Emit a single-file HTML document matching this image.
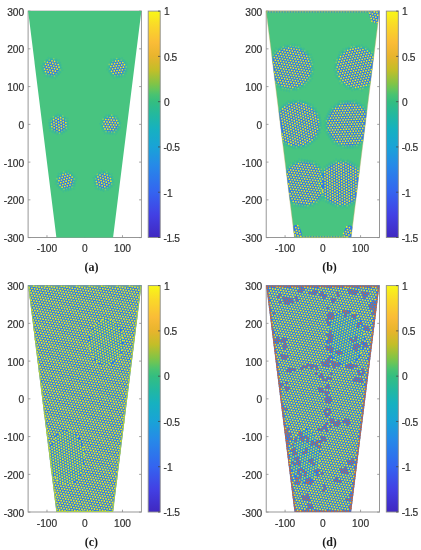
<!DOCTYPE html>
<html><head><meta charset="utf-8"><style>
html,body{margin:0;padding:0;background:#fff;width:421px;height:550px;overflow:hidden}
svg{display:block}
.t{font-family:"Liberation Sans",Arial,sans-serif;font-size:10.2px;fill:#303030;stroke:#303030;stroke-width:0.2px}
.d{letter-spacing:-0.4px}
.cap{font-family:"Liberation Serif","Times New Roman",serif;font-size:12px;font-weight:bold;fill:#1a1a1a}
</style></head><body>
<svg width="421" height="550" viewBox="0 0 421 550"><defs><linearGradient id="cbg" x1="0" y1="0" x2="0" y2="1"><stop offset="0" stop-color="#f8f816"/><stop offset="0.06" stop-color="#fada28"/><stop offset="0.14" stop-color="#fabc37"/><stop offset="0.2" stop-color="#e8b42d"/><stop offset="0.26" stop-color="#c3be28"/><stop offset="0.32" stop-color="#82c446"/><stop offset="0.344" stop-color="#66c55a"/><stop offset="0.368" stop-color="#4ac370"/><stop offset="0.4" stop-color="#34be80"/><stop offset="0.46" stop-color="#22b8a0"/><stop offset="0.52" stop-color="#16b1c0"/><stop offset="0.6" stop-color="#19a3d7"/><stop offset="0.68" stop-color="#268ae8"/><stop offset="0.8" stop-color="#3464f0"/><stop offset="0.9" stop-color="#4240e4"/><stop offset="1" stop-color="#4028c0"/></linearGradient><radialGradient id="sg"><stop offset="0.85" stop-color="#2f78e6"/><stop offset="1" stop-color="#2f78e6" stop-opacity="0"/></radialGradient><clipPath id="trap"><polygon points="28.1,11.1 141.35,11.1 113.04,237.6 56.41,237.6"/></clipPath><radialGradient id="fa"><stop offset="0.569" stop-color="#2f78e6"/><stop offset="0.734" stop-color="#22a2c4" stop-opacity="0.75"/><stop offset="0.862" stop-color="#34b4a4" stop-opacity="0.35"/><stop offset="1" stop-color="#3cb89a" stop-opacity="0"/></radialGradient><radialGradient id="fb0"><stop offset="0.803" stop-color="#2f78e6"/><stop offset="0.879" stop-color="#22a2c4" stop-opacity="0.75"/><stop offset="0.937" stop-color="#34b4a4" stop-opacity="0.35"/><stop offset="1" stop-color="#3cb89a" stop-opacity="0"/></radialGradient><radialGradient id="fb1"><stop offset="0.798" stop-color="#2f78e6"/><stop offset="0.876" stop-color="#22a2c4" stop-opacity="0.75"/><stop offset="0.936" stop-color="#34b4a4" stop-opacity="0.35"/><stop offset="1" stop-color="#3cb89a" stop-opacity="0"/></radialGradient><radialGradient id="fb2"><stop offset="0.813" stop-color="#2f78e6"/><stop offset="0.884" stop-color="#22a2c4" stop-opacity="0.75"/><stop offset="0.94" stop-color="#34b4a4" stop-opacity="0.35"/><stop offset="1" stop-color="#3cb89a" stop-opacity="0"/></radialGradient><radialGradient id="fb3"><stop offset="0.811" stop-color="#2f78e6"/><stop offset="0.884" stop-color="#22a2c4" stop-opacity="0.75"/><stop offset="0.94" stop-color="#34b4a4" stop-opacity="0.35"/><stop offset="1" stop-color="#3cb89a" stop-opacity="0"/></radialGradient><radialGradient id="fb4"><stop offset="0.81" stop-color="#2f78e6"/><stop offset="0.883" stop-color="#22a2c4" stop-opacity="0.75"/><stop offset="0.939" stop-color="#34b4a4" stop-opacity="0.35"/><stop offset="1" stop-color="#3cb89a" stop-opacity="0"/></radialGradient><radialGradient id="fb5"><stop offset="0.81" stop-color="#2f78e6"/><stop offset="0.883" stop-color="#22a2c4" stop-opacity="0.75"/><stop offset="0.939" stop-color="#34b4a4" stop-opacity="0.35"/><stop offset="1" stop-color="#3cb89a" stop-opacity="0"/></radialGradient></defs>
<g transform="translate(0,0)">
<path d="M28.1 237.6h2.3M141.4 237.6h-2.3M28.1 199.85h2.3M141.4 199.85h-2.3M28.1 162.1h2.3M141.4 162.1h-2.3M28.1 124.35h2.3M141.4 124.35h-2.3M28.1 86.6h2.3M141.4 86.6h-2.3M28.1 48.85h2.3M141.4 48.85h-2.3M28.1 11.1h2.3M141.4 11.1h-2.3M46.98 237.5v-2.3M46.98 11.1v2.3M84.72 237.5v-2.3M84.72 11.1v2.3M122.47 237.5v-2.3M122.47 11.1v2.3" stroke="#8c8c8c" stroke-width="0.8" fill="none"/>
<rect x="28.1" y="11.1" width="113.3" height="226.4" fill="none" stroke="#8c8c8c" stroke-width="0.9"/>
</g>
<g transform="translate(0,0)"><polygon points="28.1,11.1 141.35,11.1 113.04,237.6 56.41,237.6" fill="#48c480"/>
<circle cx="51.69" cy="67.72" r="10.9" fill="url(#fa)"/>
<circle cx="117.76" cy="67.72" r="10.9" fill="url(#fa)"/>
<circle cx="58.77" cy="124.35" r="10.9" fill="url(#fa)"/>
<circle cx="110.68" cy="124.35" r="10.9" fill="url(#fa)"/>
<circle cx="65.85" cy="180.97" r="10.9" fill="url(#fa)"/>
<circle cx="103.6" cy="180.97" r="10.9" fill="url(#fa)"/>
<path d="M53.8 58.8h0M49.3 60.2h0M57.3 62h0M44.8 61.7h0M43.8 66.4h0M59.9 69.8h0M58 71.8h0M56.2 73.8h0M46.3 74.2h0M49 74.7h0M51.7 75.3h0M54.4 75.9h0M116.7 58.6h0M112.9 61.5h0M121.1 60.4h0M109.2 64.4h0M109.9 69.1h0M126.1 66.9h0M125.1 69.4h0M124.1 71.9h0M114.9 75.6h0M117.6 75.2h0M120.3 74.9h0M123.1 74.5h0M62.8 116.1h0M58.1 116.5h0M65.6 120h0M53.4 116.9h0M51.4 121.2h0M66.3 128.2h0M64 129.8h0M61.8 131.3h0M52.1 129.4h0M54.6 130.6h0M57.1 131.7h0M59.5 132.9h0M111.7 115.2h0M107.4 117.2h0M115.6 117.9h0M103.1 119.2h0M102.7 123.9h0M119 125.4h0M117.5 127.6h0M115.9 129.9h0M106.1 131.4h0M108.9 131.6h0M111.6 131.9h0M114.3 132.1h0M63.7 172h0M60.3 175.4h0M68.2 173.3h0M57 178.8h0M58.2 183.3h0M74.1 179.1h0M73.4 181.7h0M72.6 184.4h0M64 189.2h0M66.6 188.4h0M69.3 187.7h0M71.9 187h0M106.6 172.3h0M102 173.3h0M109.8 175.8h0M97.3 174.3h0M95.9 178.8h0M111.5 183.9h0M109.5 185.7h0M107.4 187.5h0M97.6 186.8h0M100.2 187.7h0M102.8 188.5h0M105.4 189.4h0" stroke="#c8dc38" stroke-opacity="0.55" stroke-width="1.7" stroke-linecap="round" fill="none"/>
<path d="M48.4 57.6h0M51.1 58.2h0M56.5 59.3h0M59.2 59.9h0M46.6 59.7h0M60 62.5h0M60.9 65.1h0M42.9 63.7h0M61.7 67.7h0M41.1 65.8h0M62.5 70.3h0M42 68.4h0M60.7 72.4h0M42.8 71h0M58.9 74.4h0M43.6 73.6h0M57 76.4h0M44.5 76.2h0M47.2 76.8h0M49.9 77.3h0M52.5 77.9h0M55.2 78.5h0M111.2 59.4h0M114 59h0M119.4 58.2h0M122.1 57.8h0M110.2 61.9h0M123.8 60h0M125.5 62.2h0M108.2 67h0M127.2 64.3h0M107.1 69.5h0M108.8 71.7h0M127.8 69h0M110.5 73.8h0M126.8 71.5h0M112.2 76h0M125.8 74.1h0M113.9 78.2h0M116.6 77.8h0M119.3 77.4h0M122 77h0M124.7 76.6h0M57.9 113.8h0M60.4 114.9h0M65.3 117.3h0M67.8 118.4h0M55.6 115.4h0M68 121.1h0M68.3 123.9h0M51.1 118.5h0M68.5 126.6h0M48.9 120.1h0M68.8 129.3h0M49.1 122.8h0M66.5 130.9h0M49.4 125.5h0M64.3 132.5h0M49.6 128.3h0M62 134.1h0M49.8 131h0M52.3 132.2h0M54.8 133.3h0M57.3 134.5h0M106.2 114.7h0M108.9 115h0M114.4 115.4h0M117.1 115.7h0M104.6 117h0M118.3 118.2h0M119.5 120.7h0M101.5 121.5h0M120.6 123.1h0M99.9 123.7h0M101.1 126.2h0M120.2 127.9h0M102.2 128.7h0M118.6 130.1h0M103.4 131.2h0M117.1 132.4h0M104.6 133.6h0M107.3 133.9h0M110 134.1h0M112.8 134.4h0M115.5 134.6h0M58.4 173.5h0M61 172.8h0M66.3 171.3h0M69 170.6h0M57.7 176.1h0M70.9 172.6h0M72.8 174.5h0M56.2 181.4h0M74.8 176.4h0M55.5 184h0M76.7 178.4h0M57.5 186h0M76 181h0M59.4 187.9h0M75.3 183.7h0M61.3 189.9h0M74.6 186.3h0M63.3 191.8h0M65.9 191.1h0M68.6 190.4h0M71.2 189.7h0M73.9 189h0M101.4 170.6h0M104 171.4h0M109.2 173.1h0M111.8 174h0M99.4 172.4h0M112.4 176.7h0M113 179.3h0M95.3 176.1h0M113.6 182h0M93.3 177.9h0M114.1 184.7h0M93.8 180.6h0M112.1 186.5h0M94.4 183.3h0M110 188.4h0M95 186h0M108 190.2h0M95.6 188.7h0M98.2 189.5h0M100.8 190.3h0M103.4 191.2h0" stroke="#2cb0b4" stroke-opacity="0.3" stroke-width="1.6" stroke-linecap="round" fill="none"/>
<path d="M52 60.8h0M54.6 61.4h0M47.5 62.3h0M50.1 62.8h0M52.8 63.4h0M55.5 64h0M58.2 64.6h0M45.6 64.3h0M48.3 64.9h0M51 65.5h0M53.7 66h0M56.3 66.6h0M59 67.2h0M46.5 66.9h0M49.1 67.5h0M51.8 68.1h0M54.5 68.6h0M57.2 69.2h0M44.6 69h0M47.3 69.5h0M50 70.1h0M52.7 70.7h0M55.4 71.2h0M45.5 71.6h0M48.2 72.1h0M50.8 72.7h0M53.5 73.3h0M115.6 61.1h0M118.4 60.8h0M111.9 64.1h0M114.6 63.7h0M117.3 63.3h0M120 62.9h0M122.8 62.5h0M110.9 66.6h0M113.6 66.2h0M116.3 65.8h0M119 65.5h0M121.7 65.1h0M124.4 64.7h0M112.6 68.8h0M115.3 68.4h0M118 68h0M120.7 67.6h0M123.4 67.2h0M111.5 71.3h0M114.3 70.9h0M117 70.5h0M119.7 70.2h0M122.4 69.8h0M113.2 73.5h0M115.9 73.1h0M118.7 72.7h0M121.4 72.3h0M60.6 117.7h0M63.1 118.8h0M55.9 118.1h0M58.3 119.2h0M60.8 120.4h0M63.3 121.6h0M65.8 122.7h0M53.6 119.7h0M56.1 120.8h0M58.6 122h0M61.1 123.1h0M63.6 124.3h0M66 125.5h0M53.9 122.4h0M56.3 123.5h0M58.8 124.7h0M61.3 125.9h0M63.8 127h0M51.6 124h0M54.1 125.1h0M56.6 126.3h0M59.1 127.4h0M61.5 128.6h0M51.9 126.7h0M54.3 127.8h0M56.8 129h0M59.3 130.2h0M110.1 117.5h0M112.8 117.7h0M105.8 119.5h0M108.5 119.7h0M111.3 119.9h0M114 120.2h0M116.7 120.4h0M104.2 121.7h0M107 121.9h0M109.7 122.2h0M112.4 122.4h0M115.2 122.7h0M117.9 122.9h0M105.4 124.2h0M108.1 124.4h0M110.9 124.7h0M113.6 124.9h0M116.3 125.1h0M103.8 126.4h0M106.6 126.7h0M109.3 126.9h0M112 127.1h0M114.7 127.4h0M105 128.9h0M107.7 129.2h0M110.4 129.4h0M113.2 129.6h0M63 174.7h0M65.6 174h0M59.6 178h0M62.2 177.3h0M64.9 176.6h0M67.5 175.9h0M70.2 175.2h0M58.9 180.7h0M61.5 180h0M64.2 179.3h0M66.8 178.6h0M69.5 177.9h0M72.1 177.1h0M60.8 182.6h0M63.5 181.9h0M66.1 181.2h0M68.8 180.5h0M71.4 179.8h0M60.1 185.3h0M62.8 184.6h0M65.4 183.9h0M68.1 183.2h0M70.7 182.4h0M62.1 187.2h0M64.7 186.5h0M67.3 185.8h0M70 185.1h0M104.6 174.1h0M107.2 175h0M100 175.1h0M102.6 176h0M105.2 176.8h0M107.8 177.7h0M110.4 178.5h0M97.9 176.9h0M100.5 177.8h0M103.1 178.6h0M105.7 179.5h0M108.3 180.3h0M110.9 181.2h0M98.5 179.6h0M101.1 180.5h0M103.7 181.3h0M106.3 182.2h0M108.9 183h0M96.4 181.5h0M99.1 182.3h0M101.7 183.2h0M104.3 184h0M106.9 184.8h0M97 184.1h0M99.6 185h0M102.2 185.8h0M104.8 186.7h0" stroke="#20b4cc" stroke-opacity="0.3" stroke-width="2.3" stroke-linecap="round" fill="none"/>
<path d="M52 60.8h0M54.6 61.4h0M47.5 62.3h0M50.1 62.8h0M52.8 63.4h0M55.5 64h0M58.2 64.6h0M45.6 64.3h0M48.3 64.9h0M51 65.5h0M53.7 66h0M56.3 66.6h0M59 67.2h0M46.5 66.9h0M49.1 67.5h0M51.8 68.1h0M54.5 68.6h0M57.2 69.2h0M44.6 69h0M47.3 69.5h0M50 70.1h0M52.7 70.7h0M55.4 71.2h0M45.5 71.6h0M48.2 72.1h0M50.8 72.7h0M53.5 73.3h0M115.6 61.1h0M118.4 60.8h0M111.9 64.1h0M114.6 63.7h0M117.3 63.3h0M120 62.9h0M122.8 62.5h0M110.9 66.6h0M113.6 66.2h0M116.3 65.8h0M119 65.5h0M121.7 65.1h0M124.4 64.7h0M112.6 68.8h0M115.3 68.4h0M118 68h0M120.7 67.6h0M123.4 67.2h0M111.5 71.3h0M114.3 70.9h0M117 70.5h0M119.7 70.2h0M122.4 69.8h0M113.2 73.5h0M115.9 73.1h0M118.7 72.7h0M121.4 72.3h0M60.6 117.7h0M63.1 118.8h0M55.9 118.1h0M58.3 119.2h0M60.8 120.4h0M63.3 121.6h0M65.8 122.7h0M53.6 119.7h0M56.1 120.8h0M58.6 122h0M61.1 123.1h0M63.6 124.3h0M66 125.5h0M53.9 122.4h0M56.3 123.5h0M58.8 124.7h0M61.3 125.9h0M63.8 127h0M51.6 124h0M54.1 125.1h0M56.6 126.3h0M59.1 127.4h0M61.5 128.6h0M51.9 126.7h0M54.3 127.8h0M56.8 129h0M59.3 130.2h0M110.1 117.5h0M112.8 117.7h0M105.8 119.5h0M108.5 119.7h0M111.3 119.9h0M114 120.2h0M116.7 120.4h0M104.2 121.7h0M107 121.9h0M109.7 122.2h0M112.4 122.4h0M115.2 122.7h0M117.9 122.9h0M105.4 124.2h0M108.1 124.4h0M110.9 124.7h0M113.6 124.9h0M116.3 125.1h0M103.8 126.4h0M106.6 126.7h0M109.3 126.9h0M112 127.1h0M114.7 127.4h0M105 128.9h0M107.7 129.2h0M110.4 129.4h0M113.2 129.6h0M63 174.7h0M65.6 174h0M59.6 178h0M62.2 177.3h0M64.9 176.6h0M67.5 175.9h0M70.2 175.2h0M58.9 180.7h0M61.5 180h0M64.2 179.3h0M66.8 178.6h0M69.5 177.9h0M72.1 177.1h0M60.8 182.6h0M63.5 181.9h0M66.1 181.2h0M68.8 180.5h0M71.4 179.8h0M60.1 185.3h0M62.8 184.6h0M65.4 183.9h0M68.1 183.2h0M70.7 182.4h0M62.1 187.2h0M64.7 186.5h0M67.3 185.8h0M70 185.1h0M104.6 174.1h0M107.2 175h0M100 175.1h0M102.6 176h0M105.2 176.8h0M107.8 177.7h0M110.4 178.5h0M97.9 176.9h0M100.5 177.8h0M103.1 178.6h0M105.7 179.5h0M108.3 180.3h0M110.9 181.2h0M98.5 179.6h0M101.1 180.5h0M103.7 181.3h0M106.3 182.2h0M108.9 183h0M96.4 181.5h0M99.1 182.3h0M101.7 183.2h0M104.3 184h0M106.9 184.8h0M97 184.1h0M99.6 185h0M102.2 185.8h0M104.8 186.7h0" stroke="#faec18" stroke-width="1.7" stroke-linecap="round" fill="none"/></g>
<g transform="translate(0,0)">
<text x="24.2" y="242.1" text-anchor="end" class="t">-300</text>
<text x="24.2" y="204.35" text-anchor="end" class="t">-200</text>
<text x="24.2" y="166.6" text-anchor="end" class="t">-100</text>
<text x="24.2" y="128.85" text-anchor="end" class="t">0</text>
<text x="24.2" y="91.1" text-anchor="end" class="t">100</text>
<text x="24.2" y="53.35" text-anchor="end" class="t">200</text>
<text x="24.2" y="15.6" text-anchor="end" class="t">300</text>
<text x="46.98" y="252.1" text-anchor="middle" class="t">-100</text>
<text x="84.72" y="252.1" text-anchor="middle" class="t">0</text>
<text x="122.47" y="252.1" text-anchor="middle" class="t">100</text>
<rect x="148.2" y="11.1" width="12" height="226.4" fill="url(#cbg)" stroke="#8c8c8c" stroke-width="0.9"/>
<path d="M160.2 11.1h-2.2" stroke="#444" stroke-width="0.8"/>
<text x="163.9" y="15.4" class="t">1</text>
<path d="M160.2 56.38h-2.2" stroke="#444" stroke-width="0.8"/>
<text x="163.9" y="60.68" class="t d">0.5</text>
<path d="M160.2 101.66h-2.2" stroke="#444" stroke-width="0.8"/>
<text x="163.9" y="105.96" class="t">0</text>
<path d="M160.2 146.94h-2.2" stroke="#444" stroke-width="0.8"/>
<text x="163.6" y="151.24" class="t d">-0.5</text>
<path d="M160.2 192.22h-2.2" stroke="#444" stroke-width="0.8"/>
<text x="163.6" y="196.52" class="t">-1</text>
<path d="M160.2 237.5h-2.2" stroke="#444" stroke-width="0.8"/>
<text x="163.6" y="241.8" class="t d">-1.5</text>
<text x="91.4" y="271" text-anchor="middle" class="cap">(a)</text>
</g>
<g transform="translate(238.1,0)">
<path d="M28.1 237.6h2.3M141.4 237.6h-2.3M28.1 199.85h2.3M141.4 199.85h-2.3M28.1 162.1h2.3M141.4 162.1h-2.3M28.1 124.35h2.3M141.4 124.35h-2.3M28.1 86.6h2.3M141.4 86.6h-2.3M28.1 48.85h2.3M141.4 48.85h-2.3M28.1 11.1h2.3M141.4 11.1h-2.3M46.98 237.5v-2.3M46.98 11.1v2.3M84.72 237.5v-2.3M84.72 11.1v2.3M122.47 237.5v-2.3M122.47 11.1v2.3" stroke="#8c8c8c" stroke-width="0.8" fill="none"/>
<rect x="28.1" y="11.1" width="113.3" height="226.4" fill="none" stroke="#8c8c8c" stroke-width="0.9"/>
</g>
<g transform="translate(238.1,0)"><polygon points="28.1,11.1 141.35,11.1 113.04,237.6 56.41,237.6" fill="#48c480"/>
<g clip-path="url(#trap)">
<circle cx="52.64" cy="67.72" r="23.9" fill="url(#fb0)"/>
<circle cx="118.89" cy="67.72" r="23.3" fill="url(#fb1)"/>
<circle cx="59.24" cy="124.35" r="25.1" fill="url(#fb2)"/>
<circle cx="110.68" cy="124.35" r="24.9" fill="url(#fb3)"/>
<circle cx="65.85" cy="183.62" r="24.7" fill="url(#fb4)"/>
<circle cx="103.6" cy="183.62" r="24.7" fill="url(#fb5)"/>
<rect x="28.1" y="11.1" width="113.3" height="1.4" fill="#2f78e6" opacity="0.7"/>
<rect x="56.41" y="236" width="56.62" height="1.5" fill="#2f78e6" opacity="0.55"/>
<ellipse cx="57.91" cy="237.5" rx="6" ry="12.5" fill="#2f78e6"/>
<ellipse cx="111.54" cy="237.5" rx="6.5" ry="12" fill="#2f78e6"/>
<ellipse cx="138.9" cy="12.6" rx="8" ry="11" fill="#2f78e6"/>
</g>
<polygon points="28.1,11.1 141.35,11.1 113.04,237.6 56.41,237.6" fill="none" stroke="#c8b060" stroke-opacity="0.6" stroke-width="0.7"/>
<path d="M52.3 46h0M55 46.5h0M57.7 46.9h0M60.4 47.4h0M45.1 47.1h0M47.8 47.6h0M64 50.5h0M66.7 50.9h0M43.4 49.2h0M67.7 53.5h0M38.9 50.8h0M71.3 56.6h0M37.2 52.9h0M72.2 59.1h0M35.4 55h0M73.2 61.7h0M74.1 64.3h0M73.3 69h0M74.2 71.5h0M72.5 73.6h0M71.6 78.3h0M69.9 80.4h0M68.1 82.5h0M66.4 84.6h0M37.6 81.9h0M61.9 86.2h0M38.5 84.5h0M41.2 85h0M57.4 87.8h0M60.1 88.3h0M44.9 88h0M47.6 88.5h0M50.3 89h0M53 89.5h0M113.1 47.1h0M115.8 46.6h0M106.9 50.9h0M123 47.4h0M103.4 54h0M127.5 48.9h0M99 59.8h0M133.8 52.4h0M98.2 62.4h0M98.3 69.7h0M99.3 74.3h0M102.1 81h0M103.9 83h0M110.3 86.5h0M114.8 88h0M130.9 84.6h0M122 88.9h0M124.7 88.3h0M60.1 101.9h0M62.7 102.9h0M70.4 105.7h0M73 106.6h0M55.4 102.8h0M76 110.3h0M50.8 103.6h0M79.1 113.9h0M48.7 105.3h0M79.6 116.6h0M42.4 110.6h0M81 124.7h0M81.5 127.4h0M79.8 131.8h0M78.2 136.3h0M76.1 138.1h0M69.8 143.4h0M67.7 145.1h0M63.1 145.9h0M45.5 142.1h0M48.1 143h0M55.8 145.8h0M58.4 146.8h0M102.7 103.4h0M105.5 103.2h0M108.2 103.1h0M110.9 103h0M113.7 102.8h0M116.4 102.7h0M98.7 106h0M120.6 104.8h0M94.8 108.6h0M124.9 107h0M93.5 111h0M126.4 109.3h0M92.3 113.4h0M127.8 111.6h0M91 115.9h0M89.8 118.3h0M88.5 120.8h0M88.8 125.5h0M89 130.2h0M90.5 132.5h0M92 134.8h0M93.5 137.1h0M95 139.4h0M96.5 141.7h0M100.7 143.9h0M122.6 142.7h0M105 146h0M107.7 145.9h0M110.4 145.7h0M113.2 145.6h0M115.9 145.5h0M118.6 145.3h0M62 161.5h0M64.8 161.9h0M67.5 162.3h0M70.2 162.7h0M72.9 163h0M75.6 163.4h0M57.6 163.3h0M79.3 166.3h0M53.2 165.1h0M83.1 169.3h0M51.6 167.2h0M84.1 171.8h0M49.9 169.4h0M83.5 195.7h0M81.8 197.8h0M80.1 200h0M78.5 202.2h0M74.1 203.9h0M56.1 203.8h0M58.8 204.2h0M61.5 204.6h0M64.2 205h0M66.9 205.3h0M69.7 205.7h0M107.6 161.5h0M110 162.8h0M112.4 164.1h0M114.8 165.4h0M117.3 166.7h0M119.7 168h0M102.8 161.7h0M98.1 161.9h0M95.8 163.3h0M93.4 164.8h0M91.1 166.2h0M88.8 167.7h0M86.5 169.1h0M116.1 201h0M113.8 202.5h0M111.4 203.9h0M109.1 205.4h0M85 195.2h0M104.4 205.5h0M87.5 199.3h0M89.9 200.5h0M92.4 201.8h0M94.8 203.1h0M97.2 204.4h0M99.6 205.7h0" stroke="#c8dc38" stroke-opacity="0.55" stroke-width="1.7" stroke-linecap="round" fill="none"/>
<path d="M54.1 43.9h0M56.8 44.4h0M59.5 44.8h0M62.2 45.3h0M46.9 45h0M49.6 45.5h0M63.1 47.9h0M65.8 48.4h0M42.4 46.7h0M69.4 51.4h0M38 48.3h0M40.7 48.8h0M70.4 54h0M73.1 54.5h0M36.2 50.4h0M74 57h0M34.5 52.5h0M74.9 59.6h0M75.9 62.2h0M75 66.9h0M76 69.4h0M75.2 74.1h0M73.4 76.2h0M74.3 78.8h0M72.6 80.9h0M70.8 83h0M69.1 85.1h0M64.6 86.7h0M67.3 87.2h0M62.8 88.8h0M39.5 87.1h0M42.2 87.6h0M55.7 89.9h0M58.4 90.4h0M43.1 90.1h0M45.8 90.6h0M48.5 91.1h0M51.2 91.6h0M114 44.5h0M105.1 48.8h0M107.7 48.3h0M110.4 47.7h0M118.5 46h0M121.1 45.4h0M123.8 44.8h0M101.5 52h0M104.2 51.4h0M125.7 46.9h0M128.3 46.3h0M100.7 54.6h0M130.2 48.3h0M99.8 57.2h0M132 50.4h0M96.3 60.4h0M97.3 65h0M96.5 67.6h0M95.6 70.2h0M97.4 72.3h0M96.6 74.9h0M98.4 76.9h0M100.3 79h0M101.3 83.6h0M105.8 85.1h0M107.6 87.1h0M109.4 89.1h0M112.1 88.6h0M113.9 90.6h0M116.6 90h0M119.3 89.5h0M127.3 87.8h0M130 87.2h0M123.8 90.9h0M62.2 100.2h0M64.8 101.1h0M67.4 102.1h0M69.9 103h0M72.5 103.9h0M75.1 104.9h0M55 100.1h0M57.5 101h0M75.6 107.6h0M78.1 108.5h0M50.3 100.9h0M52.9 101.8h0M78.6 111.2h0M81.2 112.1h0M48.2 102.6h0M81.7 114.8h0M46.1 104.4h0M82.1 117.5h0M44 106.2h0M82.6 120.2h0M41.9 107.9h0M83.1 122.9h0M83.6 125.6h0M84 128.3h0M81.9 130.1h0M82.4 132.8h0M80.3 134.5h0M80.8 137.2h0M78.7 139h0M76.6 140.8h0M74.5 142.5h0M72.4 144.3h0M70.3 146.1h0M65.6 146.9h0M68.2 147.8h0M61 147.7h0M63.5 148.6h0M46 144.8h0M48.6 145.7h0M51.1 146.6h0M53.7 147.6h0M56.3 148.5h0M101.2 101.1h0M104 100.9h0M106.7 100.8h0M109.4 100.7h0M112.2 100.5h0M114.9 100.4h0M117.6 100.2h0M97.2 103.7h0M100 103.5h0M119.1 102.5h0M121.9 102.4h0M93.3 106.3h0M96 106.1h0M123.4 104.7h0M126.1 104.5h0M92 108.7h0M127.6 106.8h0M90.8 111.1h0M89.5 113.6h0M88.3 116h0M87 118.5h0M85.8 120.9h0M87.3 123.2h0M86.1 125.6h0M87.5 127.9h0M86.3 130.4h0M87.8 132.7h0M89.3 135h0M90.8 137.3h0M92.3 139.6h0M93.8 141.9h0M95.3 144.2h0M98 144h0M99.5 146.3h0M102.2 146.2h0M121.4 145.2h0M103.7 148.5h0M106.4 148.3h0M109.2 148.2h0M111.9 148h0M114.7 147.9h0M117.4 147.8h0M120.1 147.6h0M61 159h0M63.7 159.4h0M66.4 159.7h0M69.2 160.1h0M71.9 160.5h0M74.6 160.9h0M77.3 161.3h0M56.6 160.8h0M59.3 161.1h0M78.3 163.8h0M81 164.2h0M52.2 162.5h0M54.9 162.9h0M82.1 166.7h0M50.5 164.7h0M48.8 166.8h0M84.5 198.2h0M82.9 200.4h0M81.2 202.5h0M76.8 204.3h0M79.5 204.7h0M53.4 203.4h0M72.4 206.1h0M75.1 206.5h0M54.4 206h0M57.1 206.4h0M59.8 206.7h0M62.5 207.1h0M65.3 207.5h0M68 207.9h0M70.7 208.3h0M109.9 160.1h0M112.3 161.4h0M114.7 162.7h0M117.2 164h0M119.6 165.2h0M102.7 159h0M105.2 160.3h0M98 159.1h0M100.4 160.4h0M95.7 160.6h0M93.3 162h0M91 163.5h0M88.7 164.9h0M86.4 166.4h0M116.2 203.7h0M113.9 205.2h0M111.5 206.6h0M106.8 206.8h0M109.2 208.1h0M85.1 198h0M102 207h0M104.5 208.3h0M85.2 200.7h0M87.6 202h0M90 203.3h0M92.5 204.6h0M94.9 205.9h0M97.3 207.1h0" stroke="#2cb0b4" stroke-opacity="0.3" stroke-width="1.6" stroke-linecap="round" fill="none"/>
<path d="M50.5 48.1h0M53.2 48.6h0M55.9 49h0M58.6 49.5h0M61.3 50h0M46.1 49.7h0M48.8 50.2h0M51.5 50.7h0M54.2 51.1h0M56.9 51.6h0M59.6 52.1h0M62.3 52.6h0M65 53h0M41.6 51.3h0M44.3 51.8h0M47 52.3h0M49.7 52.8h0M52.4 53.2h0M55.1 53.7h0M57.8 54.2h0M60.5 54.7h0M63.2 55.1h0M65.9 55.6h0M68.6 56.1h0M39.9 53.4h0M42.6 53.9h0M45.3 54.4h0M48 54.9h0M50.7 55.3h0M53.3 55.8h0M56 56.3h0M58.7 56.8h0M61.4 57.2h0M64.1 57.7h0M66.8 58.2h0M69.5 58.7h0M38.1 55.5h0M40.8 56h0M43.5 56.5h0M46.2 57h0M48.9 57.4h0M51.6 57.9h0M54.3 58.4h0M57 58.9h0M59.7 59.3h0M62.4 59.8h0M65.1 60.3h0M67.8 60.8h0M70.5 61.2h0M36.3 57.6h0M39 58.1h0M41.7 58.6h0M44.4 59h0M47.1 59.5h0M49.8 60h0M52.5 60.5h0M55.2 61h0M57.9 61.4h0M60.6 61.9h0M63.3 62.4h0M66 62.9h0M68.7 63.3h0M71.4 63.8h0M37.3 60.2h0M40 60.7h0M42.7 61.1h0M45.4 61.6h0M48.1 62.1h0M50.8 62.6h0M53.5 63.1h0M56.2 63.5h0M58.9 64h0M61.6 64.5h0M64.3 65h0M67 65.4h0M69.7 65.9h0M72.4 66.4h0M35.5 62.3h0M38.2 62.8h0M40.9 63.2h0M43.6 63.7h0M46.3 64.2h0M49 64.7h0M51.7 65.2h0M54.4 65.6h0M57.1 66.1h0M59.8 66.6h0M62.5 67.1h0M65.2 67.5h0M67.9 68h0M70.6 68.5h0M36.4 64.9h0M39.1 65.3h0M41.8 65.8h0M44.5 66.3h0M47.2 66.8h0M49.9 67.2h0M52.6 67.7h0M55.3 68.2h0M58 68.7h0M60.7 69.2h0M63.4 69.6h0M66.1 70.1h0M68.8 70.6h0M71.5 71.1h0M37.4 67.4h0M40.1 67.9h0M42.8 68.4h0M45.5 68.9h0M48.2 69.3h0M50.9 69.8h0M53.6 70.3h0M56.3 70.8h0M59 71.3h0M61.7 71.7h0M64.4 72.2h0M67.1 72.7h0M69.8 73.2h0M38.3 70h0M41 70.5h0M43.7 71h0M46.4 71.4h0M49.1 71.9h0M51.8 72.4h0M54.5 72.9h0M57.2 73.4h0M59.9 73.8h0M62.6 74.3h0M65.3 74.8h0M68 75.3h0M70.7 75.7h0M36.6 72.1h0M39.3 72.6h0M42 73.1h0M44.7 73.5h0M47.4 74h0M50.1 74.5h0M52.8 75h0M55.4 75.4h0M58.1 75.9h0M60.8 76.4h0M63.5 76.9h0M66.2 77.4h0M68.9 77.8h0M37.5 74.7h0M40.2 75.2h0M42.9 75.6h0M45.6 76.1h0M48.3 76.6h0M51 77.1h0M53.7 77.5h0M56.4 78h0M59.1 78.5h0M61.8 79h0M64.5 79.5h0M67.2 79.9h0M38.4 77.3h0M41.1 77.7h0M43.8 78.2h0M46.5 78.7h0M49.2 79.2h0M51.9 79.6h0M54.6 80.1h0M57.3 80.6h0M60 81.1h0M62.7 81.6h0M65.4 82h0M39.4 79.8h0M42.1 80.3h0M44.8 80.8h0M47.5 81.3h0M50.2 81.7h0M52.9 82.2h0M55.6 82.7h0M58.3 83.2h0M61 83.6h0M63.7 84.1h0M40.3 82.4h0M43 82.9h0M45.7 83.4h0M48.4 83.8h0M51.1 84.3h0M53.8 84.8h0M56.5 85.3h0M59.2 85.7h0M43.9 85.5h0M46.6 85.9h0M49.3 86.4h0M52 86.9h0M54.7 87.4h0M109.6 50.3h0M112.3 49.7h0M114.9 49.2h0M117.6 48.6h0M120.3 48h0M106.1 53.5h0M108.7 52.9h0M111.4 52.3h0M114.1 51.8h0M116.8 51.2h0M119.5 50.6h0M122.1 50.1h0M124.8 49.5h0M102.5 56.6h0M105.2 56.1h0M107.9 55.5h0M110.6 54.9h0M113.2 54.4h0M115.9 53.8h0M118.6 53.2h0M121.3 52.7h0M124 52.1h0M126.6 51.5h0M129.3 51h0M101.7 59.3h0M104.4 58.7h0M107 58.1h0M109.7 57.5h0M112.4 57h0M115.1 56.4h0M117.8 55.8h0M120.4 55.3h0M123.1 54.7h0M125.8 54.1h0M128.5 53.6h0M131.2 53h0M100.8 61.9h0M103.5 61.3h0M106.2 60.7h0M108.9 60.1h0M111.6 59.6h0M114.2 59h0M116.9 58.4h0M119.6 57.9h0M122.3 57.3h0M125 56.7h0M127.6 56.2h0M130.3 55.6h0M133 55h0M100 64.5h0M102.7 63.9h0M105.3 63.3h0M108 62.8h0M110.7 62.2h0M113.4 61.6h0M116.1 61h0M118.7 60.5h0M121.4 59.9h0M124.1 59.3h0M126.8 58.8h0M129.5 58.2h0M132.1 57.6h0M134.8 57.1h0M99.1 67.1h0M101.8 66.5h0M104.5 65.9h0M107.2 65.4h0M109.9 64.8h0M112.5 64.2h0M115.2 63.7h0M117.9 63.1h0M120.6 62.5h0M123.3 61.9h0M125.9 61.4h0M128.6 60.8h0M131.3 60.2h0M134 59.7h0M101 69.1h0M103.7 68.5h0M106.3 68h0M109 67.4h0M111.7 66.8h0M114.4 66.3h0M117.1 65.7h0M119.7 65.1h0M122.4 64.5h0M125.1 64h0M127.8 63.4h0M130.5 62.8h0M133.1 62.3h0M100.1 71.7h0M102.8 71.1h0M105.5 70.6h0M108.2 70h0M110.8 69.4h0M113.5 68.9h0M116.2 68.3h0M118.9 67.7h0M121.6 67.2h0M124.2 66.6h0M126.9 66h0M129.6 65.4h0M132.3 64.9h0M102 73.7h0M104.6 73.2h0M107.3 72.6h0M110 72h0M112.7 71.5h0M115.4 70.9h0M118 70.3h0M120.7 69.8h0M123.4 69.2h0M126.1 68.6h0M128.8 68.1h0M131.4 67.5h0M101.1 76.4h0M103.8 75.8h0M106.5 75.2h0M109.2 74.6h0M111.8 74.1h0M114.5 73.5h0M117.2 72.9h0M119.9 72.4h0M122.6 71.8h0M125.2 71.2h0M127.9 70.7h0M130.6 70.1h0M133.3 69.5h0M102.9 78.4h0M105.6 77.8h0M108.3 77.3h0M111 76.7h0M113.7 76.1h0M116.3 75.5h0M119 75h0M121.7 74.4h0M124.4 73.8h0M127.1 73.3h0M129.7 72.7h0M132.4 72.1h0M104.8 80.4h0M107.5 79.9h0M110.1 79.3h0M112.8 78.7h0M115.5 78.1h0M118.2 77.6h0M120.9 77h0M123.5 76.4h0M126.2 75.9h0M128.9 75.3h0M131.6 74.7h0M106.6 82.5h0M109.3 81.9h0M112 81.3h0M114.7 80.8h0M117.3 80.2h0M120 79.6h0M122.7 79h0M125.4 78.5h0M128.1 77.9h0M130.7 77.3h0M108.4 84.5h0M111.1 83.9h0M113.8 83.4h0M116.5 82.8h0M119.2 82.2h0M121.8 81.7h0M124.5 81.1h0M127.2 80.5h0M129.9 79.9h0M113 86h0M115.6 85.4h0M118.3 84.8h0M121 84.3h0M123.7 83.7h0M126.4 83.1h0M129 82.5h0M131.7 82h0M117.5 87.4h0M120.2 86.9h0M122.8 86.3h0M125.5 85.7h0M128.2 85.2h0M65.3 103.8h0M67.8 104.8h0M58 103.7h0M60.6 104.6h0M63.2 105.6h0M65.7 106.5h0M68.3 107.4h0M70.9 108.4h0M73.5 109.3h0M53.3 104.5h0M55.9 105.5h0M58.5 106.4h0M61.1 107.3h0M63.6 108.3h0M66.2 109.2h0M68.8 110.1h0M71.4 111.1h0M73.9 112h0M76.5 113h0M51.2 106.3h0M53.8 107.2h0M56.4 108.2h0M59 109.1h0M61.5 110h0M64.1 111h0M66.7 111.9h0M69.3 112.8h0M71.8 113.8h0M74.4 114.7h0M77 115.7h0M46.6 107.1h0M49.1 108h0M51.7 109h0M54.3 109.9h0M56.9 110.9h0M59.4 111.8h0M62 112.7h0M64.6 113.7h0M67.2 114.6h0M69.7 115.5h0M72.3 116.5h0M74.9 117.4h0M77.5 118.4h0M80 119.3h0M44.5 108.9h0M47 109.8h0M49.6 110.7h0M52.2 111.7h0M54.8 112.6h0M57.3 113.6h0M59.9 114.5h0M62.5 115.4h0M65.1 116.4h0M67.6 117.3h0M70.2 118.2h0M72.8 119.2h0M75.4 120.1h0M77.9 121.1h0M80.5 122h0M44.9 111.6h0M47.5 112.5h0M50.1 113.4h0M52.7 114.4h0M55.2 115.3h0M57.8 116.3h0M60.4 117.2h0M63 118.1h0M65.5 119.1h0M68.1 120h0M70.7 120.9h0M73.3 121.9h0M75.8 122.8h0M78.4 123.8h0M42.8 113.3h0M45.4 114.3h0M48 115.2h0M50.6 116.1h0M53.1 117.1h0M55.7 118h0M58.3 119h0M60.9 119.9h0M63.4 120.8h0M66 121.8h0M68.6 122.7h0M71.2 123.6h0M73.7 124.6h0M76.3 125.5h0M78.9 126.5h0M43.3 116h0M45.9 117h0M48.5 117.9h0M51 118.8h0M53.6 119.8h0M56.2 120.7h0M58.8 121.7h0M61.3 122.6h0M63.9 123.5h0M66.5 124.5h0M69.1 125.4h0M71.6 126.3h0M74.2 127.3h0M76.8 128.2h0M79.4 129.1h0M43.8 118.7h0M46.4 119.7h0M48.9 120.6h0M51.5 121.5h0M54.1 122.5h0M56.7 123.4h0M59.2 124.3h0M61.8 125.3h0M64.4 126.2h0M67 127.2h0M69.5 128.1h0M72.1 129h0M74.7 130h0M77.3 130.9h0M44.3 121.4h0M46.8 122.4h0M49.4 123.3h0M52 124.2h0M54.6 125.2h0M57.1 126.1h0M59.7 127h0M62.3 128h0M64.9 128.9h0M67.4 129.9h0M70 130.8h0M72.6 131.7h0M75.2 132.7h0M77.7 133.6h0M44.7 124.1h0M47.3 125.1h0M49.9 126h0M52.5 126.9h0M55 127.9h0M57.6 128.8h0M60.2 129.7h0M62.8 130.7h0M65.3 131.6h0M67.9 132.6h0M70.5 133.5h0M73.1 134.4h0M75.6 135.4h0M45.2 126.8h0M47.8 127.8h0M50.4 128.7h0M52.9 129.6h0M55.5 130.6h0M58.1 131.5h0M60.7 132.4h0M63.2 133.4h0M65.8 134.3h0M68.4 135.3h0M71 136.2h0M73.5 137.1h0M45.7 129.5h0M48.3 130.5h0M50.8 131.4h0M53.4 132.3h0M56 133.3h0M58.6 134.2h0M61.1 135.1h0M63.7 136.1h0M66.3 137h0M68.9 138h0M71.4 138.9h0M74 139.8h0M46.2 132.2h0M48.7 133.2h0M51.3 134.1h0M53.9 135h0M56.5 136h0M59 136.9h0M61.6 137.8h0M64.2 138.8h0M66.8 139.7h0M69.3 140.7h0M71.9 141.6h0M44.1 134h0M46.6 134.9h0M49.2 135.9h0M51.8 136.8h0M54.4 137.7h0M56.9 138.7h0M59.5 139.6h0M62.1 140.5h0M64.7 141.5h0M67.2 142.4h0M44.6 136.7h0M47.1 137.6h0M49.7 138.6h0M52.3 139.5h0M54.9 140.4h0M57.4 141.4h0M60 142.3h0M62.6 143.2h0M65.1 144.2h0M45 139.4h0M47.6 140.3h0M50.2 141.3h0M52.8 142.2h0M55.3 143.1h0M57.9 144.1h0M60.5 145h0M50.7 143.9h0M53.2 144.9h0M101.5 105.8h0M104.2 105.7h0M106.9 105.5h0M109.7 105.4h0M112.4 105.2h0M115.2 105.1h0M117.9 105h0M97.5 108.4h0M100.2 108.3h0M103 108.1h0M105.7 108h0M108.4 107.8h0M111.2 107.7h0M113.9 107.5h0M116.6 107.4h0M119.4 107.3h0M122.1 107.1h0M96.3 110.8h0M99 110.7h0M101.7 110.6h0M104.5 110.4h0M107.2 110.3h0M109.9 110.1h0M112.7 110h0M115.4 109.8h0M118.1 109.7h0M120.9 109.6h0M123.6 109.4h0M95 113.3h0M97.7 113.1h0M100.5 113h0M103.2 112.9h0M106 112.7h0M108.7 112.6h0M111.4 112.4h0M114.2 112.3h0M116.9 112.1h0M119.6 112h0M122.4 111.9h0M125.1 111.7h0M93.8 115.7h0M96.5 115.6h0M99.2 115.4h0M102 115.3h0M104.7 115.2h0M107.4 115h0M110.2 114.9h0M112.9 114.7h0M115.7 114.6h0M118.4 114.4h0M121.1 114.3h0M123.9 114.2h0M126.6 114h0M92.5 118.2h0M95.3 118h0M98 117.9h0M100.7 117.7h0M103.5 117.6h0M106.2 117.5h0M108.9 117.3h0M111.7 117.2h0M114.4 117h0M117.1 116.9h0M119.9 116.7h0M122.6 116.6h0M125.4 116.5h0M91.3 120.6h0M94 120.5h0M96.7 120.3h0M99.5 120.2h0M102.2 120h0M105 119.9h0M107.7 119.8h0M110.4 119.6h0M113.2 119.5h0M115.9 119.3h0M118.6 119.2h0M121.4 119h0M124.1 118.9h0M126.8 118.8h0M90 123.1h0M92.8 122.9h0M95.5 122.8h0M98.2 122.6h0M101 122.5h0M103.7 122.3h0M106.4 122.2h0M109.2 122.1h0M111.9 121.9h0M114.7 121.8h0M117.4 121.6h0M120.1 121.5h0M122.9 121.3h0M125.6 121.2h0M91.5 125.4h0M94.3 125.2h0M97 125.1h0M99.7 124.9h0M102.5 124.8h0M105.2 124.6h0M107.9 124.5h0M110.7 124.3h0M113.4 124.2h0M116.2 124.1h0M118.9 123.9h0M121.6 123.8h0M124.4 123.6h0M90.3 127.8h0M93 127.7h0M95.8 127.5h0M98.5 127.4h0M101.2 127.2h0M104 127.1h0M106.7 126.9h0M109.4 126.8h0M112.2 126.6h0M114.9 126.5h0M117.6 126.4h0M120.4 126.2h0M123.1 126.1h0M125.9 125.9h0M91.8 130.1h0M94.5 129.9h0M97.2 129.8h0M100 129.7h0M102.7 129.5h0M105.5 129.4h0M108.2 129.2h0M110.9 129.1h0M113.7 128.9h0M116.4 128.8h0M119.1 128.7h0M121.9 128.5h0M124.6 128.4h0M93.3 132.4h0M96 132.2h0M98.7 132.1h0M101.5 132h0M104.2 131.8h0M106.9 131.7h0M109.7 131.5h0M112.4 131.4h0M115.2 131.2h0M117.9 131.1h0M120.6 131h0M123.4 130.8h0M94.8 134.7h0M97.5 134.5h0M100.2 134.4h0M103 134.3h0M105.7 134.1h0M108.4 134h0M111.2 133.8h0M113.9 133.7h0M116.6 133.5h0M119.4 133.4h0M122.1 133.3h0M124.9 133.1h0M96.2 137h0M99 136.8h0M101.7 136.7h0M104.5 136.6h0M107.2 136.4h0M109.9 136.3h0M112.7 136.1h0M115.4 136h0M118.1 135.8h0M120.9 135.7h0M123.6 135.6h0M97.7 139.3h0M100.5 139.1h0M103.2 139h0M106 138.9h0M108.7 138.7h0M111.4 138.6h0M114.2 138.4h0M116.9 138.3h0M119.6 138.1h0M122.4 138h0M99.2 141.6h0M102 141.4h0M104.7 141.3h0M107.4 141.2h0M110.2 141h0M112.9 140.9h0M115.7 140.7h0M118.4 140.6h0M121.1 140.4h0M123.9 140.3h0M103.5 143.7h0M106.2 143.6h0M108.9 143.5h0M111.7 143.3h0M114.4 143.2h0M117.1 143h0M119.9 142.9h0M60.4 163.7h0M63.1 164.1h0M65.8 164.4h0M68.5 164.8h0M71.2 165.2h0M73.9 165.6h0M76.6 166h0M56 165.5h0M58.7 165.8h0M61.4 166.2h0M64.1 166.6h0M66.8 167h0M69.5 167.4h0M72.2 167.7h0M74.9 168.1h0M77.7 168.5h0M80.4 168.9h0M54.3 167.6h0M57 168h0M59.7 168.4h0M62.4 168.8h0M65.1 169.1h0M67.8 169.5h0M70.5 169.9h0M73.3 170.3h0M76 170.7h0M78.7 171h0M81.4 171.4h0M52.6 169.8h0M55.3 170.2h0M58 170.5h0M60.7 170.9h0M63.4 171.3h0M66.1 171.7h0M68.9 172.1h0M71.6 172.4h0M74.3 172.8h0M77 173.2h0M79.7 173.6h0M82.4 174h0M50.9 171.9h0M53.6 172.3h0M56.3 172.7h0M59 173.1h0M61.7 173.5h0M64.5 173.8h0M67.2 174.2h0M69.9 174.6h0M72.6 175h0M75.3 175.4h0M78 175.7h0M80.7 176.1h0M83.5 176.5h0M49.2 174.1h0M51.9 174.5h0M54.6 174.9h0M57.3 175.2h0M60.1 175.6h0M62.8 176h0M65.5 176.4h0M68.2 176.8h0M70.9 177.1h0M73.6 177.5h0M76.3 177.9h0M79.1 178.3h0M81.8 178.7h0M84.5 179h0M50.2 176.6h0M52.9 177h0M55.7 177.4h0M58.4 177.8h0M61.1 178.2h0M63.8 178.5h0M66.5 178.9h0M69.2 179.3h0M71.9 179.7h0M74.7 180.1h0M77.4 180.4h0M80.1 180.8h0M82.8 181.2h0M51.3 179.2h0M54 179.6h0M56.7 179.9h0M59.4 180.3h0M62.1 180.7h0M64.8 181.1h0M67.5 181.5h0M70.3 181.8h0M73 182.2h0M75.7 182.6h0M78.4 183h0M81.1 183.4h0M83.8 183.7h0M52.3 181.7h0M55 182.1h0M57.7 182.5h0M60.4 182.9h0M63.1 183.2h0M65.8 183.6h0M68.6 184h0M71.3 184.4h0M74 184.8h0M76.7 185.1h0M79.4 185.5h0M82.1 185.9h0M50.6 183.9h0M53.3 184.3h0M56 184.6h0M58.7 185h0M61.4 185.4h0M64.2 185.8h0M66.9 186.2h0M69.6 186.5h0M72.3 186.9h0M75 187.3h0M77.7 187.7h0M80.4 188.1h0M83.2 188.4h0M51.6 186.4h0M54.3 186.8h0M57 187.2h0M59.8 187.6h0M62.5 187.9h0M65.2 188.3h0M67.9 188.7h0M70.6 189.1h0M73.3 189.5h0M76 189.8h0M78.8 190.2h0M81.5 190.6h0M84.2 191h0M52.6 189h0M55.4 189.3h0M58.1 189.7h0M60.8 190.1h0M63.5 190.5h0M66.2 190.9h0M68.9 191.2h0M71.6 191.6h0M74.4 192h0M77.1 192.4h0M79.8 192.8h0M82.5 193.1h0M53.7 191.5h0M56.4 191.9h0M59.1 192.3h0M61.8 192.6h0M64.5 193h0M67.2 193.4h0M70 193.8h0M72.7 194.2h0M75.4 194.5h0M78.1 194.9h0M80.8 195.3h0M52 193.7h0M54.7 194h0M57.4 194.4h0M60.1 194.8h0M62.8 195.2h0M65.6 195.6h0M68.3 195.9h0M71 196.3h0M73.7 196.7h0M76.4 197.1h0M79.1 197.5h0M53 196.2h0M55.7 196.6h0M58.4 197h0M61.2 197.3h0M63.9 197.7h0M66.6 198.1h0M69.3 198.5h0M72 198.9h0M74.7 199.2h0M77.4 199.6h0M54 198.7h0M56.8 199.1h0M59.5 199.5h0M62.2 199.9h0M64.9 200.3h0M67.6 200.6h0M70.3 201h0M73 201.4h0M75.7 201.8h0M55.1 201.3h0M57.8 201.7h0M60.5 202h0M63.2 202.4h0M65.9 202.8h0M68.6 203.2h0M71.3 203.6h0M105.3 163h0M107.7 164.3h0M110.1 165.6h0M112.5 166.9h0M114.9 168.1h0M117.4 169.4h0M119.8 170.7h0M100.5 163.2h0M102.9 164.4h0M105.3 165.7h0M107.8 167h0M110.2 168.3h0M112.6 169.6h0M115 170.9h0M117.4 172.2h0M119.9 173.5h0M98.2 164.6h0M100.6 165.9h0M103 167.2h0M105.4 168.5h0M107.9 169.8h0M110.3 171h0M112.7 172.3h0M115.1 173.6h0M117.5 174.9h0M120 176.2h0M95.9 166.1h0M98.3 167.4h0M100.7 168.6h0M103.1 169.9h0M105.5 171.2h0M108 172.5h0M110.4 173.8h0M112.8 175.1h0M115.2 176.4h0M117.6 177.6h0M93.5 167.5h0M96 168.8h0M98.4 170.1h0M100.8 171.4h0M103.2 172.7h0M105.6 174h0M108.1 175.2h0M110.5 176.5h0M112.9 177.8h0M115.3 179.1h0M117.7 180.4h0M91.2 169h0M93.6 170.3h0M96.1 171.5h0M98.5 172.8h0M100.9 174.1h0M103.3 175.4h0M105.7 176.7h0M108.2 178h0M110.6 179.3h0M113 180.5h0M115.4 181.8h0M117.8 183.1h0M88.9 170.4h0M91.3 171.7h0M93.7 173h0M96.2 174.3h0M98.6 175.6h0M101 176.9h0M103.4 178.1h0M105.8 179.4h0M108.2 180.7h0M110.7 182h0M113.1 183.3h0M115.5 184.6h0M117.9 185.9h0M86.6 171.9h0M89 173.2h0M91.4 174.4h0M93.8 175.7h0M96.2 177h0M98.7 178.3h0M101.1 179.6h0M103.5 180.9h0M105.9 182.2h0M108.3 183.5h0M110.8 184.7h0M113.2 186h0M115.6 187.3h0M118 188.6h0M86.7 174.6h0M89.1 175.9h0M91.5 177.2h0M93.9 178.5h0M96.3 179.8h0M98.8 181h0M101.2 182.3h0M103.6 183.6h0M106 184.9h0M108.4 186.2h0M110.9 187.5h0M113.3 188.8h0M115.7 190h0M118.1 191.3h0M86.8 177.4h0M89.2 178.6h0M91.6 179.9h0M94 181.2h0M96.4 182.5h0M98.9 183.8h0M101.3 185.1h0M103.7 186.4h0M106.1 187.6h0M108.5 188.9h0M111 190.2h0M113.4 191.5h0M115.8 192.8h0M86.9 180.1h0M89.3 181.4h0M91.7 182.7h0M94.1 183.9h0M96.5 185.2h0M99 186.5h0M101.4 187.8h0M103.8 189.1h0M106.2 190.4h0M108.6 191.7h0M111 193h0M113.5 194.2h0M115.9 195.5h0M87 182.8h0M89.4 184.1h0M91.8 185.4h0M94.2 186.7h0M96.6 188h0M99 189.3h0M101.5 190.5h0M103.9 191.8h0M106.3 193.1h0M108.7 194.4h0M111.1 195.7h0M113.6 197h0M116 198.3h0M87 185.6h0M89.5 186.9h0M91.9 188.1h0M94.3 189.4h0M96.7 190.7h0M99.1 192h0M101.6 193.3h0M104 194.6h0M106.4 195.9h0M108.8 197.1h0M111.2 198.4h0M113.7 199.7h0M87.1 188.3h0M89.6 189.6h0M92 190.9h0M94.4 192.2h0M96.8 193.5h0M99.2 194.7h0M101.7 196h0M104.1 197.3h0M106.5 198.6h0M108.9 199.9h0M111.3 201.2h0M84.8 189.8h0M87.2 191h0M89.7 192.3h0M92.1 193.6h0M94.5 194.9h0M96.9 196.2h0M99.3 197.5h0M101.8 198.8h0M104.2 200h0M106.6 201.3h0M109 202.6h0M84.9 192.5h0M87.3 193.8h0M89.8 195.1h0M92.2 196.4h0M94.6 197.6h0M97 198.9h0M99.4 200.2h0M101.9 201.5h0M104.3 202.8h0M106.7 204.1h0M87.4 196.5h0M89.8 197.8h0M92.3 199.1h0M94.7 200.4h0M97.1 201.7h0M99.5 203h0M101.9 204.2h0M59.7 225.7h0M57.7 227.6h0M60.4 228.3h0M58.4 230.3h0M61.1 231h0M56.5 232.2h0M59.1 232.9h0M61.8 233.6h0M57.2 234.9h0M59.8 235.6h0M62.5 236.3h0M108.7 226.9h0M111.3 227.6h0M109.4 229.6h0M112.1 230.3h0M107.5 231.5h0M110.1 232.2h0M112.8 232.9h0M105.5 233.4h0M108.2 234.1h0M110.8 234.9h0M106.2 236.1h0M108.9 236.8h0M136.3 11.9h0M138.9 12.6h0M131.7 13.1h0M134.3 13.8h0M137 14.5h0M139.6 15.2h0M132.4 15.8h0M135 16.5h0M137.7 17.2h0M133.1 18.4h0M135.7 19.1h0M138.4 19.8h0M133.8 21.1h0M136.4 21.8h0M139.1 22.5h0" stroke="#20b4cc" stroke-opacity="0.3" stroke-width="2.3" stroke-linecap="round" fill="none"/>
<path d="M50.5 48.1h0M53.2 48.6h0M55.9 49h0M58.6 49.5h0M61.3 50h0M46.1 49.7h0M48.8 50.2h0M51.5 50.7h0M54.2 51.1h0M56.9 51.6h0M59.6 52.1h0M62.3 52.6h0M65 53h0M41.6 51.3h0M44.3 51.8h0M47 52.3h0M49.7 52.8h0M52.4 53.2h0M55.1 53.7h0M57.8 54.2h0M60.5 54.7h0M63.2 55.1h0M65.9 55.6h0M68.6 56.1h0M39.9 53.4h0M42.6 53.9h0M45.3 54.4h0M48 54.9h0M50.7 55.3h0M53.3 55.8h0M56 56.3h0M58.7 56.8h0M61.4 57.2h0M64.1 57.7h0M66.8 58.2h0M69.5 58.7h0M38.1 55.5h0M40.8 56h0M43.5 56.5h0M46.2 57h0M48.9 57.4h0M51.6 57.9h0M54.3 58.4h0M57 58.9h0M59.7 59.3h0M62.4 59.8h0M65.1 60.3h0M67.8 60.8h0M70.5 61.2h0M36.3 57.6h0M39 58.1h0M41.7 58.6h0M44.4 59h0M47.1 59.5h0M49.8 60h0M52.5 60.5h0M55.2 61h0M57.9 61.4h0M60.6 61.9h0M63.3 62.4h0M66 62.9h0M68.7 63.3h0M71.4 63.8h0M37.3 60.2h0M40 60.7h0M42.7 61.1h0M45.4 61.6h0M48.1 62.1h0M50.8 62.6h0M53.5 63.1h0M56.2 63.5h0M58.9 64h0M61.6 64.5h0M64.3 65h0M67 65.4h0M69.7 65.9h0M72.4 66.4h0M35.5 62.3h0M38.2 62.8h0M40.9 63.2h0M43.6 63.7h0M46.3 64.2h0M49 64.7h0M51.7 65.2h0M54.4 65.6h0M57.1 66.1h0M59.8 66.6h0M62.5 67.1h0M65.2 67.5h0M67.9 68h0M70.6 68.5h0M36.4 64.9h0M39.1 65.3h0M41.8 65.8h0M44.5 66.3h0M47.2 66.8h0M49.9 67.2h0M52.6 67.7h0M55.3 68.2h0M58 68.7h0M60.7 69.2h0M63.4 69.6h0M66.1 70.1h0M68.8 70.6h0M71.5 71.1h0M37.4 67.4h0M40.1 67.9h0M42.8 68.4h0M45.5 68.9h0M48.2 69.3h0M50.9 69.8h0M53.6 70.3h0M56.3 70.8h0M59 71.3h0M61.7 71.7h0M64.4 72.2h0M67.1 72.7h0M69.8 73.2h0M38.3 70h0M41 70.5h0M43.7 71h0M46.4 71.4h0M49.1 71.9h0M51.8 72.4h0M54.5 72.9h0M57.2 73.4h0M59.9 73.8h0M62.6 74.3h0M65.3 74.8h0M68 75.3h0M70.7 75.7h0M36.6 72.1h0M39.3 72.6h0M42 73.1h0M44.7 73.5h0M47.4 74h0M50.1 74.5h0M52.8 75h0M55.4 75.4h0M58.1 75.9h0M60.8 76.4h0M63.5 76.9h0M66.2 77.4h0M68.9 77.8h0M37.5 74.7h0M40.2 75.2h0M42.9 75.6h0M45.6 76.1h0M48.3 76.6h0M51 77.1h0M53.7 77.5h0M56.4 78h0M59.1 78.5h0M61.8 79h0M64.5 79.5h0M67.2 79.9h0M38.4 77.3h0M41.1 77.7h0M43.8 78.2h0M46.5 78.7h0M49.2 79.2h0M51.9 79.6h0M54.6 80.1h0M57.3 80.6h0M60 81.1h0M62.7 81.6h0M65.4 82h0M39.4 79.8h0M42.1 80.3h0M44.8 80.8h0M47.5 81.3h0M50.2 81.7h0M52.9 82.2h0M55.6 82.7h0M58.3 83.2h0M61 83.6h0M63.7 84.1h0M40.3 82.4h0M43 82.9h0M45.7 83.4h0M48.4 83.8h0M51.1 84.3h0M53.8 84.8h0M56.5 85.3h0M59.2 85.7h0M43.9 85.5h0M46.6 85.9h0M49.3 86.4h0M52 86.9h0M54.7 87.4h0M109.6 50.3h0M112.3 49.7h0M114.9 49.2h0M117.6 48.6h0M120.3 48h0M106.1 53.5h0M108.7 52.9h0M111.4 52.3h0M114.1 51.8h0M116.8 51.2h0M119.5 50.6h0M122.1 50.1h0M124.8 49.5h0M102.5 56.6h0M105.2 56.1h0M107.9 55.5h0M110.6 54.9h0M113.2 54.4h0M115.9 53.8h0M118.6 53.2h0M121.3 52.7h0M124 52.1h0M126.6 51.5h0M129.3 51h0M101.7 59.3h0M104.4 58.7h0M107 58.1h0M109.7 57.5h0M112.4 57h0M115.1 56.4h0M117.8 55.8h0M120.4 55.3h0M123.1 54.7h0M125.8 54.1h0M128.5 53.6h0M131.2 53h0M100.8 61.9h0M103.5 61.3h0M106.2 60.7h0M108.9 60.1h0M111.6 59.6h0M114.2 59h0M116.9 58.4h0M119.6 57.9h0M122.3 57.3h0M125 56.7h0M127.6 56.2h0M130.3 55.6h0M133 55h0M100 64.5h0M102.7 63.9h0M105.3 63.3h0M108 62.8h0M110.7 62.2h0M113.4 61.6h0M116.1 61h0M118.7 60.5h0M121.4 59.9h0M124.1 59.3h0M126.8 58.8h0M129.5 58.2h0M132.1 57.6h0M134.8 57.1h0M99.1 67.1h0M101.8 66.5h0M104.5 65.9h0M107.2 65.4h0M109.9 64.8h0M112.5 64.2h0M115.2 63.7h0M117.9 63.1h0M120.6 62.5h0M123.3 61.9h0M125.9 61.4h0M128.6 60.8h0M131.3 60.2h0M134 59.7h0M101 69.1h0M103.7 68.5h0M106.3 68h0M109 67.4h0M111.7 66.8h0M114.4 66.3h0M117.1 65.7h0M119.7 65.1h0M122.4 64.5h0M125.1 64h0M127.8 63.4h0M130.5 62.8h0M133.1 62.3h0M100.1 71.7h0M102.8 71.1h0M105.5 70.6h0M108.2 70h0M110.8 69.4h0M113.5 68.9h0M116.2 68.3h0M118.9 67.7h0M121.6 67.2h0M124.2 66.6h0M126.9 66h0M129.6 65.4h0M132.3 64.9h0M102 73.7h0M104.6 73.2h0M107.3 72.6h0M110 72h0M112.7 71.5h0M115.4 70.9h0M118 70.3h0M120.7 69.8h0M123.4 69.2h0M126.1 68.6h0M128.8 68.1h0M131.4 67.5h0M101.1 76.4h0M103.8 75.8h0M106.5 75.2h0M109.2 74.6h0M111.8 74.1h0M114.5 73.5h0M117.2 72.9h0M119.9 72.4h0M122.6 71.8h0M125.2 71.2h0M127.9 70.7h0M130.6 70.1h0M133.3 69.5h0M102.9 78.4h0M105.6 77.8h0M108.3 77.3h0M111 76.7h0M113.7 76.1h0M116.3 75.5h0M119 75h0M121.7 74.4h0M124.4 73.8h0M127.1 73.3h0M129.7 72.7h0M132.4 72.1h0M104.8 80.4h0M107.5 79.9h0M110.1 79.3h0M112.8 78.7h0M115.5 78.1h0M118.2 77.6h0M120.9 77h0M123.5 76.4h0M126.2 75.9h0M128.9 75.3h0M131.6 74.7h0M106.6 82.5h0M109.3 81.9h0M112 81.3h0M114.7 80.8h0M117.3 80.2h0M120 79.6h0M122.7 79h0M125.4 78.5h0M128.1 77.9h0M130.7 77.3h0M108.4 84.5h0M111.1 83.9h0M113.8 83.4h0M116.5 82.8h0M119.2 82.2h0M121.8 81.7h0M124.5 81.1h0M127.2 80.5h0M129.9 79.9h0M113 86h0M115.6 85.4h0M118.3 84.8h0M121 84.3h0M123.7 83.7h0M126.4 83.1h0M129 82.5h0M131.7 82h0M117.5 87.4h0M120.2 86.9h0M122.8 86.3h0M125.5 85.7h0M128.2 85.2h0M65.3 103.8h0M67.8 104.8h0M58 103.7h0M60.6 104.6h0M63.2 105.6h0M65.7 106.5h0M68.3 107.4h0M70.9 108.4h0M73.5 109.3h0M53.3 104.5h0M55.9 105.5h0M58.5 106.4h0M61.1 107.3h0M63.6 108.3h0M66.2 109.2h0M68.8 110.1h0M71.4 111.1h0M73.9 112h0M76.5 113h0M51.2 106.3h0M53.8 107.2h0M56.4 108.2h0M59 109.1h0M61.5 110h0M64.1 111h0M66.7 111.9h0M69.3 112.8h0M71.8 113.8h0M74.4 114.7h0M77 115.7h0M46.6 107.1h0M49.1 108h0M51.7 109h0M54.3 109.9h0M56.9 110.9h0M59.4 111.8h0M62 112.7h0M64.6 113.7h0M67.2 114.6h0M69.7 115.5h0M72.3 116.5h0M74.9 117.4h0M77.5 118.4h0M80 119.3h0M44.5 108.9h0M47 109.8h0M49.6 110.7h0M52.2 111.7h0M54.8 112.6h0M57.3 113.6h0M59.9 114.5h0M62.5 115.4h0M65.1 116.4h0M67.6 117.3h0M70.2 118.2h0M72.8 119.2h0M75.4 120.1h0M77.9 121.1h0M80.5 122h0M44.9 111.6h0M47.5 112.5h0M50.1 113.4h0M52.7 114.4h0M55.2 115.3h0M57.8 116.3h0M60.4 117.2h0M63 118.1h0M65.5 119.1h0M68.1 120h0M70.7 120.9h0M73.3 121.9h0M75.8 122.8h0M78.4 123.8h0M42.8 113.3h0M45.4 114.3h0M48 115.2h0M50.6 116.1h0M53.1 117.1h0M55.7 118h0M58.3 119h0M60.9 119.9h0M63.4 120.8h0M66 121.8h0M68.6 122.7h0M71.2 123.6h0M73.7 124.6h0M76.3 125.5h0M78.9 126.5h0M43.3 116h0M45.9 117h0M48.5 117.9h0M51 118.8h0M53.6 119.8h0M56.2 120.7h0M58.8 121.7h0M61.3 122.6h0M63.9 123.5h0M66.5 124.5h0M69.1 125.4h0M71.6 126.3h0M74.2 127.3h0M76.8 128.2h0M79.4 129.1h0M43.8 118.7h0M46.4 119.7h0M48.9 120.6h0M51.5 121.5h0M54.1 122.5h0M56.7 123.4h0M59.2 124.3h0M61.8 125.3h0M64.4 126.2h0M67 127.2h0M69.5 128.1h0M72.1 129h0M74.7 130h0M77.3 130.9h0M44.3 121.4h0M46.8 122.4h0M49.4 123.3h0M52 124.2h0M54.6 125.2h0M57.1 126.1h0M59.7 127h0M62.3 128h0M64.9 128.9h0M67.4 129.9h0M70 130.8h0M72.6 131.7h0M75.2 132.7h0M77.7 133.6h0M44.7 124.1h0M47.3 125.1h0M49.9 126h0M52.5 126.9h0M55 127.9h0M57.6 128.8h0M60.2 129.7h0M62.8 130.7h0M65.3 131.6h0M67.9 132.6h0M70.5 133.5h0M73.1 134.4h0M75.6 135.4h0M45.2 126.8h0M47.8 127.8h0M50.4 128.7h0M52.9 129.6h0M55.5 130.6h0M58.1 131.5h0M60.7 132.4h0M63.2 133.4h0M65.8 134.3h0M68.4 135.3h0M71 136.2h0M73.5 137.1h0M45.7 129.5h0M48.3 130.5h0M50.8 131.4h0M53.4 132.3h0M56 133.3h0M58.6 134.2h0M61.1 135.1h0M63.7 136.1h0M66.3 137h0M68.9 138h0M71.4 138.9h0M74 139.8h0M46.2 132.2h0M48.7 133.2h0M51.3 134.1h0M53.9 135h0M56.5 136h0M59 136.9h0M61.6 137.8h0M64.2 138.8h0M66.8 139.7h0M69.3 140.7h0M71.9 141.6h0M44.1 134h0M46.6 134.9h0M49.2 135.9h0M51.8 136.8h0M54.4 137.7h0M56.9 138.7h0M59.5 139.6h0M62.1 140.5h0M64.7 141.5h0M67.2 142.4h0M44.6 136.7h0M47.1 137.6h0M49.7 138.6h0M52.3 139.5h0M54.9 140.4h0M57.4 141.4h0M60 142.3h0M62.6 143.2h0M65.1 144.2h0M45 139.4h0M47.6 140.3h0M50.2 141.3h0M52.8 142.2h0M55.3 143.1h0M57.9 144.1h0M60.5 145h0M50.7 143.9h0M53.2 144.9h0M101.5 105.8h0M104.2 105.7h0M106.9 105.5h0M109.7 105.4h0M112.4 105.2h0M115.2 105.1h0M117.9 105h0M97.5 108.4h0M100.2 108.3h0M103 108.1h0M105.7 108h0M108.4 107.8h0M111.2 107.7h0M113.9 107.5h0M116.6 107.4h0M119.4 107.3h0M122.1 107.1h0M96.3 110.8h0M99 110.7h0M101.7 110.6h0M104.5 110.4h0M107.2 110.3h0M109.9 110.1h0M112.7 110h0M115.4 109.8h0M118.1 109.7h0M120.9 109.6h0M123.6 109.4h0M95 113.3h0M97.7 113.1h0M100.5 113h0M103.2 112.9h0M106 112.7h0M108.7 112.6h0M111.4 112.4h0M114.2 112.3h0M116.9 112.1h0M119.6 112h0M122.4 111.9h0M125.1 111.7h0M93.8 115.7h0M96.5 115.6h0M99.2 115.4h0M102 115.3h0M104.7 115.2h0M107.4 115h0M110.2 114.9h0M112.9 114.7h0M115.7 114.6h0M118.4 114.4h0M121.1 114.3h0M123.9 114.2h0M126.6 114h0M92.5 118.2h0M95.3 118h0M98 117.9h0M100.7 117.7h0M103.5 117.6h0M106.2 117.5h0M108.9 117.3h0M111.7 117.2h0M114.4 117h0M117.1 116.9h0M119.9 116.7h0M122.6 116.6h0M125.4 116.5h0M91.3 120.6h0M94 120.5h0M96.7 120.3h0M99.5 120.2h0M102.2 120h0M105 119.9h0M107.7 119.8h0M110.4 119.6h0M113.2 119.5h0M115.9 119.3h0M118.6 119.2h0M121.4 119h0M124.1 118.9h0M126.8 118.8h0M90 123.1h0M92.8 122.9h0M95.5 122.8h0M98.2 122.6h0M101 122.5h0M103.7 122.3h0M106.4 122.2h0M109.2 122.1h0M111.9 121.9h0M114.7 121.8h0M117.4 121.6h0M120.1 121.5h0M122.9 121.3h0M125.6 121.2h0M91.5 125.4h0M94.3 125.2h0M97 125.1h0M99.7 124.9h0M102.5 124.8h0M105.2 124.6h0M107.9 124.5h0M110.7 124.3h0M113.4 124.2h0M116.2 124.1h0M118.9 123.9h0M121.6 123.8h0M124.4 123.6h0M90.3 127.8h0M93 127.7h0M95.8 127.5h0M98.5 127.4h0M101.2 127.2h0M104 127.1h0M106.7 126.9h0M109.4 126.8h0M112.2 126.6h0M114.9 126.5h0M117.6 126.4h0M120.4 126.2h0M123.1 126.1h0M125.9 125.9h0M91.8 130.1h0M94.5 129.9h0M97.2 129.8h0M100 129.7h0M102.7 129.5h0M105.5 129.4h0M108.2 129.2h0M110.9 129.1h0M113.7 128.9h0M116.4 128.8h0M119.1 128.7h0M121.9 128.5h0M124.6 128.4h0M93.3 132.4h0M96 132.2h0M98.7 132.1h0M101.5 132h0M104.2 131.8h0M106.9 131.7h0M109.7 131.5h0M112.4 131.4h0M115.2 131.2h0M117.9 131.1h0M120.6 131h0M123.4 130.8h0M94.8 134.7h0M97.5 134.5h0M100.2 134.4h0M103 134.3h0M105.7 134.1h0M108.4 134h0M111.2 133.8h0M113.9 133.7h0M116.6 133.5h0M119.4 133.4h0M122.1 133.3h0M124.9 133.1h0M96.2 137h0M99 136.8h0M101.7 136.7h0M104.5 136.6h0M107.2 136.4h0M109.9 136.3h0M112.7 136.1h0M115.4 136h0M118.1 135.8h0M120.9 135.7h0M123.6 135.6h0M97.7 139.3h0M100.5 139.1h0M103.2 139h0M106 138.9h0M108.7 138.7h0M111.4 138.6h0M114.2 138.4h0M116.9 138.3h0M119.6 138.1h0M122.4 138h0M99.2 141.6h0M102 141.4h0M104.7 141.3h0M107.4 141.2h0M110.2 141h0M112.9 140.9h0M115.7 140.7h0M118.4 140.6h0M121.1 140.4h0M123.9 140.3h0M103.5 143.7h0M106.2 143.6h0M108.9 143.5h0M111.7 143.3h0M114.4 143.2h0M117.1 143h0M119.9 142.9h0M60.4 163.7h0M63.1 164.1h0M65.8 164.4h0M68.5 164.8h0M71.2 165.2h0M73.9 165.6h0M76.6 166h0M56 165.5h0M58.7 165.8h0M61.4 166.2h0M64.1 166.6h0M66.8 167h0M69.5 167.4h0M72.2 167.7h0M74.9 168.1h0M77.7 168.5h0M80.4 168.9h0M54.3 167.6h0M57 168h0M59.7 168.4h0M62.4 168.8h0M65.1 169.1h0M67.8 169.5h0M70.5 169.9h0M73.3 170.3h0M76 170.7h0M78.7 171h0M81.4 171.4h0M52.6 169.8h0M55.3 170.2h0M58 170.5h0M60.7 170.9h0M63.4 171.3h0M66.1 171.7h0M68.9 172.1h0M71.6 172.4h0M74.3 172.8h0M77 173.2h0M79.7 173.6h0M82.4 174h0M50.9 171.9h0M53.6 172.3h0M56.3 172.7h0M59 173.1h0M61.7 173.5h0M64.5 173.8h0M67.2 174.2h0M69.9 174.6h0M72.6 175h0M75.3 175.4h0M78 175.7h0M80.7 176.1h0M83.5 176.5h0M49.2 174.1h0M51.9 174.5h0M54.6 174.9h0M57.3 175.2h0M60.1 175.6h0M62.8 176h0M65.5 176.4h0M68.2 176.8h0M70.9 177.1h0M73.6 177.5h0M76.3 177.9h0M79.1 178.3h0M81.8 178.7h0M84.5 179h0M50.2 176.6h0M52.9 177h0M55.7 177.4h0M58.4 177.8h0M61.1 178.2h0M63.8 178.5h0M66.5 178.9h0M69.2 179.3h0M71.9 179.7h0M74.7 180.1h0M77.4 180.4h0M80.1 180.8h0M82.8 181.2h0M51.3 179.2h0M54 179.6h0M56.7 179.9h0M59.4 180.3h0M62.1 180.7h0M64.8 181.1h0M67.5 181.5h0M70.3 181.8h0M73 182.2h0M75.7 182.6h0M78.4 183h0M81.1 183.4h0M83.8 183.7h0M52.3 181.7h0M55 182.1h0M57.7 182.5h0M60.4 182.9h0M63.1 183.2h0M65.8 183.6h0M68.6 184h0M71.3 184.4h0M74 184.8h0M76.7 185.1h0M79.4 185.5h0M82.1 185.9h0M50.6 183.9h0M53.3 184.3h0M56 184.6h0M58.7 185h0M61.4 185.4h0M64.2 185.8h0M66.9 186.2h0M69.6 186.5h0M72.3 186.9h0M75 187.3h0M77.7 187.7h0M80.4 188.1h0M83.2 188.4h0M51.6 186.4h0M54.3 186.8h0M57 187.2h0M59.8 187.6h0M62.5 187.9h0M65.2 188.3h0M67.9 188.7h0M70.6 189.1h0M73.3 189.5h0M76 189.8h0M78.8 190.2h0M81.5 190.6h0M84.2 191h0M52.6 189h0M55.4 189.3h0M58.1 189.7h0M60.8 190.1h0M63.5 190.5h0M66.2 190.9h0M68.9 191.2h0M71.6 191.6h0M74.4 192h0M77.1 192.4h0M79.8 192.8h0M82.5 193.1h0M53.7 191.5h0M56.4 191.9h0M59.1 192.3h0M61.8 192.6h0M64.5 193h0M67.2 193.4h0M70 193.8h0M72.7 194.2h0M75.4 194.5h0M78.1 194.9h0M80.8 195.3h0M52 193.7h0M54.7 194h0M57.4 194.4h0M60.1 194.8h0M62.8 195.2h0M65.6 195.6h0M68.3 195.9h0M71 196.3h0M73.7 196.7h0M76.4 197.1h0M79.1 197.5h0M53 196.2h0M55.7 196.6h0M58.4 197h0M61.2 197.3h0M63.9 197.7h0M66.6 198.1h0M69.3 198.5h0M72 198.9h0M74.7 199.2h0M77.4 199.6h0M54 198.7h0M56.8 199.1h0M59.5 199.5h0M62.2 199.9h0M64.9 200.3h0M67.6 200.6h0M70.3 201h0M73 201.4h0M75.7 201.8h0M55.1 201.3h0M57.8 201.7h0M60.5 202h0M63.2 202.4h0M65.9 202.8h0M68.6 203.2h0M71.3 203.6h0M105.3 163h0M107.7 164.3h0M110.1 165.6h0M112.5 166.9h0M114.9 168.1h0M117.4 169.4h0M119.8 170.7h0M100.5 163.2h0M102.9 164.4h0M105.3 165.7h0M107.8 167h0M110.2 168.3h0M112.6 169.6h0M115 170.9h0M117.4 172.2h0M119.9 173.5h0M98.2 164.6h0M100.6 165.9h0M103 167.2h0M105.4 168.5h0M107.9 169.8h0M110.3 171h0M112.7 172.3h0M115.1 173.6h0M117.5 174.9h0M120 176.2h0M95.9 166.1h0M98.3 167.4h0M100.7 168.6h0M103.1 169.9h0M105.5 171.2h0M108 172.5h0M110.4 173.8h0M112.8 175.1h0M115.2 176.4h0M117.6 177.6h0M93.5 167.5h0M96 168.8h0M98.4 170.1h0M100.8 171.4h0M103.2 172.7h0M105.6 174h0M108.1 175.2h0M110.5 176.5h0M112.9 177.8h0M115.3 179.1h0M117.7 180.4h0M91.2 169h0M93.6 170.3h0M96.1 171.5h0M98.5 172.8h0M100.9 174.1h0M103.3 175.4h0M105.7 176.7h0M108.2 178h0M110.6 179.3h0M113 180.5h0M115.4 181.8h0M117.8 183.1h0M88.9 170.4h0M91.3 171.7h0M93.7 173h0M96.2 174.3h0M98.6 175.6h0M101 176.9h0M103.4 178.1h0M105.8 179.4h0M108.2 180.7h0M110.7 182h0M113.1 183.3h0M115.5 184.6h0M117.9 185.9h0M86.6 171.9h0M89 173.2h0M91.4 174.4h0M93.8 175.7h0M96.2 177h0M98.7 178.3h0M101.1 179.6h0M103.5 180.9h0M105.9 182.2h0M108.3 183.5h0M110.8 184.7h0M113.2 186h0M115.6 187.3h0M118 188.6h0M86.7 174.6h0M89.1 175.9h0M91.5 177.2h0M93.9 178.5h0M96.3 179.8h0M98.8 181h0M101.2 182.3h0M103.6 183.6h0M106 184.9h0M108.4 186.2h0M110.9 187.5h0M113.3 188.8h0M115.7 190h0M118.1 191.3h0M86.8 177.4h0M89.2 178.6h0M91.6 179.9h0M94 181.2h0M96.4 182.5h0M98.9 183.8h0M101.3 185.1h0M103.7 186.4h0M106.1 187.6h0M108.5 188.9h0M111 190.2h0M113.4 191.5h0M115.8 192.8h0M86.9 180.1h0M89.3 181.4h0M91.7 182.7h0M94.1 183.9h0M96.5 185.2h0M99 186.5h0M101.4 187.8h0M103.8 189.1h0M106.2 190.4h0M108.6 191.7h0M111 193h0M113.5 194.2h0M115.9 195.5h0M87 182.8h0M89.4 184.1h0M91.8 185.4h0M94.2 186.7h0M96.6 188h0M99 189.3h0M101.5 190.5h0M103.9 191.8h0M106.3 193.1h0M108.7 194.4h0M111.1 195.7h0M113.6 197h0M116 198.3h0M87 185.6h0M89.5 186.9h0M91.9 188.1h0M94.3 189.4h0M96.7 190.7h0M99.1 192h0M101.6 193.3h0M104 194.6h0M106.4 195.9h0M108.8 197.1h0M111.2 198.4h0M113.7 199.7h0M87.1 188.3h0M89.6 189.6h0M92 190.9h0M94.4 192.2h0M96.8 193.5h0M99.2 194.7h0M101.7 196h0M104.1 197.3h0M106.5 198.6h0M108.9 199.9h0M111.3 201.2h0M84.8 189.8h0M87.2 191h0M89.7 192.3h0M92.1 193.6h0M94.5 194.9h0M96.9 196.2h0M99.3 197.5h0M101.8 198.8h0M104.2 200h0M106.6 201.3h0M109 202.6h0M84.9 192.5h0M87.3 193.8h0M89.8 195.1h0M92.2 196.4h0M94.6 197.6h0M97 198.9h0M99.4 200.2h0M101.9 201.5h0M104.3 202.8h0M106.7 204.1h0M87.4 196.5h0M89.8 197.8h0M92.3 199.1h0M94.7 200.4h0M97.1 201.7h0M99.5 203h0M101.9 204.2h0M59.7 225.7h0M57.7 227.6h0M60.4 228.3h0M58.4 230.3h0M61.1 231h0M56.5 232.2h0M59.1 232.9h0M61.8 233.6h0M57.2 234.9h0M59.8 235.6h0M62.5 236.3h0M108.7 226.9h0M111.3 227.6h0M109.4 229.6h0M112.1 230.3h0M107.5 231.5h0M110.1 232.2h0M112.8 232.9h0M105.5 233.4h0M108.2 234.1h0M110.8 234.9h0M106.2 236.1h0M108.9 236.8h0M136.3 11.9h0M138.9 12.6h0M131.7 13.1h0M134.3 13.8h0M137 14.5h0M139.6 15.2h0M132.4 15.8h0M135 16.5h0M137.7 17.2h0M133.1 18.4h0M135.7 19.1h0M138.4 19.8h0M133.8 21.1h0M136.4 21.8h0M139.1 22.5h0" stroke="#faec18" stroke-width="1.7" stroke-linecap="round" fill="none"/>
<path d="M29.1 11.8h0M31.8 11.8h0M34.6 11.8h0M37.3 11.8h0M40.1 11.8h0M42.8 11.8h0M45.5 11.8h0M48.3 11.8h0M51 11.8h0M53.8 11.8h0M56.5 11.8h0M59.2 11.8h0M62 11.8h0M64.7 11.8h0M67.5 11.8h0M70.2 11.8h0M72.9 11.8h0M75.7 11.8h0M78.4 11.8h0M81.2 11.8h0M83.9 11.8h0M86.6 11.8h0M89.4 11.8h0M92.1 11.8h0M94.9 11.8h0M97.6 11.8h0M100.3 11.8h0M103.1 11.8h0M105.8 11.8h0M108.6 11.8h0M111.3 11.8h0M114 11.8h0M116.8 11.8h0M119.5 11.8h0M122.3 11.8h0M125 11.8h0M127.7 11.8h0M130.5 11.8h0M133.2 11.8h0M136 11.8h0M138.7 11.8h0M57.6 236.7h0M60.4 236.7h0M63.1 236.7h0M65.8 236.7h0M68.6 236.7h0M71.3 236.7h0M74.1 236.7h0M76.8 236.7h0M79.5 236.7h0M82.3 236.7h0M85 236.7h0M87.8 236.7h0M90.5 236.7h0M93.2 236.7h0M96 236.7h0M98.7 236.7h0M101.5 236.7h0M104.2 236.7h0M106.9 236.7h0M109.7 236.7h0" stroke="#c8dc38" stroke-opacity="0.55" stroke-width="1.7" stroke-linecap="round" fill="none"/></g>
<g transform="translate(238.1,0)">
<text x="24.2" y="242.1" text-anchor="end" class="t">-300</text>
<text x="24.2" y="204.35" text-anchor="end" class="t">-200</text>
<text x="24.2" y="166.6" text-anchor="end" class="t">-100</text>
<text x="24.2" y="128.85" text-anchor="end" class="t">0</text>
<text x="24.2" y="91.1" text-anchor="end" class="t">100</text>
<text x="24.2" y="53.35" text-anchor="end" class="t">200</text>
<text x="24.2" y="15.6" text-anchor="end" class="t">300</text>
<text x="46.98" y="252.1" text-anchor="middle" class="t">-100</text>
<text x="84.72" y="252.1" text-anchor="middle" class="t">0</text>
<text x="122.47" y="252.1" text-anchor="middle" class="t">100</text>
<rect x="148.2" y="11.1" width="12" height="226.4" fill="url(#cbg)" stroke="#8c8c8c" stroke-width="0.9"/>
<path d="M160.2 11.1h-2.2" stroke="#444" stroke-width="0.8"/>
<text x="163.9" y="15.4" class="t">1</text>
<path d="M160.2 56.38h-2.2" stroke="#444" stroke-width="0.8"/>
<text x="163.9" y="60.68" class="t d">0.5</text>
<path d="M160.2 101.66h-2.2" stroke="#444" stroke-width="0.8"/>
<text x="163.9" y="105.96" class="t">0</text>
<path d="M160.2 146.94h-2.2" stroke="#444" stroke-width="0.8"/>
<text x="163.6" y="151.24" class="t d">-0.5</text>
<path d="M160.2 192.22h-2.2" stroke="#444" stroke-width="0.8"/>
<text x="163.6" y="196.52" class="t">-1</text>
<path d="M160.2 237.5h-2.2" stroke="#444" stroke-width="0.8"/>
<text x="163.6" y="241.8" class="t d">-1.5</text>
<text x="91.4" y="271" text-anchor="middle" class="cap">(b)</text>
</g>
<g transform="translate(0,274.5)">
<path d="M28.1 237.6h2.3M141.4 237.6h-2.3M28.1 199.85h2.3M141.4 199.85h-2.3M28.1 162.1h2.3M141.4 162.1h-2.3M28.1 124.35h2.3M141.4 124.35h-2.3M28.1 86.6h2.3M141.4 86.6h-2.3M28.1 48.85h2.3M141.4 48.85h-2.3M28.1 11.1h2.3M141.4 11.1h-2.3M46.98 237.5v-2.3M46.98 11.1v2.3M84.72 237.5v-2.3M84.72 11.1v2.3M122.47 237.5v-2.3M122.47 11.1v2.3" stroke="#8c8c8c" stroke-width="0.8" fill="none"/>
<rect x="28.1" y="11.1" width="113.3" height="226.4" fill="none" stroke="#8c8c8c" stroke-width="0.9"/>
</g>
<g transform="translate(0,274.5)"><polygon points="28.1,11.1 141.35,11.1 113.04,237.6 56.41,237.6" fill="#2f78e6"/>
<path d="M129.6 11.7h0M132.3 12.2h0M135 12.7h0M137.7 13.2h0M140.4 13.6h0M117.1 11.9h0M119.8 12.4h0M122.5 12.9h0M125.2 13.4h0M127.9 13.8h0M130.6 14.3h0M133.3 14.8h0M136 15.3h0M138.7 15.7h0M101.8 11.7h0M104.5 12.1h0M107.2 12.6h0M109.9 13.1h0M112.6 13.6h0M115.3 14h0M118 14.5h0M120.7 15h0M123.4 15.5h0M126.1 15.9h0M128.8 16.4h0M131.5 16.9h0M134.2 17.4h0M136.9 17.8h0M139.6 18.3h0M89.3 11.9h0M92 12.3h0M94.7 12.8h0M97.4 13.3h0M100.1 13.8h0M102.8 14.2h0M105.5 14.7h0M108.2 15.2h0M110.9 15.7h0M113.6 16.1h0M116.3 16.6h0M119 17.1h0M121.7 17.6h0M124.4 18h0M127.1 18.5h0M129.8 19h0M132.4 19.5h0M135.1 19.9h0M137.8 20.4h0M76.7 12h0M79.4 12.5h0M82.1 13h0M84.8 13.5h0M87.5 13.9h0M90.2 14.4h0M92.9 14.9h0M95.6 15.4h0M98.3 15.9h0M101 16.3h0M103.7 16.8h0M106.4 17.3h0M109.1 17.8h0M111.8 18.2h0M114.5 18.7h0M117.2 19.2h0M119.9 19.7h0M122.6 20.1h0M125.3 20.6h0M128 21.1h0M130.7 21.6h0M133.4 22h0M136.1 22.5h0M138.8 23h0M61.5 11.8h0M64.2 12.2h0M66.9 12.7h0M69.6 13.2h0M72.3 13.7h0M75 14.1h0M77.7 14.6h0M80.4 15.1h0M83.1 15.6h0M85.8 16h0M88.5 16.5h0M91.1 17h0M93.8 17.5h0M96.5 18h0M99.2 18.4h0M101.9 18.9h0M104.6 19.4h0M107.3 19.9h0M110 20.3h0M112.7 20.8h0M115.4 21.3h0M118.1 21.8h0M120.8 22.2h0M123.5 22.7h0M126.2 23.2h0M128.9 23.7h0M131.6 24.1h0M134.3 24.6h0M137 25.1h0M48.9 12h0M51.6 12.4h0M54.3 12.9h0M57 13.4h0M59.7 13.9h0M62.4 14.3h0M65.1 14.8h0M67.8 15.3h0M70.5 15.8h0M73.2 16.2h0M75.9 16.7h0M78.6 17.2h0M81.3 17.7h0M84 18.1h0M86.7 18.6h0M89.4 19.1h0M92.1 19.6h0M94.8 20.1h0M97.5 20.5h0M100.2 21h0M102.9 21.5h0M105.6 22h0M108.3 22.4h0M111 22.9h0M113.7 23.4h0M116.4 23.9h0M119.1 24.3h0M121.8 24.8h0M124.5 25.3h0M127.2 25.8h0M129.9 26.2h0M132.6 26.7h0M135.3 27.2h0M138 27.7h0M33.7 11.7h0M36.4 12.2h0M39.1 12.6h0M41.8 13.1h0M44.5 13.6h0M47.2 14.1h0M49.8 14.5h0M52.5 15h0M55.2 15.5h0M57.9 16h0M60.6 16.4h0M63.3 16.9h0M66 17.4h0M68.7 17.9h0M71.4 18.3h0M74.1 18.8h0M76.8 19.3h0M79.5 19.8h0M82.2 20.2h0M84.9 20.7h0M87.6 21.2h0M90.3 21.7h0M93 22.1h0M95.7 22.6h0M98.4 23.1h0M101.1 23.6h0M103.8 24.1h0M106.5 24.5h0M109.2 25h0M111.9 25.5h0M114.6 26h0M117.3 26.4h0M120 26.9h0M122.7 27.4h0M125.4 27.9h0M128.1 28.3h0M130.8 28.8h0M133.5 29.3h0M136.2 29.8h0M29.2 13.3h0M31.9 13.8h0M34.6 14.3h0M37.3 14.7h0M40 15.2h0M42.7 15.7h0M45.4 16.2h0M48.1 16.6h0M50.8 17.1h0M53.5 17.6h0M56.2 18.1h0M58.9 18.5h0M61.6 19h0M64.3 19.5h0M67 20h0M69.7 20.4h0M72.4 20.9h0M75.1 21.4h0M77.8 21.9h0M80.5 22.3h0M83.2 22.8h0M85.9 23.3h0M88.6 23.8h0M91.3 24.2h0M94 24.7h0M96.7 25.2h0M99.4 25.7h0M102.1 26.2h0M104.8 26.6h0M107.5 27.1h0M110.2 27.6h0M112.8 28.1h0M115.5 28.5h0M118.2 29h0M120.9 29.5h0M123.6 30h0M126.3 30.4h0M129 30.9h0M131.7 31.4h0M134.4 31.9h0M137.1 32.3h0M30.1 15.9h0M32.8 16.4h0M35.5 16.8h0M38.2 17.3h0M40.9 17.8h0M43.6 18.3h0M46.3 18.7h0M49 19.2h0M51.7 19.7h0M54.4 20.2h0M57.1 20.6h0M59.8 21.1h0M62.5 21.6h0M65.2 22.1h0M67.9 22.5h0M70.6 23h0M73.3 23.5h0M76 24h0M78.7 24.4h0M81.4 24.9h0M84.1 25.4h0M86.8 25.9h0M89.5 26.3h0M92.2 26.8h0M94.9 27.3h0M97.6 27.8h0M100.3 28.3h0M103 28.7h0M105.7 29.2h0M108.4 29.7h0M111.1 30.2h0M113.8 30.6h0M116.5 31.1h0M119.2 31.6h0M121.9 32.1h0M124.6 32.5h0M127.3 33h0M130 33.5h0M132.7 34h0M135.4 34.4h0M31.1 18.5h0M33.8 18.9h0M36.5 19.4h0M39.2 19.9h0M41.9 20.4h0M44.6 20.8h0M47.3 21.3h0M50 21.8h0M52.7 22.3h0M55.4 22.7h0M58.1 23.2h0M60.8 23.7h0M63.5 24.2h0M66.2 24.6h0M68.9 25.1h0M71.5 25.6h0M74.2 26.1h0M76.9 26.5h0M79.6 27h0M82.3 27.5h0M85 28h0M87.7 28.4h0M90.4 28.9h0M93.1 29.4h0M95.8 29.9h0M98.5 30.3h0M101.2 30.8h0M103.9 31.3h0M106.6 31.8h0M109.3 32.3h0M112 32.7h0M114.7 33.2h0M117.4 33.7h0M120.1 34.2h0M122.8 34.6h0M125.5 35.1h0M128.2 35.6h0M130.9 36.1h0M133.6 36.5h0M136.3 37h0M32 21h0M34.7 21.5h0M37.4 22h0M40.1 22.5h0M42.8 22.9h0M45.5 23.4h0M48.2 23.9h0M50.9 24.4h0M53.6 24.8h0M56.3 25.3h0M59 25.8h0M61.7 26.3h0M64.4 26.7h0M67.1 27.2h0M69.8 27.7h0M72.5 28.2h0M75.2 28.6h0M77.9 29.1h0M80.6 29.6h0M83.3 30.1h0M86 30.5h0M88.7 31h0M91.4 31.5h0M94.1 32h0M96.8 32.4h0M99.5 32.9h0M102.2 33.4h0M104.9 33.9h0M107.6 34.4h0M110.3 34.8h0M113 35.3h0M115.7 35.8h0M118.4 36.3h0M121.1 36.7h0M123.8 37.2h0M126.5 37.7h0M129.2 38.2h0M131.9 38.6h0M134.5 39.1h0M137.2 39.6h0M30.3 23.1h0M32.9 23.6h0M35.6 24.1h0M38.3 24.6h0M41 25h0M43.7 25.5h0M46.4 26h0M49.1 26.5h0M51.8 26.9h0M54.5 27.4h0M57.2 27.9h0M59.9 28.4h0M62.6 28.8h0M65.3 29.3h0M68 29.8h0M70.7 30.3h0M73.4 30.7h0M76.1 31.2h0M78.8 31.7h0M81.5 32.2h0M84.2 32.6h0M86.9 33.1h0M89.6 33.6h0M92.3 34.1h0M95 34.5h0M97.7 35h0M100.4 35.5h0M103.1 36h0M105.8 36.5h0M108.5 36.9h0M111.2 37.4h0M113.9 37.9h0M116.6 38.4h0M119.3 38.8h0M122 39.3h0M124.7 39.8h0M127.4 40.3h0M130.1 40.7h0M132.8 41.2h0M135.5 41.7h0M31.2 25.7h0M33.9 26.2h0M36.6 26.7h0M39.3 27.1h0M42 27.6h0M44.7 28.1h0M47.4 28.6h0M50.1 29h0M52.8 29.5h0M55.5 30h0M58.2 30.5h0M60.9 30.9h0M63.6 31.4h0M66.3 31.9h0M69 32.4h0M71.7 32.8h0M74.4 33.3h0M77.1 33.8h0M79.8 34.3h0M82.5 34.7h0M85.2 35.2h0M87.9 35.7h0M90.6 36.2h0M93.2 36.6h0M95.9 37.1h0M98.6 37.6h0M101.3 38.1h0M104 38.5h0M106.7 39h0M109.4 39.5h0M112.1 40h0M114.8 40.5h0M117.5 40.9h0M120.2 41.4h0M122.9 41.9h0M125.6 42.4h0M128.3 42.8h0M131 43.3h0M133.7 43.8h0M136.4 44.3h0M32.1 28.3h0M34.8 28.8h0M37.5 29.2h0M40.2 29.7h0M42.9 30.2h0M45.6 30.7h0M48.3 31.1h0M51 31.6h0M53.7 32.1h0M56.4 32.6h0M59.1 33h0M61.8 33.5h0M64.5 34h0M67.2 34.5h0M69.9 34.9h0M72.6 35.4h0M75.3 35.9h0M78 36.4h0M80.7 36.8h0M83.4 37.3h0M86.1 37.8h0M88.8 38.3h0M91.5 38.7h0M94.2 39.2h0M96.9 39.7h0M99.6 40.2h0M102.3 40.6h0M105 41.1h0M107.7 41.6h0M110.4 42.1h0M113.1 42.6h0M115.8 43h0M118.5 43.5h0M121.2 44h0M123.9 44.5h0M126.6 44.9h0M129.3 45.4h0M132 45.9h0M134.7 46.4h0M33.1 30.9h0M35.8 31.3h0M38.5 31.8h0M41.2 32.3h0M43.9 32.8h0M46.6 33.2h0M49.3 33.7h0M52 34.2h0M54.6 34.7h0M57.3 35.1h0M60 35.6h0M62.7 36.1h0M65.4 36.6h0M68.1 37h0M70.8 37.5h0M73.5 38h0M76.2 38.5h0M78.9 38.9h0M81.6 39.4h0M84.3 39.9h0M87 40.4h0M89.7 40.8h0M92.4 41.3h0M95.1 41.8h0M97.8 42.3h0M100.5 42.7h0M103.2 43.2h0M105.9 43.7h0M108.6 44.2h0M111.3 44.7h0M114 45.1h0M116.7 45.6h0M119.4 46.1h0M122.1 46.6h0M124.8 47h0M127.5 47.5h0M130.2 48h0M132.9 48.5h0M135.6 48.9h0M34 33.4h0M36.7 33.9h0M39.4 34.4h0M42.1 34.9h0M44.8 35.3h0M47.5 35.8h0M50.2 36.3h0M52.9 36.8h0M55.6 37.2h0M58.3 37.7h0M61 38.2h0M63.7 38.7h0M66.4 39.1h0M69.1 39.6h0M71.8 40.1h0M74.5 40.6h0M77.2 41h0M79.9 41.5h0M82.6 42h0M85.3 42.5h0M88 42.9h0M90.7 43.4h0M93.4 43.9h0M96.1 44.4h0M98.8 44.8h0M101.5 45.3h0M114.9 47.7h0M117.6 48.2h0M120.3 48.7h0M123 49.1h0M125.7 49.6h0M128.4 50.1h0M131.1 50.6h0M133.8 51h0M32.2 35.5h0M34.9 36h0M37.6 36.5h0M40.3 37h0M43 37.4h0M45.7 37.9h0M48.4 38.4h0M51.1 38.9h0M53.8 39.3h0M56.5 39.8h0M59.2 40.3h0M61.9 40.8h0M64.6 41.2h0M67.3 41.7h0M70 42.2h0M72.7 42.7h0M75.4 43.1h0M78.1 43.6h0M80.8 44.1h0M83.5 44.6h0M86.2 45h0M88.9 45.5h0M91.6 46h0M94.3 46.5h0M97 46.9h0M118.6 50.8h0M121.3 51.2h0M124 51.7h0M126.7 52.2h0M129.4 52.7h0M132.1 53.1h0M134.8 53.6h0M33.2 38.1h0M35.9 38.6h0M38.6 39.1h0M41.3 39.5h0M44 40h0M46.7 40.5h0M49.4 41h0M52.1 41.4h0M54.8 41.9h0M57.5 42.4h0M60.2 42.9h0M62.9 43.3h0M65.6 43.8h0M68.3 44.3h0M71 44.8h0M73.7 45.2h0M76.3 45.7h0M79 46.2h0M81.7 46.7h0M84.4 47.1h0M87.1 47.6h0M89.8 48.1h0M92.5 48.6h0M95.2 49h0M119.5 53.3h0M122.2 53.8h0M124.9 54.3h0M127.6 54.8h0M130.3 55.2h0M133 55.7h0M34.1 40.7h0M36.8 41.2h0M39.5 41.6h0M42.2 42.1h0M44.9 42.6h0M47.6 43.1h0M50.3 43.5h0M53 44h0M55.7 44.5h0M58.4 45h0M61.1 45.4h0M63.8 45.9h0M66.5 46.4h0M69.2 46.9h0M71.9 47.3h0M74.6 47.8h0M77.3 48.3h0M80 48.8h0M82.7 49.2h0M85.4 49.7h0M88.1 50.2h0M90.8 50.7h0M93.5 51.1h0M123.2 56.4h0M125.9 56.9h0M128.6 57.3h0M131.3 57.8h0M134 58.3h0M35 43.3h0M37.7 43.7h0M40.4 44.2h0M43.1 44.7h0M45.8 45.2h0M48.5 45.6h0M51.2 46.1h0M53.9 46.6h0M56.6 47.1h0M59.3 47.5h0M62 48h0M64.7 48.5h0M67.4 49h0M70.1 49.4h0M72.8 49.9h0M75.5 50.4h0M78.2 50.9h0M80.9 51.3h0M83.6 51.8h0M86.3 52.3h0M89 52.8h0M91.7 53.2h0M124.1 59h0M126.8 59.4h0M129.5 59.9h0M132.2 60.4h0M33.3 45.3h0M36 45.8h0M38.7 46.3h0M41.4 46.8h0M44.1 47.3h0M46.8 47.7h0M49.5 48.2h0M52.2 48.7h0M54.9 49.2h0M57.6 49.6h0M60.3 50.1h0M63 50.6h0M65.7 51.1h0M68.4 51.5h0M71.1 52h0M73.8 52.5h0M76.5 53h0M79.2 53.4h0M81.9 53.9h0M84.6 54.4h0M87.3 54.9h0M90 55.3h0M122.3 61.1h0M125 61.5h0M127.7 62h0M130.4 62.5h0M133.1 63h0M34.2 47.9h0M36.9 48.4h0M39.6 48.9h0M42.3 49.4h0M45 49.8h0M47.7 50.3h0M50.4 50.8h0M53.1 51.3h0M55.8 51.7h0M58.5 52.2h0M61.2 52.7h0M63.9 53.2h0M66.6 53.6h0M69.3 54.1h0M72 54.6h0M74.7 55.1h0M77.4 55.5h0M80.1 56h0M82.8 56.5h0M85.5 57h0M88.2 57.4h0M123.3 63.6h0M126 64.1h0M128.7 64.6h0M131.4 65.1h0M35.2 50.5h0M37.9 51h0M40.6 51.5h0M43.3 51.9h0M46 52.4h0M48.7 52.9h0M51.4 53.4h0M54.1 53.8h0M56.7 54.3h0M59.4 54.8h0M62.1 55.3h0M64.8 55.7h0M67.5 56.2h0M70.2 56.7h0M72.9 57.2h0M75.6 57.6h0M78.3 58.1h0M81 58.6h0M83.7 59.1h0M86.4 59.5h0M89.1 60h0M124.2 66.2h0M126.9 66.7h0M129.6 67.2h0M132.3 67.6h0M36.1 53.1h0M38.8 53.5h0M41.5 54h0M44.2 54.5h0M46.9 55h0M49.6 55.5h0M52.3 55.9h0M55 56.4h0M57.7 56.9h0M60.4 57.4h0M63.1 57.8h0M65.8 58.3h0M68.5 58.8h0M71.2 59.3h0M73.9 59.7h0M76.6 60.2h0M79.3 60.7h0M82 61.2h0M84.7 61.6h0M87.4 62.1h0M125.1 68.8h0M127.8 69.3h0M130.5 69.7h0M133.2 70.2h0M34.3 55.2h0M37 55.6h0M39.7 56.1h0M42.4 56.6h0M45.1 57.1h0M47.8 57.6h0M50.5 58h0M53.2 58.5h0M55.9 59h0M58.6 59.5h0M61.3 59.9h0M64 60.4h0M66.7 60.9h0M69.4 61.4h0M72.1 61.8h0M74.8 62.3h0M77.5 62.8h0M80.2 63.3h0M82.9 63.7h0M85.6 64.2h0M88.3 64.7h0M123.4 70.9h0M126.1 71.4h0M128.8 71.8h0M131.5 72.3h0M35.3 57.7h0M38 58.2h0M40.7 58.7h0M43.4 59.2h0M46.1 59.7h0M48.8 60.1h0M51.5 60.6h0M54.2 61.1h0M56.9 61.6h0M59.6 62h0M62.3 62.5h0M65 63h0M67.7 63.5h0M70.4 63.9h0M73.1 64.4h0M75.8 64.9h0M78.4 65.4h0M81.1 65.8h0M83.8 66.3h0M86.5 66.8h0M124.3 73.4h0M127 73.9h0M129.7 74.4h0M132.4 74.9h0M36.2 60.3h0M38.9 60.8h0M41.6 61.3h0M44.3 61.7h0M47 62.2h0M49.7 62.7h0M52.4 63.2h0M55.1 63.7h0M57.8 64.1h0M60.5 64.6h0M63.2 65.1h0M65.9 65.6h0M68.6 66h0M71.3 66.5h0M74 67h0M76.7 67.5h0M79.4 67.9h0M82.1 68.4h0M84.8 68.9h0M87.5 69.4h0M122.6 75.5h0M125.3 76h0M128 76.5h0M130.7 77h0M37.1 62.9h0M39.8 63.4h0M42.5 63.8h0M45.2 64.3h0M47.9 64.8h0M50.6 65.3h0M53.3 65.8h0M56 66.2h0M58.7 66.7h0M61.4 67.2h0M64.1 67.7h0M66.8 68.1h0M69.5 68.6h0M72.2 69.1h0M74.9 69.6h0M77.6 70h0M80.3 70.5h0M83 71h0M85.7 71.5h0M88.4 71.9h0M123.5 78.1h0M126.2 78.6h0M128.9 79.1h0M131.6 79.6h0M35.4 65h0M38.1 65.5h0M40.8 65.9h0M43.5 66.4h0M46.2 66.9h0M48.9 67.4h0M51.6 67.9h0M54.3 68.3h0M57 68.8h0M59.7 69.3h0M62.4 69.8h0M65.1 70.2h0M67.8 70.7h0M70.5 71.2h0M73.2 71.7h0M75.9 72.1h0M78.6 72.6h0M81.3 73.1h0M84 73.6h0M86.7 74h0M89.4 74.5h0M121.7 80.2h0M124.4 80.7h0M127.1 81.2h0M129.8 81.6h0M36.3 67.6h0M39 68h0M41.7 68.5h0M44.4 69h0M47.1 69.5h0M49.8 70h0M52.5 70.4h0M55.2 70.9h0M57.9 71.4h0M60.6 71.9h0M63.3 72.3h0M66 72.8h0M68.7 73.3h0M71.4 73.8h0M74.1 74.2h0M76.8 74.7h0M79.5 75.2h0M82.2 75.7h0M84.9 76.1h0M87.6 76.6h0M90.3 77.1h0M120 82.3h0M122.7 82.8h0M125.4 83.3h0M128.1 83.7h0M130.8 84.2h0M37.3 70.1h0M40 70.6h0M42.7 71.1h0M45.4 71.6h0M48.1 72h0M50.8 72.5h0M53.5 73h0M56.2 73.5h0M58.8 74h0M61.5 74.4h0M64.2 74.9h0M66.9 75.4h0M69.6 75.9h0M72.3 76.3h0M75 76.8h0M77.7 77.3h0M80.4 77.8h0M83.1 78.2h0M85.8 78.7h0M88.5 79.2h0M91.2 79.7h0M118.2 84.4h0M120.9 84.9h0M123.6 85.4h0M126.3 85.8h0M129 86.3h0M38.2 72.7h0M40.9 73.2h0M43.6 73.7h0M46.3 74.1h0M49 74.6h0M51.7 75.1h0M54.4 75.6h0M57.1 76.1h0M59.8 76.5h0M62.5 77h0M65.2 77.5h0M67.9 78h0M70.6 78.4h0M73.3 78.9h0M76 79.4h0M78.7 79.9h0M81.4 80.3h0M84.1 80.8h0M86.8 81.3h0M89.5 81.8h0M92.2 82.2h0M116.5 86.5h0M119.2 87h0M121.8 87.5h0M124.5 87.9h0M127.2 88.4h0M129.9 88.9h0M39.1 75.3h0M41.8 75.8h0M44.5 76.2h0M47.2 76.7h0M49.9 77.2h0M52.6 77.7h0M55.3 78.2h0M58 78.6h0M60.7 79.1h0M63.4 79.6h0M66.1 80.1h0M68.8 80.5h0M71.5 81h0M74.2 81.5h0M76.9 82h0M79.6 82.4h0M82.3 82.9h0M85 83.4h0M87.7 83.9h0M90.4 84.3h0M93.1 84.8h0M114.7 88.6h0M117.4 89.1h0M120.1 89.6h0M122.8 90h0M125.5 90.5h0M128.2 91h0M37.4 77.4h0M40.1 77.9h0M42.8 78.3h0M45.5 78.8h0M48.2 79.3h0M50.9 79.8h0M53.6 80.2h0M56.3 80.7h0M59 81.2h0M61.7 81.7h0M64.4 82.2h0M67.1 82.6h0M69.8 83.1h0M72.5 83.6h0M75.2 84.1h0M77.9 84.5h0M80.5 85h0M83.2 85.5h0M85.9 86h0M88.6 86.4h0M91.3 86.9h0M94 87.4h0M96.7 87.9h0M110.2 90.2h0M112.9 90.7h0M115.6 91.2h0M118.3 91.7h0M121 92.1h0M123.7 92.6h0M126.4 93.1h0M129.1 93.6h0M38.3 80h0M41 80.4h0M43.7 80.9h0M46.4 81.4h0M49.1 81.9h0M51.8 82.3h0M54.5 82.8h0M57.2 83.3h0M59.9 83.8h0M62.6 84.3h0M65.3 84.7h0M68 85.2h0M70.7 85.7h0M73.4 86.2h0M76.1 86.6h0M78.8 87.1h0M81.5 87.6h0M84.2 88.1h0M86.9 88.5h0M89.6 89h0M92.3 89.5h0M95 90h0M97.7 90.4h0M100.4 90.9h0M103.1 91.4h0M105.8 91.9h0M108.5 92.3h0M111.2 92.8h0M113.9 93.3h0M116.6 93.8h0M119.3 94.2h0M122 94.7h0M124.7 95.2h0M127.4 95.7h0M130.1 96.1h0M39.2 82.5h0M41.9 83h0M44.6 83.5h0M47.3 84h0M50 84.4h0M52.7 84.9h0M55.4 85.4h0M58.1 85.9h0M60.8 86.4h0M63.5 86.8h0M66.2 87.3h0M68.9 87.8h0M71.6 88.3h0M74.3 88.7h0M77 89.2h0M79.7 89.7h0M82.4 90.2h0M85.1 90.6h0M87.8 91.1h0M90.5 91.6h0M93.2 92.1h0M95.9 92.5h0M98.6 93h0M101.3 93.5h0M104 94h0M106.7 94.4h0M109.4 94.9h0M112.1 95.4h0M114.8 95.9h0M117.5 96.3h0M120.2 96.8h0M122.9 97.3h0M125.6 97.8h0M128.3 98.2h0M40.2 85.1h0M42.9 85.6h0M45.6 86.1h0M48.3 86.5h0M51 87h0M53.7 87.5h0M56.4 88h0M59.1 88.4h0M61.8 88.9h0M64.5 89.4h0M67.2 89.9h0M69.9 90.4h0M72.6 90.8h0M75.3 91.3h0M78 91.8h0M80.7 92.3h0M83.4 92.7h0M86.1 93.2h0M88.8 93.7h0M91.5 94.2h0M94.2 94.6h0M96.9 95.1h0M99.6 95.6h0M102.2 96.1h0M104.9 96.5h0M107.6 97h0M110.3 97.5h0M113 98h0M115.7 98.4h0M118.4 98.9h0M121.1 99.4h0M123.8 99.9h0M126.5 100.3h0M129.2 100.8h0M38.4 87.2h0M41.1 87.7h0M43.8 88.2h0M46.5 88.6h0M49.2 89.1h0M51.9 89.6h0M54.6 90.1h0M57.3 90.5h0M60 91h0M62.7 91.5h0M65.4 92h0M68.1 92.5h0M70.8 92.9h0M73.5 93.4h0M76.2 93.9h0M78.9 94.4h0M81.6 94.8h0M84.3 95.3h0M87 95.8h0M89.7 96.3h0M92.4 96.7h0M95.1 97.2h0M97.8 97.7h0M100.5 98.2h0M103.2 98.6h0M105.9 99.1h0M108.6 99.6h0M111.3 100.1h0M114 100.5h0M116.7 101h0M119.4 101.5h0M122.1 102h0M124.8 102.4h0M127.5 102.9h0M39.4 89.8h0M42.1 90.3h0M44.8 90.7h0M47.5 91.2h0M50.2 91.7h0M52.9 92.2h0M55.6 92.6h0M58.3 93.1h0M60.9 93.6h0M63.6 94.1h0M66.3 94.6h0M69 95h0M71.7 95.5h0M74.4 96h0M77.1 96.5h0M79.8 96.9h0M82.5 97.4h0M85.2 97.9h0M87.9 98.4h0M90.6 98.8h0M93.3 99.3h0M96 99.8h0M98.7 100.3h0M101.4 100.7h0M104.1 101.2h0M106.8 101.7h0M109.5 102.2h0M112.2 102.6h0M114.9 103.1h0M117.6 103.6h0M120.3 104.1h0M123 104.5h0M125.7 105h0M128.4 105.5h0M40.3 92.4h0M43 92.8h0M45.7 93.3h0M48.4 93.8h0M51.1 94.3h0M53.8 94.7h0M56.5 95.2h0M59.2 95.7h0M61.9 96.2h0M64.6 96.6h0M67.3 97.1h0M70 97.6h0M72.7 98.1h0M75.4 98.6h0M78.1 99h0M80.8 99.5h0M83.5 100h0M86.2 100.5h0M88.9 100.9h0M91.6 101.4h0M94.3 101.9h0M97 102.4h0M99.7 102.8h0M102.4 103.3h0M105.1 103.8h0M107.8 104.3h0M110.5 104.7h0M113.2 105.2h0M115.9 105.7h0M118.6 106.2h0M121.3 106.6h0M123.9 107.1h0M126.6 107.6h0M41.2 94.9h0M43.9 95.4h0M46.6 95.9h0M49.3 96.4h0M52 96.8h0M54.7 97.3h0M57.4 97.8h0M60.1 98.3h0M62.8 98.7h0M65.5 99.2h0M68.2 99.7h0M70.9 100.2h0M73.6 100.7h0M76.3 101.1h0M79 101.6h0M81.7 102.1h0M84.4 102.6h0M87.1 103h0M89.8 103.5h0M92.5 104h0M95.2 104.5h0M97.9 104.9h0M100.6 105.4h0M103.3 105.9h0M106 106.4h0M108.7 106.8h0M111.4 107.3h0M114.1 107.8h0M116.8 108.3h0M119.5 108.7h0M122.2 109.2h0M124.9 109.7h0M127.6 110.2h0M39.5 97h0M42.2 97.5h0M44.9 98h0M47.6 98.5h0M50.3 98.9h0M53 99.4h0M55.7 99.9h0M58.4 100.4h0M61.1 100.8h0M63.8 101.3h0M66.5 101.8h0M69.2 102.3h0M71.9 102.8h0M74.6 103.2h0M77.3 103.7h0M80 104.2h0M82.6 104.7h0M85.3 105.1h0M88 105.6h0M90.7 106.1h0M93.4 106.6h0M96.1 107h0M98.8 107.5h0M101.5 108h0M104.2 108.5h0M106.9 108.9h0M109.6 109.4h0M112.3 109.9h0M115 110.4h0M117.7 110.8h0M120.4 111.3h0M123.1 111.8h0M125.8 112.3h0M40.4 99.6h0M43.1 100.1h0M45.8 100.6h0M48.5 101h0M51.2 101.5h0M53.9 102h0M56.6 102.5h0M59.3 102.9h0M62 103.4h0M64.7 103.9h0M67.4 104.4h0M70.1 104.8h0M72.8 105.3h0M75.5 105.8h0M78.2 106.3h0M80.9 106.8h0M83.6 107.2h0M86.3 107.7h0M89 108.2h0M91.7 108.7h0M94.4 109.1h0M97.1 109.6h0M99.8 110.1h0M102.5 110.6h0M105.2 111h0M107.9 111.5h0M110.6 112h0M113.3 112.5h0M116 112.9h0M118.7 113.4h0M121.4 113.9h0M124.1 114.4h0M126.8 114.8h0M41.3 102.2h0M44 102.7h0M46.7 103.1h0M49.4 103.6h0M52.1 104.1h0M54.8 104.6h0M57.5 105h0M60.2 105.5h0M62.9 106h0M65.6 106.5h0M68.3 106.9h0M71 107.4h0M73.7 107.9h0M76.4 108.4h0M79.1 108.9h0M81.8 109.3h0M84.5 109.8h0M87.2 110.3h0M89.9 110.8h0M92.6 111.2h0M95.3 111.7h0M98 112.2h0M100.7 112.7h0M103.4 113.1h0M106.1 113.6h0M108.8 114.1h0M111.5 114.6h0M114.2 115h0M116.9 115.5h0M119.6 116h0M122.3 116.5h0M125 116.9h0M42.3 104.8h0M45 105.2h0M47.7 105.7h0M50.4 106.2h0M53.1 106.7h0M55.8 107.1h0M58.5 107.6h0M61.2 108.1h0M63.9 108.6h0M66.6 109h0M69.3 109.5h0M72 110h0M74.7 110.5h0M77.4 111h0M80.1 111.4h0M82.8 111.9h0M85.5 112.4h0M88.2 112.9h0M90.9 113.3h0M93.6 113.8h0M96.3 114.3h0M99 114.8h0M101.7 115.2h0M104.3 115.7h0M107 116.2h0M109.7 116.7h0M112.4 117.1h0M115.1 117.6h0M117.8 118.1h0M120.5 118.6h0M123.2 119h0M125.9 119.5h0M43.2 107.3h0M45.9 107.8h0M48.6 108.3h0M51.3 108.8h0M54 109.2h0M56.7 109.7h0M59.4 110.2h0M62.1 110.7h0M64.8 111.1h0M67.5 111.6h0M70.2 112.1h0M72.9 112.6h0M75.6 113h0M78.3 113.5h0M81 114h0M83.7 114.5h0M86.4 115h0M89.1 115.4h0M91.8 115.9h0M94.5 116.4h0M97.2 116.9h0M99.9 117.3h0M102.6 117.8h0M105.3 118.3h0M108 118.8h0M110.7 119.2h0M113.4 119.7h0M116.1 120.2h0M118.8 120.7h0M121.5 121.1h0M124.2 121.6h0M126.9 122.1h0M41.5 109.4h0M44.2 109.9h0M46.9 110.4h0M49.6 110.9h0M52.3 111.3h0M55 111.8h0M57.7 112.3h0M60.4 112.8h0M63 113.2h0M65.7 113.7h0M68.4 114.2h0M71.1 114.7h0M73.8 115.1h0M76.5 115.6h0M79.2 116.1h0M81.9 116.6h0M84.6 117.1h0M87.3 117.5h0M90 118h0M92.7 118.5h0M95.4 119h0M98.1 119.4h0M100.8 119.9h0M103.5 120.4h0M106.2 120.9h0M108.9 121.3h0M111.6 121.8h0M114.3 122.3h0M117 122.8h0M119.7 123.2h0M122.4 123.7h0M125.1 124.2h0M42.4 112h0M45.1 112.5h0M47.8 113h0M50.5 113.4h0M53.2 113.9h0M55.9 114.4h0M58.6 114.9h0M61.3 115.3h0M64 115.8h0M66.7 116.3h0M69.4 116.8h0M72.1 117.2h0M74.8 117.7h0M77.5 118.2h0M80.2 118.7h0M82.9 119.2h0M85.6 119.6h0M88.3 120.1h0M91 120.6h0M93.7 121.1h0M96.4 121.5h0M99.1 122h0M101.8 122.5h0M104.5 123h0M107.2 123.4h0M109.9 123.9h0M112.6 124.4h0M115.3 124.9h0M118 125.3h0M120.7 125.8h0M123.4 126.3h0M126 126.8h0M43.3 114.6h0M46 115.1h0M48.7 115.5h0M51.4 116h0M54.1 116.5h0M56.8 117h0M59.5 117.4h0M62.2 117.9h0M64.9 118.4h0M67.6 118.9h0M70.3 119.3h0M73 119.8h0M75.7 120.3h0M78.4 120.8h0M81.1 121.2h0M83.8 121.7h0M86.5 122.2h0M89.2 122.7h0M91.9 123.2h0M94.6 123.6h0M97.3 124.1h0M100 124.6h0M102.7 125.1h0M105.4 125.5h0M108.1 126h0M110.8 126.5h0M113.5 127h0M116.2 127.4h0M118.9 127.9h0M121.6 128.4h0M124.3 128.9h0M44.3 117.2h0M47 117.6h0M49.7 118.1h0M52.4 118.6h0M55.1 119.1h0M57.8 119.5h0M60.5 120h0M63.2 120.5h0M65.9 121h0M68.6 121.4h0M71.3 121.9h0M74 122.4h0M76.7 122.9h0M79.4 123.3h0M82.1 123.8h0M84.8 124.3h0M87.4 124.8h0M90.1 125.3h0M92.8 125.7h0M95.5 126.2h0M98.2 126.7h0M100.9 127.2h0M103.6 127.6h0M106.3 128.1h0M109 128.6h0M111.7 129.1h0M114.4 129.5h0M117.1 130h0M119.8 130.5h0M122.5 131h0M125.2 131.4h0M42.5 119.3h0M45.2 119.7h0M47.9 120.2h0M50.6 120.7h0M53.3 121.2h0M56 121.6h0M58.7 122.1h0M61.4 122.6h0M64.1 123.1h0M66.8 123.5h0M69.5 124h0M72.2 124.5h0M74.9 125h0M77.6 125.4h0M80.3 125.9h0M83 126.4h0M85.7 126.9h0M88.4 127.4h0M91.1 127.8h0M93.8 128.3h0M96.5 128.8h0M99.2 129.3h0M101.9 129.7h0M104.6 130.2h0M107.3 130.7h0M110 131.2h0M112.7 131.6h0M115.4 132.1h0M118.1 132.6h0M120.8 133.1h0M123.5 133.5h0M43.5 121.8h0M46.1 122.3h0M48.8 122.8h0M51.5 123.3h0M54.2 123.7h0M56.9 124.2h0M59.6 124.7h0M62.3 125.2h0M65 125.6h0M67.7 126.1h0M70.4 126.6h0M73.1 127.1h0M75.8 127.5h0M78.5 128h0M81.2 128.5h0M83.9 129h0M86.6 129.4h0M89.3 129.9h0M92 130.4h0M94.7 130.9h0M97.4 131.4h0M100.1 131.8h0M102.8 132.3h0M105.5 132.8h0M108.2 133.3h0M110.9 133.7h0M113.6 134.2h0M116.3 134.7h0M119 135.2h0M121.7 135.6h0M124.4 136.1h0M44.4 124.4h0M47.1 124.9h0M49.8 125.4h0M52.5 125.8h0M55.2 126.3h0M57.9 126.8h0M60.6 127.3h0M63.3 127.7h0M66 128.2h0M68.7 128.7h0M71.4 129.2h0M74.1 129.6h0M76.8 130.1h0M79.5 130.6h0M82.2 131.1h0M84.9 131.5h0M87.6 132h0M90.3 132.5h0M93 133h0M95.7 133.5h0M98.4 133.9h0M101.1 134.4h0M103.8 134.9h0M106.5 135.4h0M109.1 135.8h0M111.8 136.3h0M114.5 136.8h0M117.2 137.3h0M119.9 137.7h0M122.6 138.2h0M45.3 127h0M48 127.5h0M50.7 127.9h0M53.4 128.4h0M56.1 128.9h0M58.8 129.4h0M61.5 129.8h0M64.2 130.3h0M66.9 130.8h0M69.6 131.3h0M72.3 131.7h0M75 132.2h0M77.7 132.7h0M80.4 133.2h0M83.1 133.6h0M85.8 134.1h0M88.5 134.6h0M91.2 135.1h0M93.9 135.6h0M96.6 136h0M99.3 136.5h0M102 137h0M104.7 137.5h0M107.4 137.9h0M110.1 138.4h0M112.8 138.9h0M115.5 139.4h0M118.2 139.8h0M120.9 140.3h0M123.6 140.8h0M43.6 129.1h0M46.3 129.6h0M49 130h0M51.7 130.5h0M54.4 131h0M57.1 131.5h0M59.8 131.9h0M62.5 132.4h0M65.2 132.9h0M67.8 133.4h0M70.5 133.8h0M73.2 134.3h0M75.9 134.8h0M78.6 135.3h0M81.3 135.7h0M84 136.2h0M86.7 136.7h0M89.4 137.2h0M92.1 137.6h0M94.8 138.1h0M97.5 138.6h0M100.2 139.1h0M102.9 139.6h0M105.6 140h0M108.3 140.5h0M111 141h0M113.7 141.5h0M116.4 141.9h0M119.1 142.4h0M121.8 142.9h0M44.5 131.7h0M47.2 132.1h0M49.9 132.6h0M52.6 133.1h0M55.3 133.6h0M58 134h0M60.7 134.5h0M63.4 135h0M66.1 135.5h0M68.8 135.9h0M71.5 136.4h0M74.2 136.9h0M76.9 137.4h0M79.6 137.8h0M82.3 138.3h0M85 138.8h0M87.7 139.3h0M90.4 139.7h0M93.1 140.2h0M95.8 140.7h0M98.5 141.2h0M101.2 141.7h0M103.9 142.1h0M106.6 142.6h0M109.3 143.1h0M112 143.6h0M114.7 144h0M117.4 144.5h0M120.1 145h0M122.8 145.5h0M45.4 134.2h0M48.1 134.7h0M50.8 135.2h0M53.5 135.7h0M56.2 136.1h0M58.9 136.6h0M61.6 137.1h0M64.3 137.6h0M67 138h0M69.7 138.5h0M72.4 139h0M75.1 139.5h0M77.8 139.9h0M80.5 140.4h0M83.2 140.9h0M85.9 141.4h0M88.6 141.8h0M91.3 142.3h0M94 142.8h0M96.7 143.3h0M99.4 143.8h0M102.1 144.2h0M104.8 144.7h0M107.5 145.2h0M110.2 145.7h0M112.9 146.1h0M115.6 146.6h0M118.3 147.1h0M121 147.6h0M123.7 148h0M46.4 136.8h0M49.1 137.3h0M51.8 137.8h0M54.5 138.2h0M57.2 138.7h0M59.9 139.2h0M62.6 139.7h0M65.3 140.1h0M68 140.6h0M70.7 141.1h0M73.4 141.6h0M76.1 142h0M78.8 142.5h0M81.5 143h0M84.2 143.5h0M86.9 143.9h0M89.5 144.4h0M92.2 144.9h0M94.9 145.4h0M97.6 145.8h0M100.3 146.3h0M103 146.8h0M105.7 147.3h0M108.4 147.8h0M111.1 148.2h0M113.8 148.7h0M116.5 149.2h0M119.2 149.7h0M121.9 150.1h0M44.6 138.9h0M47.3 139.4h0M50 139.9h0M52.7 140.3h0M55.4 140.8h0M58.1 141.3h0M60.8 141.8h0M63.5 142.2h0M66.2 142.7h0M68.9 143.2h0M71.6 143.7h0M74.3 144.1h0M77 144.6h0M79.7 145.1h0M82.4 145.6h0M85.1 146h0M87.8 146.5h0M90.5 147h0M93.2 147.5h0M95.9 147.9h0M98.6 148.4h0M101.3 148.9h0M104 149.4h0M106.7 149.9h0M109.4 150.3h0M112.1 150.8h0M114.8 151.3h0M117.5 151.8h0M120.2 152.2h0M122.9 152.7h0M45.6 141.5h0M48.2 142h0M50.9 142.4h0M53.6 142.9h0M56.3 143.4h0M59 143.9h0M61.7 144.3h0M64.4 144.8h0M67.1 145.3h0M69.8 145.8h0M72.5 146.2h0M75.2 146.7h0M77.9 147.2h0M80.6 147.7h0M83.3 148.1h0M86 148.6h0M88.7 149.1h0M91.4 149.6h0M94.1 150h0M96.8 150.5h0M99.5 151h0M102.2 151.5h0M104.9 152h0M107.6 152.4h0M110.3 152.9h0M113 153.4h0M115.7 153.9h0M118.4 154.3h0M121.1 154.8h0M46.5 144.1h0M49.2 144.5h0M51.9 145h0M54.6 145.5h0M57.3 146h0M60 146.4h0M62.7 146.9h0M65.4 147.4h0M68.1 147.9h0M70.8 148.3h0M73.5 148.8h0M76.2 149.3h0M78.9 149.8h0M81.6 150.2h0M84.3 150.7h0M87 151.2h0M89.7 151.7h0M92.4 152.1h0M95.1 152.6h0M97.8 153.1h0M100.5 153.6h0M103.2 154h0M105.9 154.5h0M108.6 155h0M111.2 155.5h0M113.9 156h0M116.6 156.4h0M119.3 156.9h0M122 157.4h0M47.4 146.6h0M50.1 147.1h0M52.8 147.6h0M55.5 148.1h0M58.2 148.5h0M60.9 149h0M63.6 149.5h0M66.3 150h0M69 150.4h0M71.7 150.9h0M74.4 151.4h0M77.1 151.9h0M79.8 152.3h0M82.5 152.8h0M85.2 153.3h0M87.9 153.8h0M90.6 154.2h0M93.3 154.7h0M96 155.2h0M98.7 155.7h0M101.4 156.1h0M104.1 156.6h0M106.8 157.1h0M109.5 157.6h0M112.2 158.1h0M114.9 158.5h0M117.6 159h0M120.3 159.5h0M48.4 149.2h0M51.1 149.7h0M53.8 150.2h0M56.5 150.6h0M59.2 151.1h0M61.9 151.6h0M64.6 152.1h0M67.3 152.5h0M69.9 153h0M72.6 153.5h0M75.3 154h0M78 154.4h0M80.7 154.9h0M83.4 155.4h0M86.1 155.9h0M88.8 156.3h0M91.5 156.8h0M94.2 157.3h0M96.9 157.8h0M99.6 158.2h0M102.3 158.7h0M105 159.2h0M107.7 159.7h0M110.4 160.2h0M113.1 160.6h0M115.8 161.1h0M118.5 161.6h0M121.2 162.1h0M46.6 151.3h0M49.3 151.8h0M52 152.3h0M54.7 152.7h0M57.4 153.2h0M60.1 153.7h0M62.8 154.2h0M65.5 154.6h0M68.2 155.1h0M70.9 155.6h0M73.6 156.1h0M76.3 156.5h0M79 157h0M81.7 157.5h0M84.4 158h0M87.1 158.4h0M89.8 158.9h0M92.5 159.4h0M95.2 159.9h0M97.9 160.3h0M100.6 160.8h0M103.3 161.3h0M106 161.8h0M108.7 162.2h0M111.4 162.7h0M114.1 163.2h0M116.8 163.7h0M119.5 164.2h0M47.5 153.9h0M50.2 154.4h0M52.9 154.8h0M55.6 155.3h0M58.3 155.8h0M61 156.3h0M77.2 159.1h0M79.9 159.6h0M82.6 160.1h0M85.3 160.5h0M88 161h0M90.7 161.5h0M93.4 162h0M96.1 162.4h0M98.8 162.9h0M101.5 163.4h0M104.2 163.9h0M106.9 164.3h0M109.6 164.8h0M112.3 165.3h0M115 165.8h0M117.7 166.3h0M120.4 166.7h0M48.5 156.5h0M51.2 156.9h0M53.9 157.4h0M56.6 157.9h0M59.3 158.4h0M78.2 161.7h0M80.9 162.2h0M83.6 162.6h0M86.3 163.1h0M89 163.6h0M91.6 164.1h0M94.3 164.5h0M97 165h0M99.7 165.5h0M102.4 166h0M105.1 166.4h0M107.8 166.9h0M110.5 167.4h0M113.2 167.9h0M115.9 168.4h0M118.6 168.8h0M49.4 159h0M52.1 159.5h0M54.8 160h0M81.8 164.7h0M84.5 165.2h0M87.2 165.7h0M89.9 166.2h0M92.6 166.6h0M95.3 167.1h0M98 167.6h0M100.7 168.1h0M103.4 168.5h0M106.1 169h0M108.8 169.5h0M111.5 170h0M114.2 170.4h0M116.9 170.9h0M119.6 171.4h0M47.7 161.1h0M50.3 161.6h0M53 162.1h0M82.7 167.3h0M85.4 167.8h0M88.1 168.3h0M90.8 168.7h0M93.5 169.2h0M96.2 169.7h0M98.9 170.2h0M101.6 170.6h0M104.3 171.1h0M107 171.6h0M109.7 172.1h0M112.4 172.5h0M115.1 173h0M117.8 173.5h0M48.6 163.7h0M51.3 164.2h0M54 164.7h0M83.7 169.9h0M86.4 170.4h0M89.1 170.8h0M91.8 171.3h0M94.5 171.8h0M97.2 172.3h0M99.9 172.7h0M102.6 173.2h0M105.3 173.7h0M108 174.2h0M110.7 174.6h0M113.3 175.1h0M116 175.6h0M118.7 176.1h0M49.5 166.3h0M52.2 166.8h0M84.6 172.5h0M87.3 172.9h0M90 173.4h0M92.7 173.9h0M95.4 174.4h0M98.1 174.8h0M100.8 175.3h0M103.5 175.8h0M106.2 176.3h0M108.9 176.7h0M111.6 177.2h0M114.3 177.7h0M117 178.2h0M119.7 178.6h0M50.5 168.9h0M85.5 175h0M88.2 175.5h0M90.9 176h0M93.6 176.5h0M96.3 176.9h0M99 177.4h0M101.7 177.9h0M104.4 178.4h0M107.1 178.8h0M109.8 179.3h0M112.5 179.8h0M115.2 180.3h0M117.9 180.7h0M48.7 171h0M86.5 177.6h0M89.2 178.1h0M91.9 178.6h0M94.6 179h0M97.3 179.5h0M100 180h0M102.7 180.5h0M105.4 180.9h0M108.1 181.4h0M110.8 181.9h0M113.5 182.4h0M116.2 182.8h0M118.9 183.3h0M49.6 173.5h0M84.7 179.7h0M87.4 180.2h0M90.1 180.7h0M92.8 181.1h0M95.5 181.6h0M98.2 182.1h0M100.9 182.6h0M103.6 183h0M106.3 183.5h0M109 184h0M111.7 184.5h0M114.4 184.9h0M117.1 185.4h0M85.7 182.3h0M88.4 182.8h0M91.1 183.2h0M93.7 183.7h0M96.4 184.2h0M99.1 184.7h0M101.8 185.1h0M104.5 185.6h0M107.2 186.1h0M109.9 186.6h0M112.6 187h0M115.3 187.5h0M118 188h0M86.6 184.9h0M89.3 185.3h0M92 185.8h0M94.7 186.3h0M97.4 186.8h0M100.1 187.2h0M102.8 187.7h0M105.5 188.2h0M108.2 188.7h0M110.9 189.1h0M113.6 189.6h0M116.3 190.1h0M84.8 187h0M87.5 187.4h0M90.2 187.9h0M92.9 188.4h0M95.6 188.9h0M98.3 189.3h0M101 189.8h0M103.7 190.3h0M106.4 190.8h0M109.1 191.2h0M111.8 191.7h0M114.5 192.2h0M117.2 192.7h0M85.8 189.5h0M88.5 190h0M91.2 190.5h0M93.9 191h0M96.6 191.4h0M99.3 191.9h0M102 192.4h0M104.7 192.9h0M107.4 193.3h0M110.1 193.8h0M112.8 194.3h0M115.4 194.8h0M84 191.6h0M86.7 192.1h0M89.4 192.6h0M92.1 193.1h0M94.8 193.5h0M97.5 194h0M100.2 194.5h0M102.9 195h0M105.6 195.4h0M108.3 195.9h0M111 196.4h0M113.7 196.9h0M116.4 197.3h0M84.9 194.2h0M87.6 194.7h0M90.3 195.2h0M93 195.6h0M95.7 196.1h0M98.4 196.6h0M101.1 197.1h0M103.8 197.5h0M106.5 198h0M109.2 198.5h0M111.9 199h0M114.6 199.4h0M83.2 196.3h0M85.9 196.8h0M88.6 197.3h0M91.3 197.7h0M94 198.2h0M96.7 198.7h0M99.4 199.2h0M102.1 199.6h0M104.8 200.1h0M107.5 200.6h0M110.2 201.1h0M112.9 201.5h0M115.6 202h0M81.4 198.4h0M84.1 198.9h0M86.8 199.4h0M89.5 199.8h0M92.2 200.3h0M94.9 200.8h0M97.6 201.3h0M100.3 201.7h0M103 202.2h0M105.7 202.7h0M108.4 203.2h0M111.1 203.6h0M113.8 204.1h0M116.5 204.6h0M82.4 201h0M85.1 201.5h0M87.8 201.9h0M90.5 202.4h0M93.2 202.9h0M95.8 203.4h0M98.5 203.8h0M101.2 204.3h0M103.9 204.8h0M106.6 205.3h0M109.3 205.7h0M112 206.2h0M114.7 206.7h0M80.6 203.1h0M83.3 203.6h0M86 204h0M88.7 204.5h0M91.4 205h0M94.1 205.5h0M96.8 205.9h0M99.5 206.4h0M102.2 206.9h0M104.9 207.4h0M107.6 207.8h0M110.3 208.3h0M113 208.8h0M115.7 209.3h0M78.8 205.2h0M81.5 205.7h0M84.2 206.1h0M86.9 206.6h0M89.6 207.1h0M92.3 207.6h0M95 208h0M97.7 208.5h0M100.4 209h0M103.1 209.5h0M105.8 209.9h0M108.5 210.4h0M111.2 210.9h0M113.9 211.4h0M52.8 203h0M55.5 203.5h0M77.1 207.3h0M79.8 207.8h0M82.5 208.2h0M85.2 208.7h0M87.9 209.2h0M90.6 209.7h0M93.3 210.1h0M96 210.6h0M98.7 211.1h0M101.4 211.6h0M104.1 212h0M106.8 212.5h0M109.5 213h0M112.2 213.5h0M114.9 213.9h0M53.7 205.6h0M56.4 206h0M72.6 208.9h0M75.3 209.4h0M78 209.9h0M80.7 210.3h0M83.4 210.8h0M86.1 211.3h0M88.8 211.8h0M91.5 212.2h0M94.2 212.7h0M96.9 213.2h0M99.6 213.7h0M102.3 214.1h0M105 214.6h0M107.7 215.1h0M110.4 215.6h0M113.1 216h0M54.7 208.1h0M57.4 208.6h0M60.1 209.1h0M62.8 209.6h0M65.5 210.1h0M68.2 210.5h0M70.9 211h0M73.6 211.5h0M76.3 212h0M78.9 212.4h0M81.6 212.9h0M84.3 213.4h0M87 213.9h0M89.7 214.3h0M92.4 214.8h0M95.1 215.3h0M97.8 215.8h0M100.5 216.2h0M103.2 216.7h0M105.9 217.2h0M108.6 217.7h0M111.3 218.1h0M114 218.6h0M55.6 210.7h0M58.3 211.2h0M61 211.7h0M63.7 212.1h0M66.4 212.6h0M69.1 213.1h0M71.8 213.6h0M74.5 214.1h0M77.2 214.5h0M79.9 215h0M82.6 215.5h0M85.3 216h0M88 216.4h0M90.7 216.9h0M93.4 217.4h0M96.1 217.9h0M98.8 218.3h0M101.5 218.8h0M104.2 219.3h0M106.9 219.8h0M109.6 220.2h0M112.3 220.7h0M53.8 212.8h0M56.5 213.3h0M59.2 213.8h0M61.9 214.2h0M64.6 214.7h0M67.3 215.2h0M70 215.7h0M72.7 216.2h0M75.4 216.6h0M78.1 217.1h0M80.8 217.6h0M83.5 218.1h0M86.2 218.5h0M88.9 219h0M91.6 219.5h0M94.3 220h0M97 220.4h0M99.7 220.9h0M102.4 221.4h0M105.1 221.9h0M107.8 222.3h0M110.5 222.8h0M113.2 223.3h0M54.8 215.4h0M57.5 215.9h0M60.2 216.3h0M62.9 216.8h0M65.6 217.3h0M68.3 217.8h0M71 218.3h0M73.7 218.7h0M76.4 219.2h0M79.1 219.7h0M81.8 220.2h0M84.5 220.6h0M87.2 221.1h0M89.9 221.6h0M92.6 222.1h0M95.3 222.5h0M98 223h0M100.6 223.5h0M103.3 224h0M106 224.4h0M108.7 224.9h0M111.4 225.4h0M55.7 218h0M58.4 218.4h0M61.1 218.9h0M63.8 219.4h0M66.5 219.9h0M69.2 220.3h0M71.9 220.8h0M74.6 221.3h0M77.3 221.8h0M80 222.3h0M82.7 222.7h0M85.4 223.2h0M88.1 223.7h0M90.8 224.2h0M93.5 224.6h0M96.2 225.1h0M98.9 225.6h0M101.6 226.1h0M104.3 226.5h0M107 227h0M109.7 227.5h0M112.4 228h0M56.7 220.5h0M59.3 221h0M62 221.5h0M64.7 222h0M67.4 222.4h0M70.1 222.9h0M72.8 223.4h0M75.5 223.9h0M78.2 224.4h0M80.9 224.8h0M83.6 225.3h0M86.3 225.8h0M89 226.3h0M91.7 226.7h0M94.4 227.2h0M97.1 227.7h0M99.8 228.2h0M102.5 228.6h0M105.2 229.1h0M107.9 229.6h0M110.6 230.1h0M113.3 230.5h0M57.6 223.1h0M60.3 223.6h0M63 224.1h0M65.7 224.5h0M68.4 225h0M71.1 225.5h0M73.8 226h0M76.5 226.5h0M79.2 226.9h0M81.9 227.4h0M84.6 227.9h0M87.3 228.4h0M90 228.8h0M92.7 229.3h0M95.4 229.8h0M98.1 230.3h0M100.8 230.7h0M103.5 231.2h0M106.2 231.7h0M108.9 232.2h0M111.6 232.6h0M55.8 225.2h0M58.5 225.7h0M61.2 226.2h0M63.9 226.6h0M66.6 227.1h0M69.3 227.6h0M72 228.1h0M74.7 228.5h0M77.4 229h0M80.1 229.5h0M82.8 230h0M85.5 230.5h0M88.2 230.9h0M90.9 231.4h0M93.6 231.9h0M96.3 232.4h0M99 232.8h0M101.7 233.3h0M104.4 233.8h0M107.1 234.3h0M109.8 234.7h0M112.5 235.2h0M56.8 227.8h0M59.5 228.3h0M62.2 228.7h0M64.9 229.2h0M67.6 229.7h0M70.3 230.2h0M73 230.6h0M75.7 231.1h0M78.4 231.6h0M81 232.1h0M83.7 232.6h0M86.4 233h0M89.1 233.5h0M91.8 234h0M94.5 234.5h0M97.2 234.9h0M99.9 235.4h0M102.6 235.9h0M105.3 236.4h0M108 236.8h0M57.7 230.4h0M60.4 230.8h0M63.1 231.3h0M65.8 231.8h0M68.5 232.3h0M71.2 232.7h0M73.9 233.2h0M76.6 233.7h0M79.3 234.2h0M82 234.7h0M84.7 235.1h0M87.4 235.6h0M90.1 236.1h0M92.8 236.6h0M58.6 232.9h0M61.3 233.4h0M64 233.9h0M66.7 234.4h0M69.4 234.8h0M72.1 235.3h0M74.8 235.8h0M77.5 236.3h0M80.2 236.7h0M56.9 235h0M59.6 235.5h0M62.3 236h0M65 236.5h0M67.7 236.9h0M133.9 65.4h0M121.6 57.8h0M127.2 117.3h0M36.8 74.5h0M49.9 176.4h0M42.1 116.3h0M55.5 222.3h0M52.2 198.2h0M82.9 236.6h0M124 143.2h0M47 158.2h0M120 173.8h0M45.6 11.8h0" stroke="#20b4cc" stroke-opacity="0.3" stroke-width="2.3" stroke-linecap="round" fill="none"/>
<path d="M129.6 11.7h0M132.3 12.2h0M135 12.7h0M137.7 13.2h0M140.4 13.6h0M117.1 11.9h0M119.8 12.4h0M122.5 12.9h0M125.2 13.4h0M127.9 13.8h0M130.6 14.3h0M133.3 14.8h0M136 15.3h0M138.7 15.7h0M101.8 11.7h0M104.5 12.1h0M107.2 12.6h0M109.9 13.1h0M112.6 13.6h0M115.3 14h0M118 14.5h0M120.7 15h0M123.4 15.5h0M126.1 15.9h0M128.8 16.4h0M131.5 16.9h0M134.2 17.4h0M136.9 17.8h0M139.6 18.3h0M89.3 11.9h0M92 12.3h0M94.7 12.8h0M97.4 13.3h0M100.1 13.8h0M102.8 14.2h0M105.5 14.7h0M108.2 15.2h0M110.9 15.7h0M113.6 16.1h0M116.3 16.6h0M119 17.1h0M121.7 17.6h0M124.4 18h0M127.1 18.5h0M129.8 19h0M132.4 19.5h0M135.1 19.9h0M137.8 20.4h0M76.7 12h0M79.4 12.5h0M82.1 13h0M84.8 13.5h0M87.5 13.9h0M90.2 14.4h0M92.9 14.9h0M95.6 15.4h0M98.3 15.9h0M101 16.3h0M103.7 16.8h0M106.4 17.3h0M109.1 17.8h0M111.8 18.2h0M114.5 18.7h0M117.2 19.2h0M119.9 19.7h0M122.6 20.1h0M125.3 20.6h0M128 21.1h0M130.7 21.6h0M133.4 22h0M136.1 22.5h0M138.8 23h0M61.5 11.8h0M64.2 12.2h0M66.9 12.7h0M69.6 13.2h0M72.3 13.7h0M75 14.1h0M77.7 14.6h0M80.4 15.1h0M83.1 15.6h0M85.8 16h0M88.5 16.5h0M91.1 17h0M93.8 17.5h0M96.5 18h0M99.2 18.4h0M101.9 18.9h0M104.6 19.4h0M107.3 19.9h0M110 20.3h0M112.7 20.8h0M115.4 21.3h0M118.1 21.8h0M120.8 22.2h0M123.5 22.7h0M126.2 23.2h0M128.9 23.7h0M131.6 24.1h0M134.3 24.6h0M137 25.1h0M48.9 12h0M51.6 12.4h0M54.3 12.9h0M57 13.4h0M59.7 13.9h0M62.4 14.3h0M65.1 14.8h0M67.8 15.3h0M70.5 15.8h0M73.2 16.2h0M75.9 16.7h0M78.6 17.2h0M81.3 17.7h0M84 18.1h0M86.7 18.6h0M89.4 19.1h0M92.1 19.6h0M94.8 20.1h0M97.5 20.5h0M100.2 21h0M102.9 21.5h0M105.6 22h0M108.3 22.4h0M111 22.9h0M113.7 23.4h0M116.4 23.9h0M119.1 24.3h0M121.8 24.8h0M124.5 25.3h0M127.2 25.8h0M129.9 26.2h0M132.6 26.7h0M135.3 27.2h0M138 27.7h0M33.7 11.7h0M36.4 12.2h0M39.1 12.6h0M41.8 13.1h0M44.5 13.6h0M47.2 14.1h0M49.8 14.5h0M52.5 15h0M55.2 15.5h0M57.9 16h0M60.6 16.4h0M63.3 16.9h0M66 17.4h0M68.7 17.9h0M71.4 18.3h0M74.1 18.8h0M76.8 19.3h0M79.5 19.8h0M82.2 20.2h0M84.9 20.7h0M87.6 21.2h0M90.3 21.7h0M93 22.1h0M95.7 22.6h0M98.4 23.1h0M101.1 23.6h0M103.8 24.1h0M106.5 24.5h0M109.2 25h0M111.9 25.5h0M114.6 26h0M117.3 26.4h0M120 26.9h0M122.7 27.4h0M125.4 27.9h0M128.1 28.3h0M130.8 28.8h0M133.5 29.3h0M136.2 29.8h0M29.2 13.3h0M31.9 13.8h0M34.6 14.3h0M37.3 14.7h0M40 15.2h0M42.7 15.7h0M45.4 16.2h0M48.1 16.6h0M50.8 17.1h0M53.5 17.6h0M56.2 18.1h0M58.9 18.5h0M61.6 19h0M64.3 19.5h0M67 20h0M69.7 20.4h0M72.4 20.9h0M75.1 21.4h0M77.8 21.9h0M80.5 22.3h0M83.2 22.8h0M85.9 23.3h0M88.6 23.8h0M91.3 24.2h0M94 24.7h0M96.7 25.2h0M99.4 25.7h0M102.1 26.2h0M104.8 26.6h0M107.5 27.1h0M110.2 27.6h0M112.8 28.1h0M115.5 28.5h0M118.2 29h0M120.9 29.5h0M123.6 30h0M126.3 30.4h0M129 30.9h0M131.7 31.4h0M134.4 31.9h0M137.1 32.3h0M30.1 15.9h0M32.8 16.4h0M35.5 16.8h0M38.2 17.3h0M40.9 17.8h0M43.6 18.3h0M46.3 18.7h0M49 19.2h0M51.7 19.7h0M54.4 20.2h0M57.1 20.6h0M59.8 21.1h0M62.5 21.6h0M65.2 22.1h0M67.9 22.5h0M70.6 23h0M73.3 23.5h0M76 24h0M78.7 24.4h0M81.4 24.9h0M84.1 25.4h0M86.8 25.9h0M89.5 26.3h0M92.2 26.8h0M94.9 27.3h0M97.6 27.8h0M100.3 28.3h0M103 28.7h0M105.7 29.2h0M108.4 29.7h0M111.1 30.2h0M113.8 30.6h0M116.5 31.1h0M119.2 31.6h0M121.9 32.1h0M124.6 32.5h0M127.3 33h0M130 33.5h0M132.7 34h0M135.4 34.4h0M31.1 18.5h0M33.8 18.9h0M36.5 19.4h0M39.2 19.9h0M41.9 20.4h0M44.6 20.8h0M47.3 21.3h0M50 21.8h0M52.7 22.3h0M55.4 22.7h0M58.1 23.2h0M60.8 23.7h0M63.5 24.2h0M66.2 24.6h0M68.9 25.1h0M71.5 25.6h0M74.2 26.1h0M76.9 26.5h0M79.6 27h0M82.3 27.5h0M85 28h0M87.7 28.4h0M90.4 28.9h0M93.1 29.4h0M95.8 29.9h0M98.5 30.3h0M101.2 30.8h0M103.9 31.3h0M106.6 31.8h0M109.3 32.3h0M112 32.7h0M114.7 33.2h0M117.4 33.7h0M120.1 34.2h0M122.8 34.6h0M125.5 35.1h0M128.2 35.6h0M130.9 36.1h0M133.6 36.5h0M136.3 37h0M32 21h0M34.7 21.5h0M37.4 22h0M40.1 22.5h0M42.8 22.9h0M45.5 23.4h0M48.2 23.9h0M50.9 24.4h0M53.6 24.8h0M56.3 25.3h0M59 25.8h0M61.7 26.3h0M64.4 26.7h0M67.1 27.2h0M69.8 27.7h0M72.5 28.2h0M75.2 28.6h0M77.9 29.1h0M80.6 29.6h0M83.3 30.1h0M86 30.5h0M88.7 31h0M91.4 31.5h0M94.1 32h0M96.8 32.4h0M99.5 32.9h0M102.2 33.4h0M104.9 33.9h0M107.6 34.4h0M110.3 34.8h0M113 35.3h0M115.7 35.8h0M118.4 36.3h0M121.1 36.7h0M123.8 37.2h0M126.5 37.7h0M129.2 38.2h0M131.9 38.6h0M134.5 39.1h0M137.2 39.6h0M30.3 23.1h0M32.9 23.6h0M35.6 24.1h0M38.3 24.6h0M41 25h0M43.7 25.5h0M46.4 26h0M49.1 26.5h0M51.8 26.9h0M54.5 27.4h0M57.2 27.9h0M59.9 28.4h0M62.6 28.8h0M65.3 29.3h0M68 29.8h0M70.7 30.3h0M73.4 30.7h0M76.1 31.2h0M78.8 31.7h0M81.5 32.2h0M84.2 32.6h0M86.9 33.1h0M89.6 33.6h0M92.3 34.1h0M95 34.5h0M97.7 35h0M100.4 35.5h0M103.1 36h0M105.8 36.5h0M108.5 36.9h0M111.2 37.4h0M113.9 37.9h0M116.6 38.4h0M119.3 38.8h0M122 39.3h0M124.7 39.8h0M127.4 40.3h0M130.1 40.7h0M132.8 41.2h0M135.5 41.7h0M31.2 25.7h0M33.9 26.2h0M36.6 26.7h0M39.3 27.1h0M42 27.6h0M44.7 28.1h0M47.4 28.6h0M50.1 29h0M52.8 29.5h0M55.5 30h0M58.2 30.5h0M60.9 30.9h0M63.6 31.4h0M66.3 31.9h0M69 32.4h0M71.7 32.8h0M74.4 33.3h0M77.1 33.8h0M79.8 34.3h0M82.5 34.7h0M85.2 35.2h0M87.9 35.7h0M90.6 36.2h0M93.2 36.6h0M95.9 37.1h0M98.6 37.6h0M101.3 38.1h0M104 38.5h0M106.7 39h0M109.4 39.5h0M112.1 40h0M114.8 40.5h0M117.5 40.9h0M120.2 41.4h0M122.9 41.9h0M125.6 42.4h0M128.3 42.8h0M131 43.3h0M133.7 43.8h0M136.4 44.3h0M32.1 28.3h0M34.8 28.8h0M37.5 29.2h0M40.2 29.7h0M42.9 30.2h0M45.6 30.7h0M48.3 31.1h0M51 31.6h0M53.7 32.1h0M56.4 32.6h0M59.1 33h0M61.8 33.5h0M64.5 34h0M67.2 34.5h0M69.9 34.9h0M72.6 35.4h0M75.3 35.9h0M78 36.4h0M80.7 36.8h0M83.4 37.3h0M86.1 37.8h0M88.8 38.3h0M91.5 38.7h0M94.2 39.2h0M96.9 39.7h0M99.6 40.2h0M102.3 40.6h0M105 41.1h0M107.7 41.6h0M110.4 42.1h0M113.1 42.6h0M115.8 43h0M118.5 43.5h0M121.2 44h0M123.9 44.5h0M126.6 44.9h0M129.3 45.4h0M132 45.9h0M134.7 46.4h0M33.1 30.9h0M35.8 31.3h0M38.5 31.8h0M41.2 32.3h0M43.9 32.8h0M46.6 33.2h0M49.3 33.7h0M52 34.2h0M54.6 34.7h0M57.3 35.1h0M60 35.6h0M62.7 36.1h0M65.4 36.6h0M68.1 37h0M70.8 37.5h0M73.5 38h0M76.2 38.5h0M78.9 38.9h0M81.6 39.4h0M84.3 39.9h0M87 40.4h0M89.7 40.8h0M92.4 41.3h0M95.1 41.8h0M97.8 42.3h0M100.5 42.7h0M103.2 43.2h0M105.9 43.7h0M108.6 44.2h0M111.3 44.7h0M114 45.1h0M116.7 45.6h0M119.4 46.1h0M122.1 46.6h0M124.8 47h0M127.5 47.5h0M130.2 48h0M132.9 48.5h0M135.6 48.9h0M34 33.4h0M36.7 33.9h0M39.4 34.4h0M42.1 34.9h0M44.8 35.3h0M47.5 35.8h0M50.2 36.3h0M52.9 36.8h0M55.6 37.2h0M58.3 37.7h0M61 38.2h0M63.7 38.7h0M66.4 39.1h0M69.1 39.6h0M71.8 40.1h0M74.5 40.6h0M77.2 41h0M79.9 41.5h0M82.6 42h0M85.3 42.5h0M88 42.9h0M90.7 43.4h0M93.4 43.9h0M96.1 44.4h0M98.8 44.8h0M101.5 45.3h0M114.9 47.7h0M117.6 48.2h0M120.3 48.7h0M123 49.1h0M125.7 49.6h0M128.4 50.1h0M131.1 50.6h0M133.8 51h0M32.2 35.5h0M34.9 36h0M37.6 36.5h0M40.3 37h0M43 37.4h0M45.7 37.9h0M48.4 38.4h0M51.1 38.9h0M53.8 39.3h0M56.5 39.8h0M59.2 40.3h0M61.9 40.8h0M64.6 41.2h0M67.3 41.7h0M70 42.2h0M72.7 42.7h0M75.4 43.1h0M78.1 43.6h0M80.8 44.1h0M83.5 44.6h0M86.2 45h0M88.9 45.5h0M91.6 46h0M94.3 46.5h0M97 46.9h0M118.6 50.8h0M121.3 51.2h0M124 51.7h0M126.7 52.2h0M129.4 52.7h0M132.1 53.1h0M134.8 53.6h0M33.2 38.1h0M35.9 38.6h0M38.6 39.1h0M41.3 39.5h0M44 40h0M46.7 40.5h0M49.4 41h0M52.1 41.4h0M54.8 41.9h0M57.5 42.4h0M60.2 42.9h0M62.9 43.3h0M65.6 43.8h0M68.3 44.3h0M71 44.8h0M73.7 45.2h0M76.3 45.7h0M79 46.2h0M81.7 46.7h0M84.4 47.1h0M87.1 47.6h0M89.8 48.1h0M92.5 48.6h0M95.2 49h0M119.5 53.3h0M122.2 53.8h0M124.9 54.3h0M127.6 54.8h0M130.3 55.2h0M133 55.7h0M34.1 40.7h0M36.8 41.2h0M39.5 41.6h0M42.2 42.1h0M44.9 42.6h0M47.6 43.1h0M50.3 43.5h0M53 44h0M55.7 44.5h0M58.4 45h0M61.1 45.4h0M63.8 45.9h0M66.5 46.4h0M69.2 46.9h0M71.9 47.3h0M74.6 47.8h0M77.3 48.3h0M80 48.8h0M82.7 49.2h0M85.4 49.7h0M88.1 50.2h0M90.8 50.7h0M93.5 51.1h0M123.2 56.4h0M125.9 56.9h0M128.6 57.3h0M131.3 57.8h0M134 58.3h0M35 43.3h0M37.7 43.7h0M40.4 44.2h0M43.1 44.7h0M45.8 45.2h0M48.5 45.6h0M51.2 46.1h0M53.9 46.6h0M56.6 47.1h0M59.3 47.5h0M62 48h0M64.7 48.5h0M67.4 49h0M70.1 49.4h0M72.8 49.9h0M75.5 50.4h0M78.2 50.9h0M80.9 51.3h0M83.6 51.8h0M86.3 52.3h0M89 52.8h0M91.7 53.2h0M124.1 59h0M126.8 59.4h0M129.5 59.9h0M132.2 60.4h0M33.3 45.3h0M36 45.8h0M38.7 46.3h0M41.4 46.8h0M44.1 47.3h0M46.8 47.7h0M49.5 48.2h0M52.2 48.7h0M54.9 49.2h0M57.6 49.6h0M60.3 50.1h0M63 50.6h0M65.7 51.1h0M68.4 51.5h0M71.1 52h0M73.8 52.5h0M76.5 53h0M79.2 53.4h0M81.9 53.9h0M84.6 54.4h0M87.3 54.9h0M90 55.3h0M122.3 61.1h0M125 61.5h0M127.7 62h0M130.4 62.5h0M133.1 63h0M34.2 47.9h0M36.9 48.4h0M39.6 48.9h0M42.3 49.4h0M45 49.8h0M47.7 50.3h0M50.4 50.8h0M53.1 51.3h0M55.8 51.7h0M58.5 52.2h0M61.2 52.7h0M63.9 53.2h0M66.6 53.6h0M69.3 54.1h0M72 54.6h0M74.7 55.1h0M77.4 55.5h0M80.1 56h0M82.8 56.5h0M85.5 57h0M88.2 57.4h0M123.3 63.6h0M126 64.1h0M128.7 64.6h0M131.4 65.1h0M35.2 50.5h0M37.9 51h0M40.6 51.5h0M43.3 51.9h0M46 52.4h0M48.7 52.9h0M51.4 53.4h0M54.1 53.8h0M56.7 54.3h0M59.4 54.8h0M62.1 55.3h0M64.8 55.7h0M67.5 56.2h0M70.2 56.7h0M72.9 57.2h0M75.6 57.6h0M78.3 58.1h0M81 58.6h0M83.7 59.1h0M86.4 59.5h0M89.1 60h0M124.2 66.2h0M126.9 66.7h0M129.6 67.2h0M132.3 67.6h0M36.1 53.1h0M38.8 53.5h0M41.5 54h0M44.2 54.5h0M46.9 55h0M49.6 55.5h0M52.3 55.9h0M55 56.4h0M57.7 56.9h0M60.4 57.4h0M63.1 57.8h0M65.8 58.3h0M68.5 58.8h0M71.2 59.3h0M73.9 59.7h0M76.6 60.2h0M79.3 60.7h0M82 61.2h0M84.7 61.6h0M87.4 62.1h0M125.1 68.8h0M127.8 69.3h0M130.5 69.7h0M133.2 70.2h0M34.3 55.2h0M37 55.6h0M39.7 56.1h0M42.4 56.6h0M45.1 57.1h0M47.8 57.6h0M50.5 58h0M53.2 58.5h0M55.9 59h0M58.6 59.5h0M61.3 59.9h0M64 60.4h0M66.7 60.9h0M69.4 61.4h0M72.1 61.8h0M74.8 62.3h0M77.5 62.8h0M80.2 63.3h0M82.9 63.7h0M85.6 64.2h0M88.3 64.7h0M123.4 70.9h0M126.1 71.4h0M128.8 71.8h0M131.5 72.3h0M35.3 57.7h0M38 58.2h0M40.7 58.7h0M43.4 59.2h0M46.1 59.7h0M48.8 60.1h0M51.5 60.6h0M54.2 61.1h0M56.9 61.6h0M59.6 62h0M62.3 62.5h0M65 63h0M67.7 63.5h0M70.4 63.9h0M73.1 64.4h0M75.8 64.9h0M78.4 65.4h0M81.1 65.8h0M83.8 66.3h0M86.5 66.8h0M124.3 73.4h0M127 73.9h0M129.7 74.4h0M132.4 74.9h0M36.2 60.3h0M38.9 60.8h0M41.6 61.3h0M44.3 61.7h0M47 62.2h0M49.7 62.7h0M52.4 63.2h0M55.1 63.7h0M57.8 64.1h0M60.5 64.6h0M63.2 65.1h0M65.9 65.6h0M68.6 66h0M71.3 66.5h0M74 67h0M76.7 67.5h0M79.4 67.9h0M82.1 68.4h0M84.8 68.9h0M87.5 69.4h0M122.6 75.5h0M125.3 76h0M128 76.5h0M130.7 77h0M37.1 62.9h0M39.8 63.4h0M42.5 63.8h0M45.2 64.3h0M47.9 64.8h0M50.6 65.3h0M53.3 65.8h0M56 66.2h0M58.7 66.7h0M61.4 67.2h0M64.1 67.7h0M66.8 68.1h0M69.5 68.6h0M72.2 69.1h0M74.9 69.6h0M77.6 70h0M80.3 70.5h0M83 71h0M85.7 71.5h0M88.4 71.9h0M123.5 78.1h0M126.2 78.6h0M128.9 79.1h0M131.6 79.6h0M35.4 65h0M38.1 65.5h0M40.8 65.9h0M43.5 66.4h0M46.2 66.9h0M48.9 67.4h0M51.6 67.9h0M54.3 68.3h0M57 68.8h0M59.7 69.3h0M62.4 69.8h0M65.1 70.2h0M67.8 70.7h0M70.5 71.2h0M73.2 71.7h0M75.9 72.1h0M78.6 72.6h0M81.3 73.1h0M84 73.6h0M86.7 74h0M89.4 74.5h0M121.7 80.2h0M124.4 80.7h0M127.1 81.2h0M129.8 81.6h0M36.3 67.6h0M39 68h0M41.7 68.5h0M44.4 69h0M47.1 69.5h0M49.8 70h0M52.5 70.4h0M55.2 70.9h0M57.9 71.4h0M60.6 71.9h0M63.3 72.3h0M66 72.8h0M68.7 73.3h0M71.4 73.8h0M74.1 74.2h0M76.8 74.7h0M79.5 75.2h0M82.2 75.7h0M84.9 76.1h0M87.6 76.6h0M90.3 77.1h0M120 82.3h0M122.7 82.8h0M125.4 83.3h0M128.1 83.7h0M130.8 84.2h0M37.3 70.1h0M40 70.6h0M42.7 71.1h0M45.4 71.6h0M48.1 72h0M50.8 72.5h0M53.5 73h0M56.2 73.5h0M58.8 74h0M61.5 74.4h0M64.2 74.9h0M66.9 75.4h0M69.6 75.9h0M72.3 76.3h0M75 76.8h0M77.7 77.3h0M80.4 77.8h0M83.1 78.2h0M85.8 78.7h0M88.5 79.2h0M91.2 79.7h0M118.2 84.4h0M120.9 84.9h0M123.6 85.4h0M126.3 85.8h0M129 86.3h0M38.2 72.7h0M40.9 73.2h0M43.6 73.7h0M46.3 74.1h0M49 74.6h0M51.7 75.1h0M54.4 75.6h0M57.1 76.1h0M59.8 76.5h0M62.5 77h0M65.2 77.5h0M67.9 78h0M70.6 78.4h0M73.3 78.9h0M76 79.4h0M78.7 79.9h0M81.4 80.3h0M84.1 80.8h0M86.8 81.3h0M89.5 81.8h0M92.2 82.2h0M116.5 86.5h0M119.2 87h0M121.8 87.5h0M124.5 87.9h0M127.2 88.4h0M129.9 88.9h0M39.1 75.3h0M41.8 75.8h0M44.5 76.2h0M47.2 76.7h0M49.9 77.2h0M52.6 77.7h0M55.3 78.2h0M58 78.6h0M60.7 79.1h0M63.4 79.6h0M66.1 80.1h0M68.8 80.5h0M71.5 81h0M74.2 81.5h0M76.9 82h0M79.6 82.4h0M82.3 82.9h0M85 83.4h0M87.7 83.9h0M90.4 84.3h0M93.1 84.8h0M114.7 88.6h0M117.4 89.1h0M120.1 89.6h0M122.8 90h0M125.5 90.5h0M128.2 91h0M37.4 77.4h0M40.1 77.9h0M42.8 78.3h0M45.5 78.8h0M48.2 79.3h0M50.9 79.8h0M53.6 80.2h0M56.3 80.7h0M59 81.2h0M61.7 81.7h0M64.4 82.2h0M67.1 82.6h0M69.8 83.1h0M72.5 83.6h0M75.2 84.1h0M77.9 84.5h0M80.5 85h0M83.2 85.5h0M85.9 86h0M88.6 86.4h0M91.3 86.9h0M94 87.4h0M96.7 87.9h0M110.2 90.2h0M112.9 90.7h0M115.6 91.2h0M118.3 91.7h0M121 92.1h0M123.7 92.6h0M126.4 93.1h0M129.1 93.6h0M38.3 80h0M41 80.4h0M43.7 80.9h0M46.4 81.4h0M49.1 81.9h0M51.8 82.3h0M54.5 82.8h0M57.2 83.3h0M59.9 83.8h0M62.6 84.3h0M65.3 84.7h0M68 85.2h0M70.7 85.7h0M73.4 86.2h0M76.1 86.6h0M78.8 87.1h0M81.5 87.6h0M84.2 88.1h0M86.9 88.5h0M89.6 89h0M92.3 89.5h0M95 90h0M97.7 90.4h0M100.4 90.9h0M103.1 91.4h0M105.8 91.9h0M108.5 92.3h0M111.2 92.8h0M113.9 93.3h0M116.6 93.8h0M119.3 94.2h0M122 94.7h0M124.7 95.2h0M127.4 95.7h0M130.1 96.1h0M39.2 82.5h0M41.9 83h0M44.6 83.5h0M47.3 84h0M50 84.4h0M52.7 84.9h0M55.4 85.4h0M58.1 85.9h0M60.8 86.4h0M63.5 86.8h0M66.2 87.3h0M68.9 87.8h0M71.6 88.3h0M74.3 88.7h0M77 89.2h0M79.7 89.7h0M82.4 90.2h0M85.1 90.6h0M87.8 91.1h0M90.5 91.6h0M93.2 92.1h0M95.9 92.5h0M98.6 93h0M101.3 93.5h0M104 94h0M106.7 94.4h0M109.4 94.9h0M112.1 95.4h0M114.8 95.9h0M117.5 96.3h0M120.2 96.8h0M122.9 97.3h0M125.6 97.8h0M128.3 98.2h0M40.2 85.1h0M42.9 85.6h0M45.6 86.1h0M48.3 86.5h0M51 87h0M53.7 87.5h0M56.4 88h0M59.1 88.4h0M61.8 88.9h0M64.5 89.4h0M67.2 89.9h0M69.9 90.4h0M72.6 90.8h0M75.3 91.3h0M78 91.8h0M80.7 92.3h0M83.4 92.7h0M86.1 93.2h0M88.8 93.7h0M91.5 94.2h0M94.2 94.6h0M96.9 95.1h0M99.6 95.6h0M102.2 96.1h0M104.9 96.5h0M107.6 97h0M110.3 97.5h0M113 98h0M115.7 98.4h0M118.4 98.9h0M121.1 99.4h0M123.8 99.9h0M126.5 100.3h0M129.2 100.8h0M38.4 87.2h0M41.1 87.7h0M43.8 88.2h0M46.5 88.6h0M49.2 89.1h0M51.9 89.6h0M54.6 90.1h0M57.3 90.5h0M60 91h0M62.7 91.5h0M65.4 92h0M68.1 92.5h0M70.8 92.9h0M73.5 93.4h0M76.2 93.9h0M78.9 94.4h0M81.6 94.8h0M84.3 95.3h0M87 95.8h0M89.7 96.3h0M92.4 96.7h0M95.1 97.2h0M97.8 97.7h0M100.5 98.2h0M103.2 98.6h0M105.9 99.1h0M108.6 99.6h0M111.3 100.1h0M114 100.5h0M116.7 101h0M119.4 101.5h0M122.1 102h0M124.8 102.4h0M127.5 102.9h0M39.4 89.8h0M42.1 90.3h0M44.8 90.7h0M47.5 91.2h0M50.2 91.7h0M52.9 92.2h0M55.6 92.6h0M58.3 93.1h0M60.9 93.6h0M63.6 94.1h0M66.3 94.6h0M69 95h0M71.7 95.5h0M74.4 96h0M77.1 96.5h0M79.8 96.9h0M82.5 97.4h0M85.2 97.9h0M87.9 98.4h0M90.6 98.8h0M93.3 99.3h0M96 99.8h0M98.7 100.3h0M101.4 100.7h0M104.1 101.2h0M106.8 101.7h0M109.5 102.2h0M112.2 102.6h0M114.9 103.1h0M117.6 103.6h0M120.3 104.1h0M123 104.5h0M125.7 105h0M128.4 105.5h0M40.3 92.4h0M43 92.8h0M45.7 93.3h0M48.4 93.8h0M51.1 94.3h0M53.8 94.7h0M56.5 95.2h0M59.2 95.7h0M61.9 96.2h0M64.6 96.6h0M67.3 97.1h0M70 97.6h0M72.7 98.1h0M75.4 98.6h0M78.1 99h0M80.8 99.5h0M83.5 100h0M86.2 100.5h0M88.9 100.9h0M91.6 101.4h0M94.3 101.9h0M97 102.4h0M99.7 102.8h0M102.4 103.3h0M105.1 103.8h0M107.8 104.3h0M110.5 104.7h0M113.2 105.2h0M115.9 105.7h0M118.6 106.2h0M121.3 106.6h0M123.9 107.1h0M126.6 107.6h0M41.2 94.9h0M43.9 95.4h0M46.6 95.9h0M49.3 96.4h0M52 96.8h0M54.7 97.3h0M57.4 97.8h0M60.1 98.3h0M62.8 98.7h0M65.5 99.2h0M68.2 99.7h0M70.9 100.2h0M73.6 100.7h0M76.3 101.1h0M79 101.6h0M81.7 102.1h0M84.4 102.6h0M87.1 103h0M89.8 103.5h0M92.5 104h0M95.2 104.5h0M97.9 104.9h0M100.6 105.4h0M103.3 105.9h0M106 106.4h0M108.7 106.8h0M111.4 107.3h0M114.1 107.8h0M116.8 108.3h0M119.5 108.7h0M122.2 109.2h0M124.9 109.7h0M127.6 110.2h0M39.5 97h0M42.2 97.5h0M44.9 98h0M47.6 98.5h0M50.3 98.9h0M53 99.4h0M55.7 99.9h0M58.4 100.4h0M61.1 100.8h0M63.8 101.3h0M66.5 101.8h0M69.2 102.3h0M71.9 102.8h0M74.6 103.2h0M77.3 103.7h0M80 104.2h0M82.6 104.7h0M85.3 105.1h0M88 105.6h0M90.7 106.1h0M93.4 106.6h0M96.1 107h0M98.8 107.5h0M101.5 108h0M104.2 108.5h0M106.9 108.9h0M109.6 109.4h0M112.3 109.9h0M115 110.4h0M117.7 110.8h0M120.4 111.3h0M123.1 111.8h0M125.8 112.3h0M40.4 99.6h0M43.1 100.1h0M45.8 100.6h0M48.5 101h0M51.2 101.5h0M53.9 102h0M56.6 102.5h0M59.3 102.9h0M62 103.4h0M64.7 103.9h0M67.4 104.4h0M70.1 104.8h0M72.8 105.3h0M75.5 105.8h0M78.2 106.3h0M80.9 106.8h0M83.6 107.2h0M86.3 107.7h0M89 108.2h0M91.7 108.7h0M94.4 109.1h0M97.1 109.6h0M99.8 110.1h0M102.5 110.6h0M105.2 111h0M107.9 111.5h0M110.6 112h0M113.3 112.5h0M116 112.9h0M118.7 113.4h0M121.4 113.9h0M124.1 114.4h0M126.8 114.8h0M41.3 102.2h0M44 102.7h0M46.7 103.1h0M49.4 103.6h0M52.1 104.1h0M54.8 104.6h0M57.5 105h0M60.2 105.5h0M62.9 106h0M65.6 106.5h0M68.3 106.9h0M71 107.4h0M73.7 107.9h0M76.4 108.4h0M79.1 108.9h0M81.8 109.3h0M84.5 109.8h0M87.2 110.3h0M89.9 110.8h0M92.6 111.2h0M95.3 111.7h0M98 112.2h0M100.7 112.7h0M103.4 113.1h0M106.1 113.6h0M108.8 114.1h0M111.5 114.6h0M114.2 115h0M116.9 115.5h0M119.6 116h0M122.3 116.5h0M125 116.9h0M42.3 104.8h0M45 105.2h0M47.7 105.7h0M50.4 106.2h0M53.1 106.7h0M55.8 107.1h0M58.5 107.6h0M61.2 108.1h0M63.9 108.6h0M66.6 109h0M69.3 109.5h0M72 110h0M74.7 110.5h0M77.4 111h0M80.1 111.4h0M82.8 111.9h0M85.5 112.4h0M88.2 112.9h0M90.9 113.3h0M93.6 113.8h0M96.3 114.3h0M99 114.8h0M101.7 115.2h0M104.3 115.7h0M107 116.2h0M109.7 116.7h0M112.4 117.1h0M115.1 117.6h0M117.8 118.1h0M120.5 118.6h0M123.2 119h0M125.9 119.5h0M43.2 107.3h0M45.9 107.8h0M48.6 108.3h0M51.3 108.8h0M54 109.2h0M56.7 109.7h0M59.4 110.2h0M62.1 110.7h0M64.8 111.1h0M67.5 111.6h0M70.2 112.1h0M72.9 112.6h0M75.6 113h0M78.3 113.5h0M81 114h0M83.7 114.5h0M86.4 115h0M89.1 115.4h0M91.8 115.9h0M94.5 116.4h0M97.2 116.9h0M99.9 117.3h0M102.6 117.8h0M105.3 118.3h0M108 118.8h0M110.7 119.2h0M113.4 119.7h0M116.1 120.2h0M118.8 120.7h0M121.5 121.1h0M124.2 121.6h0M126.9 122.1h0M41.5 109.4h0M44.2 109.9h0M46.9 110.4h0M49.6 110.9h0M52.3 111.3h0M55 111.8h0M57.7 112.3h0M60.4 112.8h0M63 113.2h0M65.7 113.7h0M68.4 114.2h0M71.1 114.7h0M73.8 115.1h0M76.5 115.6h0M79.2 116.1h0M81.9 116.6h0M84.6 117.1h0M87.3 117.5h0M90 118h0M92.7 118.5h0M95.4 119h0M98.1 119.4h0M100.8 119.9h0M103.5 120.4h0M106.2 120.9h0M108.9 121.3h0M111.6 121.8h0M114.3 122.3h0M117 122.8h0M119.7 123.2h0M122.4 123.7h0M125.1 124.2h0M42.4 112h0M45.1 112.5h0M47.8 113h0M50.5 113.4h0M53.2 113.9h0M55.9 114.4h0M58.6 114.9h0M61.3 115.3h0M64 115.8h0M66.7 116.3h0M69.4 116.8h0M72.1 117.2h0M74.8 117.7h0M77.5 118.2h0M80.2 118.7h0M82.9 119.2h0M85.6 119.6h0M88.3 120.1h0M91 120.6h0M93.7 121.1h0M96.4 121.5h0M99.1 122h0M101.8 122.5h0M104.5 123h0M107.2 123.4h0M109.9 123.9h0M112.6 124.4h0M115.3 124.9h0M118 125.3h0M120.7 125.8h0M123.4 126.3h0M126 126.8h0M43.3 114.6h0M46 115.1h0M48.7 115.5h0M51.4 116h0M54.1 116.5h0M56.8 117h0M59.5 117.4h0M62.2 117.9h0M64.9 118.4h0M67.6 118.9h0M70.3 119.3h0M73 119.8h0M75.7 120.3h0M78.4 120.8h0M81.1 121.2h0M83.8 121.7h0M86.5 122.2h0M89.2 122.7h0M91.9 123.2h0M94.6 123.6h0M97.3 124.1h0M100 124.6h0M102.7 125.1h0M105.4 125.5h0M108.1 126h0M110.8 126.5h0M113.5 127h0M116.2 127.4h0M118.9 127.9h0M121.6 128.4h0M124.3 128.9h0M44.3 117.2h0M47 117.6h0M49.7 118.1h0M52.4 118.6h0M55.1 119.1h0M57.8 119.5h0M60.5 120h0M63.2 120.5h0M65.9 121h0M68.6 121.4h0M71.3 121.9h0M74 122.4h0M76.7 122.9h0M79.4 123.3h0M82.1 123.8h0M84.8 124.3h0M87.4 124.8h0M90.1 125.3h0M92.8 125.7h0M95.5 126.2h0M98.2 126.7h0M100.9 127.2h0M103.6 127.6h0M106.3 128.1h0M109 128.6h0M111.7 129.1h0M114.4 129.5h0M117.1 130h0M119.8 130.5h0M122.5 131h0M125.2 131.4h0M42.5 119.3h0M45.2 119.7h0M47.9 120.2h0M50.6 120.7h0M53.3 121.2h0M56 121.6h0M58.7 122.1h0M61.4 122.6h0M64.1 123.1h0M66.8 123.5h0M69.5 124h0M72.2 124.5h0M74.9 125h0M77.6 125.4h0M80.3 125.9h0M83 126.4h0M85.7 126.9h0M88.4 127.4h0M91.1 127.8h0M93.8 128.3h0M96.5 128.8h0M99.2 129.3h0M101.9 129.7h0M104.6 130.2h0M107.3 130.7h0M110 131.2h0M112.7 131.6h0M115.4 132.1h0M118.1 132.6h0M120.8 133.1h0M123.5 133.5h0M43.5 121.8h0M46.1 122.3h0M48.8 122.8h0M51.5 123.3h0M54.2 123.7h0M56.9 124.2h0M59.6 124.7h0M62.3 125.2h0M65 125.6h0M67.7 126.1h0M70.4 126.6h0M73.1 127.1h0M75.8 127.5h0M78.5 128h0M81.2 128.5h0M83.9 129h0M86.6 129.4h0M89.3 129.9h0M92 130.4h0M94.7 130.9h0M97.4 131.4h0M100.1 131.8h0M102.8 132.3h0M105.5 132.8h0M108.2 133.3h0M110.9 133.7h0M113.6 134.2h0M116.3 134.7h0M119 135.2h0M121.7 135.6h0M124.4 136.1h0M44.4 124.4h0M47.1 124.9h0M49.8 125.4h0M52.5 125.8h0M55.2 126.3h0M57.9 126.8h0M60.6 127.3h0M63.3 127.7h0M66 128.2h0M68.7 128.7h0M71.4 129.2h0M74.1 129.6h0M76.8 130.1h0M79.5 130.6h0M82.2 131.1h0M84.9 131.5h0M87.6 132h0M90.3 132.5h0M93 133h0M95.7 133.5h0M98.4 133.9h0M101.1 134.4h0M103.8 134.9h0M106.5 135.4h0M109.1 135.8h0M111.8 136.3h0M114.5 136.8h0M117.2 137.3h0M119.9 137.7h0M122.6 138.2h0M45.3 127h0M48 127.5h0M50.7 127.9h0M53.4 128.4h0M56.1 128.9h0M58.8 129.4h0M61.5 129.8h0M64.2 130.3h0M66.9 130.8h0M69.6 131.3h0M72.3 131.7h0M75 132.2h0M77.7 132.7h0M80.4 133.2h0M83.1 133.6h0M85.8 134.1h0M88.5 134.6h0M91.2 135.1h0M93.9 135.6h0M96.6 136h0M99.3 136.5h0M102 137h0M104.7 137.5h0M107.4 137.9h0M110.1 138.4h0M112.8 138.9h0M115.5 139.4h0M118.2 139.8h0M120.9 140.3h0M123.6 140.8h0M43.6 129.1h0M46.3 129.6h0M49 130h0M51.7 130.5h0M54.4 131h0M57.1 131.5h0M59.8 131.9h0M62.5 132.4h0M65.2 132.9h0M67.8 133.4h0M70.5 133.8h0M73.2 134.3h0M75.9 134.8h0M78.6 135.3h0M81.3 135.7h0M84 136.2h0M86.7 136.7h0M89.4 137.2h0M92.1 137.6h0M94.8 138.1h0M97.5 138.6h0M100.2 139.1h0M102.9 139.6h0M105.6 140h0M108.3 140.5h0M111 141h0M113.7 141.5h0M116.4 141.9h0M119.1 142.4h0M121.8 142.9h0M44.5 131.7h0M47.2 132.1h0M49.9 132.6h0M52.6 133.1h0M55.3 133.6h0M58 134h0M60.7 134.5h0M63.4 135h0M66.1 135.5h0M68.8 135.9h0M71.5 136.4h0M74.2 136.9h0M76.9 137.4h0M79.6 137.8h0M82.3 138.3h0M85 138.8h0M87.7 139.3h0M90.4 139.7h0M93.1 140.2h0M95.8 140.7h0M98.5 141.2h0M101.2 141.7h0M103.9 142.1h0M106.6 142.6h0M109.3 143.1h0M112 143.6h0M114.7 144h0M117.4 144.5h0M120.1 145h0M122.8 145.5h0M45.4 134.2h0M48.1 134.7h0M50.8 135.2h0M53.5 135.7h0M56.2 136.1h0M58.9 136.6h0M61.6 137.1h0M64.3 137.6h0M67 138h0M69.7 138.5h0M72.4 139h0M75.1 139.5h0M77.8 139.9h0M80.5 140.4h0M83.2 140.9h0M85.9 141.4h0M88.6 141.8h0M91.3 142.3h0M94 142.8h0M96.7 143.3h0M99.4 143.8h0M102.1 144.2h0M104.8 144.7h0M107.5 145.2h0M110.2 145.7h0M112.9 146.1h0M115.6 146.6h0M118.3 147.1h0M121 147.6h0M123.7 148h0M46.4 136.8h0M49.1 137.3h0M51.8 137.8h0M54.5 138.2h0M57.2 138.7h0M59.9 139.2h0M62.6 139.7h0M65.3 140.1h0M68 140.6h0M70.7 141.1h0M73.4 141.6h0M76.1 142h0M78.8 142.5h0M81.5 143h0M84.2 143.5h0M86.9 143.9h0M89.5 144.4h0M92.2 144.9h0M94.9 145.4h0M97.6 145.8h0M100.3 146.3h0M103 146.8h0M105.7 147.3h0M108.4 147.8h0M111.1 148.2h0M113.8 148.7h0M116.5 149.2h0M119.2 149.7h0M121.9 150.1h0M44.6 138.9h0M47.3 139.4h0M50 139.9h0M52.7 140.3h0M55.4 140.8h0M58.1 141.3h0M60.8 141.8h0M63.5 142.2h0M66.2 142.7h0M68.9 143.2h0M71.6 143.7h0M74.3 144.1h0M77 144.6h0M79.7 145.1h0M82.4 145.6h0M85.1 146h0M87.8 146.5h0M90.5 147h0M93.2 147.5h0M95.9 147.9h0M98.6 148.4h0M101.3 148.9h0M104 149.4h0M106.7 149.9h0M109.4 150.3h0M112.1 150.8h0M114.8 151.3h0M117.5 151.8h0M120.2 152.2h0M122.9 152.7h0M45.6 141.5h0M48.2 142h0M50.9 142.4h0M53.6 142.9h0M56.3 143.4h0M59 143.9h0M61.7 144.3h0M64.4 144.8h0M67.1 145.3h0M69.8 145.8h0M72.5 146.2h0M75.2 146.7h0M77.9 147.2h0M80.6 147.7h0M83.3 148.1h0M86 148.6h0M88.7 149.1h0M91.4 149.6h0M94.1 150h0M96.8 150.5h0M99.5 151h0M102.2 151.5h0M104.9 152h0M107.6 152.4h0M110.3 152.9h0M113 153.4h0M115.7 153.9h0M118.4 154.3h0M121.1 154.8h0M46.5 144.1h0M49.2 144.5h0M51.9 145h0M54.6 145.5h0M57.3 146h0M60 146.4h0M62.7 146.9h0M65.4 147.4h0M68.1 147.9h0M70.8 148.3h0M73.5 148.8h0M76.2 149.3h0M78.9 149.8h0M81.6 150.2h0M84.3 150.7h0M87 151.2h0M89.7 151.7h0M92.4 152.1h0M95.1 152.6h0M97.8 153.1h0M100.5 153.6h0M103.2 154h0M105.9 154.5h0M108.6 155h0M111.2 155.5h0M113.9 156h0M116.6 156.4h0M119.3 156.9h0M122 157.4h0M47.4 146.6h0M50.1 147.1h0M52.8 147.6h0M55.5 148.1h0M58.2 148.5h0M60.9 149h0M63.6 149.5h0M66.3 150h0M69 150.4h0M71.7 150.9h0M74.4 151.4h0M77.1 151.9h0M79.8 152.3h0M82.5 152.8h0M85.2 153.3h0M87.9 153.8h0M90.6 154.2h0M93.3 154.7h0M96 155.2h0M98.7 155.7h0M101.4 156.1h0M104.1 156.6h0M106.8 157.1h0M109.5 157.6h0M112.2 158.1h0M114.9 158.5h0M117.6 159h0M120.3 159.5h0M48.4 149.2h0M51.1 149.7h0M53.8 150.2h0M56.5 150.6h0M59.2 151.1h0M61.9 151.6h0M64.6 152.1h0M67.3 152.5h0M69.9 153h0M72.6 153.5h0M75.3 154h0M78 154.4h0M80.7 154.9h0M83.4 155.4h0M86.1 155.9h0M88.8 156.3h0M91.5 156.8h0M94.2 157.3h0M96.9 157.8h0M99.6 158.2h0M102.3 158.7h0M105 159.2h0M107.7 159.7h0M110.4 160.2h0M113.1 160.6h0M115.8 161.1h0M118.5 161.6h0M121.2 162.1h0M46.6 151.3h0M49.3 151.8h0M52 152.3h0M54.7 152.7h0M57.4 153.2h0M60.1 153.7h0M62.8 154.2h0M65.5 154.6h0M68.2 155.1h0M70.9 155.6h0M73.6 156.1h0M76.3 156.5h0M79 157h0M81.7 157.5h0M84.4 158h0M87.1 158.4h0M89.8 158.9h0M92.5 159.4h0M95.2 159.9h0M97.9 160.3h0M100.6 160.8h0M103.3 161.3h0M106 161.8h0M108.7 162.2h0M111.4 162.7h0M114.1 163.2h0M116.8 163.7h0M119.5 164.2h0M47.5 153.9h0M50.2 154.4h0M52.9 154.8h0M55.6 155.3h0M58.3 155.8h0M61 156.3h0M77.2 159.1h0M79.9 159.6h0M82.6 160.1h0M85.3 160.5h0M88 161h0M90.7 161.5h0M93.4 162h0M96.1 162.4h0M98.8 162.9h0M101.5 163.4h0M104.2 163.9h0M106.9 164.3h0M109.6 164.8h0M112.3 165.3h0M115 165.8h0M117.7 166.3h0M120.4 166.7h0M48.5 156.5h0M51.2 156.9h0M53.9 157.4h0M56.6 157.9h0M59.3 158.4h0M78.2 161.7h0M80.9 162.2h0M83.6 162.6h0M86.3 163.1h0M89 163.6h0M91.6 164.1h0M94.3 164.5h0M97 165h0M99.7 165.5h0M102.4 166h0M105.1 166.4h0M107.8 166.9h0M110.5 167.4h0M113.2 167.9h0M115.9 168.4h0M118.6 168.8h0M49.4 159h0M52.1 159.5h0M54.8 160h0M81.8 164.7h0M84.5 165.2h0M87.2 165.7h0M89.9 166.2h0M92.6 166.6h0M95.3 167.1h0M98 167.6h0M100.7 168.1h0M103.4 168.5h0M106.1 169h0M108.8 169.5h0M111.5 170h0M114.2 170.4h0M116.9 170.9h0M119.6 171.4h0M47.7 161.1h0M50.3 161.6h0M53 162.1h0M82.7 167.3h0M85.4 167.8h0M88.1 168.3h0M90.8 168.7h0M93.5 169.2h0M96.2 169.7h0M98.9 170.2h0M101.6 170.6h0M104.3 171.1h0M107 171.6h0M109.7 172.1h0M112.4 172.5h0M115.1 173h0M117.8 173.5h0M48.6 163.7h0M51.3 164.2h0M54 164.7h0M83.7 169.9h0M86.4 170.4h0M89.1 170.8h0M91.8 171.3h0M94.5 171.8h0M97.2 172.3h0M99.9 172.7h0M102.6 173.2h0M105.3 173.7h0M108 174.2h0M110.7 174.6h0M113.3 175.1h0M116 175.6h0M118.7 176.1h0M49.5 166.3h0M52.2 166.8h0M84.6 172.5h0M87.3 172.9h0M90 173.4h0M92.7 173.9h0M95.4 174.4h0M98.1 174.8h0M100.8 175.3h0M103.5 175.8h0M106.2 176.3h0M108.9 176.7h0M111.6 177.2h0M114.3 177.7h0M117 178.2h0M119.7 178.6h0M50.5 168.9h0M85.5 175h0M88.2 175.5h0M90.9 176h0M93.6 176.5h0M96.3 176.9h0M99 177.4h0M101.7 177.9h0M104.4 178.4h0M107.1 178.8h0M109.8 179.3h0M112.5 179.8h0M115.2 180.3h0M117.9 180.7h0M48.7 171h0M86.5 177.6h0M89.2 178.1h0M91.9 178.6h0M94.6 179h0M97.3 179.5h0M100 180h0M102.7 180.5h0M105.4 180.9h0M108.1 181.4h0M110.8 181.9h0M113.5 182.4h0M116.2 182.8h0M118.9 183.3h0M49.6 173.5h0M84.7 179.7h0M87.4 180.2h0M90.1 180.7h0M92.8 181.1h0M95.5 181.6h0M98.2 182.1h0M100.9 182.6h0M103.6 183h0M106.3 183.5h0M109 184h0M111.7 184.5h0M114.4 184.9h0M117.1 185.4h0M85.7 182.3h0M88.4 182.8h0M91.1 183.2h0M93.7 183.7h0M96.4 184.2h0M99.1 184.7h0M101.8 185.1h0M104.5 185.6h0M107.2 186.1h0M109.9 186.6h0M112.6 187h0M115.3 187.5h0M118 188h0M86.6 184.9h0M89.3 185.3h0M92 185.8h0M94.7 186.3h0M97.4 186.8h0M100.1 187.2h0M102.8 187.7h0M105.5 188.2h0M108.2 188.7h0M110.9 189.1h0M113.6 189.6h0M116.3 190.1h0M84.8 187h0M87.5 187.4h0M90.2 187.9h0M92.9 188.4h0M95.6 188.9h0M98.3 189.3h0M101 189.8h0M103.7 190.3h0M106.4 190.8h0M109.1 191.2h0M111.8 191.7h0M114.5 192.2h0M117.2 192.7h0M85.8 189.5h0M88.5 190h0M91.2 190.5h0M93.9 191h0M96.6 191.4h0M99.3 191.9h0M102 192.4h0M104.7 192.9h0M107.4 193.3h0M110.1 193.8h0M112.8 194.3h0M115.4 194.8h0M84 191.6h0M86.7 192.1h0M89.4 192.6h0M92.1 193.1h0M94.8 193.5h0M97.5 194h0M100.2 194.5h0M102.9 195h0M105.6 195.4h0M108.3 195.9h0M111 196.4h0M113.7 196.9h0M116.4 197.3h0M84.9 194.2h0M87.6 194.7h0M90.3 195.2h0M93 195.6h0M95.7 196.1h0M98.4 196.6h0M101.1 197.1h0M103.8 197.5h0M106.5 198h0M109.2 198.5h0M111.9 199h0M114.6 199.4h0M83.2 196.3h0M85.9 196.8h0M88.6 197.3h0M91.3 197.7h0M94 198.2h0M96.7 198.7h0M99.4 199.2h0M102.1 199.6h0M104.8 200.1h0M107.5 200.6h0M110.2 201.1h0M112.9 201.5h0M115.6 202h0M81.4 198.4h0M84.1 198.9h0M86.8 199.4h0M89.5 199.8h0M92.2 200.3h0M94.9 200.8h0M97.6 201.3h0M100.3 201.7h0M103 202.2h0M105.7 202.7h0M108.4 203.2h0M111.1 203.6h0M113.8 204.1h0M116.5 204.6h0M82.4 201h0M85.1 201.5h0M87.8 201.9h0M90.5 202.4h0M93.2 202.9h0M95.8 203.4h0M98.5 203.8h0M101.2 204.3h0M103.9 204.8h0M106.6 205.3h0M109.3 205.7h0M112 206.2h0M114.7 206.7h0M80.6 203.1h0M83.3 203.6h0M86 204h0M88.7 204.5h0M91.4 205h0M94.1 205.5h0M96.8 205.9h0M99.5 206.4h0M102.2 206.9h0M104.9 207.4h0M107.6 207.8h0M110.3 208.3h0M113 208.8h0M115.7 209.3h0M78.8 205.2h0M81.5 205.7h0M84.2 206.1h0M86.9 206.6h0M89.6 207.1h0M92.3 207.6h0M95 208h0M97.7 208.5h0M100.4 209h0M103.1 209.5h0M105.8 209.9h0M108.5 210.4h0M111.2 210.9h0M113.9 211.4h0M52.8 203h0M55.5 203.5h0M77.1 207.3h0M79.8 207.8h0M82.5 208.2h0M85.2 208.7h0M87.9 209.2h0M90.6 209.7h0M93.3 210.1h0M96 210.6h0M98.7 211.1h0M101.4 211.6h0M104.1 212h0M106.8 212.5h0M109.5 213h0M112.2 213.5h0M114.9 213.9h0M53.7 205.6h0M56.4 206h0M72.6 208.9h0M75.3 209.4h0M78 209.9h0M80.7 210.3h0M83.4 210.8h0M86.1 211.3h0M88.8 211.8h0M91.5 212.2h0M94.2 212.7h0M96.9 213.2h0M99.6 213.7h0M102.3 214.1h0M105 214.6h0M107.7 215.1h0M110.4 215.6h0M113.1 216h0M54.7 208.1h0M57.4 208.6h0M60.1 209.1h0M62.8 209.6h0M65.5 210.1h0M68.2 210.5h0M70.9 211h0M73.6 211.5h0M76.3 212h0M78.9 212.4h0M81.6 212.9h0M84.3 213.4h0M87 213.9h0M89.7 214.3h0M92.4 214.8h0M95.1 215.3h0M97.8 215.8h0M100.5 216.2h0M103.2 216.7h0M105.9 217.2h0M108.6 217.7h0M111.3 218.1h0M114 218.6h0M55.6 210.7h0M58.3 211.2h0M61 211.7h0M63.7 212.1h0M66.4 212.6h0M69.1 213.1h0M71.8 213.6h0M74.5 214.1h0M77.2 214.5h0M79.9 215h0M82.6 215.5h0M85.3 216h0M88 216.4h0M90.7 216.9h0M93.4 217.4h0M96.1 217.9h0M98.8 218.3h0M101.5 218.8h0M104.2 219.3h0M106.9 219.8h0M109.6 220.2h0M112.3 220.7h0M53.8 212.8h0M56.5 213.3h0M59.2 213.8h0M61.9 214.2h0M64.6 214.7h0M67.3 215.2h0M70 215.7h0M72.7 216.2h0M75.4 216.6h0M78.1 217.1h0M80.8 217.6h0M83.5 218.1h0M86.2 218.5h0M88.9 219h0M91.6 219.5h0M94.3 220h0M97 220.4h0M99.7 220.9h0M102.4 221.4h0M105.1 221.9h0M107.8 222.3h0M110.5 222.8h0M113.2 223.3h0M54.8 215.4h0M57.5 215.9h0M60.2 216.3h0M62.9 216.8h0M65.6 217.3h0M68.3 217.8h0M71 218.3h0M73.7 218.7h0M76.4 219.2h0M79.1 219.7h0M81.8 220.2h0M84.5 220.6h0M87.2 221.1h0M89.9 221.6h0M92.6 222.1h0M95.3 222.5h0M98 223h0M100.6 223.5h0M103.3 224h0M106 224.4h0M108.7 224.9h0M111.4 225.4h0M55.7 218h0M58.4 218.4h0M61.1 218.9h0M63.8 219.4h0M66.5 219.9h0M69.2 220.3h0M71.9 220.8h0M74.6 221.3h0M77.3 221.8h0M80 222.3h0M82.7 222.7h0M85.4 223.2h0M88.1 223.7h0M90.8 224.2h0M93.5 224.6h0M96.2 225.1h0M98.9 225.6h0M101.6 226.1h0M104.3 226.5h0M107 227h0M109.7 227.5h0M112.4 228h0M56.7 220.5h0M59.3 221h0M62 221.5h0M64.7 222h0M67.4 222.4h0M70.1 222.9h0M72.8 223.4h0M75.5 223.9h0M78.2 224.4h0M80.9 224.8h0M83.6 225.3h0M86.3 225.8h0M89 226.3h0M91.7 226.7h0M94.4 227.2h0M97.1 227.7h0M99.8 228.2h0M102.5 228.6h0M105.2 229.1h0M107.9 229.6h0M110.6 230.1h0M113.3 230.5h0M57.6 223.1h0M60.3 223.6h0M63 224.1h0M65.7 224.5h0M68.4 225h0M71.1 225.5h0M73.8 226h0M76.5 226.5h0M79.2 226.9h0M81.9 227.4h0M84.6 227.9h0M87.3 228.4h0M90 228.8h0M92.7 229.3h0M95.4 229.8h0M98.1 230.3h0M100.8 230.7h0M103.5 231.2h0M106.2 231.7h0M108.9 232.2h0M111.6 232.6h0M55.8 225.2h0M58.5 225.7h0M61.2 226.2h0M63.9 226.6h0M66.6 227.1h0M69.3 227.6h0M72 228.1h0M74.7 228.5h0M77.4 229h0M80.1 229.5h0M82.8 230h0M85.5 230.5h0M88.2 230.9h0M90.9 231.4h0M93.6 231.9h0M96.3 232.4h0M99 232.8h0M101.7 233.3h0M104.4 233.8h0M107.1 234.3h0M109.8 234.7h0M112.5 235.2h0M56.8 227.8h0M59.5 228.3h0M62.2 228.7h0M64.9 229.2h0M67.6 229.7h0M70.3 230.2h0M73 230.6h0M75.7 231.1h0M78.4 231.6h0M81 232.1h0M83.7 232.6h0M86.4 233h0M89.1 233.5h0M91.8 234h0M94.5 234.5h0M97.2 234.9h0M99.9 235.4h0M102.6 235.9h0M105.3 236.4h0M108 236.8h0M57.7 230.4h0M60.4 230.8h0M63.1 231.3h0M65.8 231.8h0M68.5 232.3h0M71.2 232.7h0M73.9 233.2h0M76.6 233.7h0M79.3 234.2h0M82 234.7h0M84.7 235.1h0M87.4 235.6h0M90.1 236.1h0M92.8 236.6h0M58.6 232.9h0M61.3 233.4h0M64 233.9h0M66.7 234.4h0M69.4 234.8h0M72.1 235.3h0M74.8 235.8h0M77.5 236.3h0M80.2 236.7h0M56.9 235h0M59.6 235.5h0M62.3 236h0M65 236.5h0M67.7 236.9h0M133.9 65.4h0M121.6 57.8h0M127.2 117.3h0M36.8 74.5h0M49.9 176.4h0M42.1 116.3h0M55.5 222.3h0M52.2 198.2h0M82.9 236.6h0M124 143.2h0M47 158.2h0M120 173.8h0M45.6 11.8h0" stroke="#faec18" stroke-width="1.8" stroke-linecap="round" fill="none"/>
<path d="M110.3 45.6h0M112.8 46.6h0M103 45.2h0M105.6 46.2h0M108.1 47.3h0M110.6 48.3h0M113.2 49.3h0M115.7 50.3h0M100.9 46.9h0M103.4 47.9h0M105.9 48.9h0M108.5 50h0M111 51h0M113.6 52h0M116.1 53h0M118.6 54.1h0M98.7 48.6h0M101.2 49.6h0M103.8 50.6h0M106.3 51.7h0M108.9 52.7h0M111.4 53.7h0M113.9 54.7h0M116.5 55.8h0M119 56.8h0M96.5 50.3h0M99.1 51.3h0M101.6 52.3h0M104.2 53.3h0M106.7 54.4h0M109.2 55.4h0M111.8 56.4h0M114.3 57.4h0M116.9 58.5h0M119.4 59.5h0M121.9 60.5h0M94.4 51.9h0M96.9 53h0M99.5 54h0M102 55h0M104.5 56.1h0M107.1 57.1h0M109.6 58.1h0M112.2 59.1h0M114.7 60.2h0M117.2 61.2h0M119.8 62.2h0M122.3 63.2h0M94.8 54.7h0M97.3 55.7h0M99.8 56.7h0M102.4 57.7h0M104.9 58.8h0M107.5 59.8h0M110 60.8h0M112.5 61.8h0M115.1 62.9h0M117.6 63.9h0M120.2 64.9h0M122.7 66h0M92.6 56.3h0M95.1 57.4h0M97.7 58.4h0M100.2 59.4h0M102.8 60.5h0M105.3 61.5h0M107.8 62.5h0M110.4 63.5h0M112.9 64.6h0M115.5 65.6h0M118 66.6h0M120.5 67.6h0M93 59.1h0M95.5 60.1h0M98.1 61.1h0M100.6 62.1h0M103.1 63.2h0M105.7 64.2h0M108.2 65.2h0M110.8 66.2h0M113.3 67.3h0M115.8 68.3h0M118.4 69.3h0M120.9 70.4h0M90.8 60.8h0M93.4 61.8h0M95.9 62.8h0M98.4 63.8h0M101 64.9h0M103.5 65.9h0M106.1 66.9h0M108.6 67.9h0M111.1 69h0M113.7 70h0M116.2 71h0M118.8 72h0M121.3 73.1h0M91.2 63.5h0M93.7 64.5h0M96.3 65.5h0M98.8 66.5h0M101.4 67.6h0M103.9 68.6h0M106.4 69.6h0M109 70.6h0M111.5 71.7h0M114.1 72.7h0M116.6 73.7h0M119.1 74.8h0M121.7 75.8h0M91.6 66.2h0M94.1 67.2h0M96.7 68.2h0M99.2 69.3h0M101.7 70.3h0M104.3 71.3h0M106.8 72.3h0M109.4 73.4h0M111.9 74.4h0M114.4 75.4h0M117 76.4h0M119.5 77.5h0M89.4 67.9h0M92 68.9h0M94.5 69.9h0M97 70.9h0M99.6 72h0M102.1 73h0M104.7 74h0M107.2 75h0M109.7 76.1h0M112.3 77.1h0M114.8 78.1h0M117.4 79.2h0M119.9 80.2h0M89.8 70.6h0M92.3 71.6h0M94.9 72.6h0M97.4 73.7h0M100 74.7h0M102.5 75.7h0M105 76.7h0M107.6 77.8h0M110.1 78.8h0M112.7 79.8h0M115.2 80.8h0M117.7 81.9h0M90.2 73.3h0M92.7 74.3h0M95.3 75.3h0M97.8 76.4h0M100.3 77.4h0M102.9 78.4h0M105.4 79.4h0M108 80.5h0M110.5 81.5h0M113 82.5h0M115.6 83.6h0M90.6 76h0M93.1 77h0M95.6 78.1h0M98.2 79.1h0M100.7 80.1h0M103.3 81.1h0M105.8 82.2h0M108.3 83.2h0M110.9 84.2h0M113.4 85.2h0M93.5 79.7h0M96 80.8h0M98.6 81.8h0M101.1 82.8h0M103.6 83.8h0M106.2 84.9h0M108.7 85.9h0M111.3 86.9h0M93.9 82.5h0M96.4 83.5h0M98.9 84.5h0M101.5 85.5h0M104 86.6h0M106.6 87.6h0M109.1 88.6h0M96.8 86.2h0M99.3 87.2h0M101.9 88.2h0M104.4 89.3h0M107 90.3h0M69.3 156.5h0M71.8 157.6h0M74.3 158.7h0M64.5 157h0M67 158.1h0M69.5 159.2h0M72 160.3h0M74.5 161.4h0M77.1 162.5h0M62.3 158.6h0M64.8 159.7h0M67.3 160.8h0M69.8 161.9h0M72.3 163h0M74.8 164.2h0M77.3 165.3h0M79.8 166.4h0M60.1 160.2h0M62.6 161.3h0M65.1 162.4h0M67.6 163.5h0M70.1 164.6h0M72.6 165.8h0M75.1 166.9h0M77.6 168h0M80.1 169.1h0M57.9 161.8h0M60.4 162.9h0M62.9 164h0M65.4 165.1h0M67.9 166.3h0M70.4 167.4h0M72.9 168.5h0M75.4 169.6h0M77.9 170.7h0M80.4 171.8h0M82.9 172.9h0M55.7 163.4h0M58.2 164.5h0M60.7 165.6h0M63.2 166.8h0M65.7 167.9h0M68.2 169h0M70.7 170.1h0M73.2 171.2h0M75.7 172.3h0M78.2 173.4h0M80.7 174.6h0M83.2 175.7h0M56 166.1h0M58.5 167.3h0M61 168.4h0M63.5 169.5h0M66 170.6h0M68.5 171.7h0M71 172.8h0M73.5 173.9h0M76 175.1h0M78.5 176.2h0M81 177.3h0M83.5 178.4h0M53.7 167.7h0M56.2 168.9h0M58.7 170h0M61.2 171.1h0M63.8 172.2h0M66.3 173.3h0M68.8 174.4h0M71.3 175.5h0M73.8 176.7h0M76.3 177.8h0M78.8 178.9h0M81.3 180h0M83.8 181.1h0M54 170.5h0M56.5 171.6h0M59 172.7h0M61.5 173.8h0M64 174.9h0M66.5 176h0M69 177.2h0M71.5 178.3h0M74 179.4h0M76.6 180.5h0M79.1 181.6h0M81.6 182.7h0M84.1 183.8h0M51.8 172.1h0M54.3 173.2h0M56.8 174.3h0M59.3 175.4h0M61.8 176.5h0M64.3 177.7h0M66.8 178.8h0M69.3 179.9h0M71.8 181h0M74.3 182.1h0M76.8 183.2h0M79.3 184.3h0M81.8 185.5h0M52.1 174.8h0M54.6 175.9h0M57.1 177h0M59.6 178.2h0M62.1 179.3h0M64.6 180.4h0M67.1 181.5h0M69.6 182.6h0M72.1 183.7h0M74.6 184.8h0M77.1 186h0M79.6 187.1h0M82.1 188.2h0M52.4 177.5h0M54.9 178.6h0M57.4 179.8h0M59.9 180.9h0M62.4 182h0M64.9 183.1h0M67.4 184.2h0M69.9 185.3h0M72.4 186.4h0M74.9 187.6h0M77.4 188.7h0M79.9 189.8h0M82.4 190.9h0M50.2 179.1h0M52.7 180.3h0M55.2 181.4h0M57.7 182.5h0M60.2 183.6h0M62.7 184.7h0M65.2 185.8h0M67.7 186.9h0M70.2 188.1h0M72.7 189.2h0M75.2 190.3h0M77.7 191.4h0M80.2 192.5h0M82.7 193.6h0M50.4 181.9h0M53 183h0M55.5 184.1h0M58 185.2h0M60.5 186.3h0M63 187.4h0M65.5 188.6h0M68 189.7h0M70.5 190.8h0M73 191.9h0M75.5 193h0M78 194.1h0M80.5 195.2h0M50.7 184.6h0M53.2 185.7h0M55.7 186.8h0M58.2 187.9h0M60.7 189.1h0M63.3 190.2h0M65.8 191.3h0M68.3 192.4h0M70.8 193.5h0M73.3 194.6h0M75.8 195.7h0M78.3 196.9h0M80.8 198h0M51 187.3h0M53.5 188.4h0M56 189.5h0M58.5 190.7h0M61 191.8h0M63.5 192.9h0M66 194h0M68.5 195.1h0M71 196.2h0M73.6 197.3h0M76.1 198.5h0M78.6 199.6h0M51.3 190h0M53.8 191.2h0M56.3 192.3h0M58.8 193.4h0M61.3 194.5h0M63.8 195.6h0M66.3 196.7h0M68.8 197.8h0M71.3 199h0M73.8 200.1h0M76.3 201.2h0M78.8 202.3h0M51.6 192.8h0M54.1 193.9h0M56.6 195h0M59.1 196.1h0M61.6 197.2h0M64.1 198.3h0M66.6 199.5h0M69.1 200.6h0M71.6 201.7h0M74.1 202.8h0M76.6 203.9h0M51.9 195.5h0M54.4 196.6h0M56.9 197.7h0M59.4 198.8h0M61.9 200h0M64.4 201.1h0M66.9 202.2h0M69.4 203.3h0M71.9 204.4h0M74.4 205.5h0M54.7 199.3h0M57.2 200.4h0M59.7 201.6h0M62.2 202.7h0M64.7 203.8h0M67.2 204.9h0M69.7 206h0M72.2 207.1h0M55 202.1h0M57.5 203.2h0M60 204.3h0M62.5 205.4h0M65 206.5h0M67.5 207.6h0M70 208.7h0M57.7 205.9h0M60.3 207h0M62.8 208.1h0M65.3 209.2h0M90.9 57.9h0" stroke="#38b8b0" stroke-opacity="0.5" stroke-width="2.5" stroke-linecap="round" fill="none"/>
<path d="M110.3 45.6h0M112.8 46.6h0M103 45.2h0M105.6 46.2h0M108.1 47.3h0M110.6 48.3h0M113.2 49.3h0M115.7 50.3h0M100.9 46.9h0M103.4 47.9h0M105.9 48.9h0M108.5 50h0M111 51h0M113.6 52h0M116.1 53h0M118.6 54.1h0M98.7 48.6h0M101.2 49.6h0M103.8 50.6h0M106.3 51.7h0M108.9 52.7h0M111.4 53.7h0M113.9 54.7h0M116.5 55.8h0M119 56.8h0M96.5 50.3h0M99.1 51.3h0M101.6 52.3h0M104.2 53.3h0M106.7 54.4h0M109.2 55.4h0M111.8 56.4h0M114.3 57.4h0M116.9 58.5h0M119.4 59.5h0M121.9 60.5h0M94.4 51.9h0M96.9 53h0M99.5 54h0M102 55h0M104.5 56.1h0M107.1 57.1h0M109.6 58.1h0M112.2 59.1h0M114.7 60.2h0M117.2 61.2h0M119.8 62.2h0M122.3 63.2h0M94.8 54.7h0M97.3 55.7h0M99.8 56.7h0M102.4 57.7h0M104.9 58.8h0M107.5 59.8h0M110 60.8h0M112.5 61.8h0M115.1 62.9h0M117.6 63.9h0M120.2 64.9h0M122.7 66h0M92.6 56.3h0M95.1 57.4h0M97.7 58.4h0M100.2 59.4h0M102.8 60.5h0M105.3 61.5h0M107.8 62.5h0M110.4 63.5h0M112.9 64.6h0M115.5 65.6h0M118 66.6h0M120.5 67.6h0M93 59.1h0M95.5 60.1h0M98.1 61.1h0M100.6 62.1h0M103.1 63.2h0M105.7 64.2h0M108.2 65.2h0M110.8 66.2h0M113.3 67.3h0M115.8 68.3h0M118.4 69.3h0M120.9 70.4h0M90.8 60.8h0M93.4 61.8h0M95.9 62.8h0M98.4 63.8h0M101 64.9h0M103.5 65.9h0M106.1 66.9h0M108.6 67.9h0M111.1 69h0M113.7 70h0M116.2 71h0M118.8 72h0M121.3 73.1h0M91.2 63.5h0M93.7 64.5h0M96.3 65.5h0M98.8 66.5h0M101.4 67.6h0M103.9 68.6h0M106.4 69.6h0M109 70.6h0M111.5 71.7h0M114.1 72.7h0M116.6 73.7h0M119.1 74.8h0M121.7 75.8h0M91.6 66.2h0M94.1 67.2h0M96.7 68.2h0M99.2 69.3h0M101.7 70.3h0M104.3 71.3h0M106.8 72.3h0M109.4 73.4h0M111.9 74.4h0M114.4 75.4h0M117 76.4h0M119.5 77.5h0M89.4 67.9h0M92 68.9h0M94.5 69.9h0M97 70.9h0M99.6 72h0M102.1 73h0M104.7 74h0M107.2 75h0M109.7 76.1h0M112.3 77.1h0M114.8 78.1h0M117.4 79.2h0M119.9 80.2h0M89.8 70.6h0M92.3 71.6h0M94.9 72.6h0M97.4 73.7h0M100 74.7h0M102.5 75.7h0M105 76.7h0M107.6 77.8h0M110.1 78.8h0M112.7 79.8h0M115.2 80.8h0M117.7 81.9h0M90.2 73.3h0M92.7 74.3h0M95.3 75.3h0M97.8 76.4h0M100.3 77.4h0M102.9 78.4h0M105.4 79.4h0M108 80.5h0M110.5 81.5h0M113 82.5h0M115.6 83.6h0M90.6 76h0M93.1 77h0M95.6 78.1h0M98.2 79.1h0M100.7 80.1h0M103.3 81.1h0M105.8 82.2h0M108.3 83.2h0M110.9 84.2h0M113.4 85.2h0M93.5 79.7h0M96 80.8h0M98.6 81.8h0M101.1 82.8h0M103.6 83.8h0M106.2 84.9h0M108.7 85.9h0M111.3 86.9h0M93.9 82.5h0M96.4 83.5h0M98.9 84.5h0M101.5 85.5h0M104 86.6h0M106.6 87.6h0M109.1 88.6h0M96.8 86.2h0M99.3 87.2h0M101.9 88.2h0M104.4 89.3h0M107 90.3h0M69.3 156.5h0M71.8 157.6h0M74.3 158.7h0M64.5 157h0M67 158.1h0M69.5 159.2h0M72 160.3h0M74.5 161.4h0M77.1 162.5h0M62.3 158.6h0M64.8 159.7h0M67.3 160.8h0M69.8 161.9h0M72.3 163h0M74.8 164.2h0M77.3 165.3h0M79.8 166.4h0M60.1 160.2h0M62.6 161.3h0M65.1 162.4h0M67.6 163.5h0M70.1 164.6h0M72.6 165.8h0M75.1 166.9h0M77.6 168h0M80.1 169.1h0M57.9 161.8h0M60.4 162.9h0M62.9 164h0M65.4 165.1h0M67.9 166.3h0M70.4 167.4h0M72.9 168.5h0M75.4 169.6h0M77.9 170.7h0M80.4 171.8h0M82.9 172.9h0M55.7 163.4h0M58.2 164.5h0M60.7 165.6h0M63.2 166.8h0M65.7 167.9h0M68.2 169h0M70.7 170.1h0M73.2 171.2h0M75.7 172.3h0M78.2 173.4h0M80.7 174.6h0M83.2 175.7h0M56 166.1h0M58.5 167.3h0M61 168.4h0M63.5 169.5h0M66 170.6h0M68.5 171.7h0M71 172.8h0M73.5 173.9h0M76 175.1h0M78.5 176.2h0M81 177.3h0M83.5 178.4h0M53.7 167.7h0M56.2 168.9h0M58.7 170h0M61.2 171.1h0M63.8 172.2h0M66.3 173.3h0M68.8 174.4h0M71.3 175.5h0M73.8 176.7h0M76.3 177.8h0M78.8 178.9h0M81.3 180h0M83.8 181.1h0M54 170.5h0M56.5 171.6h0M59 172.7h0M61.5 173.8h0M64 174.9h0M66.5 176h0M69 177.2h0M71.5 178.3h0M74 179.4h0M76.6 180.5h0M79.1 181.6h0M81.6 182.7h0M84.1 183.8h0M51.8 172.1h0M54.3 173.2h0M56.8 174.3h0M59.3 175.4h0M61.8 176.5h0M64.3 177.7h0M66.8 178.8h0M69.3 179.9h0M71.8 181h0M74.3 182.1h0M76.8 183.2h0M79.3 184.3h0M81.8 185.5h0M52.1 174.8h0M54.6 175.9h0M57.1 177h0M59.6 178.2h0M62.1 179.3h0M64.6 180.4h0M67.1 181.5h0M69.6 182.6h0M72.1 183.7h0M74.6 184.8h0M77.1 186h0M79.6 187.1h0M82.1 188.2h0M52.4 177.5h0M54.9 178.6h0M57.4 179.8h0M59.9 180.9h0M62.4 182h0M64.9 183.1h0M67.4 184.2h0M69.9 185.3h0M72.4 186.4h0M74.9 187.6h0M77.4 188.7h0M79.9 189.8h0M82.4 190.9h0M50.2 179.1h0M52.7 180.3h0M55.2 181.4h0M57.7 182.5h0M60.2 183.6h0M62.7 184.7h0M65.2 185.8h0M67.7 186.9h0M70.2 188.1h0M72.7 189.2h0M75.2 190.3h0M77.7 191.4h0M80.2 192.5h0M82.7 193.6h0M50.4 181.9h0M53 183h0M55.5 184.1h0M58 185.2h0M60.5 186.3h0M63 187.4h0M65.5 188.6h0M68 189.7h0M70.5 190.8h0M73 191.9h0M75.5 193h0M78 194.1h0M80.5 195.2h0M50.7 184.6h0M53.2 185.7h0M55.7 186.8h0M58.2 187.9h0M60.7 189.1h0M63.3 190.2h0M65.8 191.3h0M68.3 192.4h0M70.8 193.5h0M73.3 194.6h0M75.8 195.7h0M78.3 196.9h0M80.8 198h0M51 187.3h0M53.5 188.4h0M56 189.5h0M58.5 190.7h0M61 191.8h0M63.5 192.9h0M66 194h0M68.5 195.1h0M71 196.2h0M73.6 197.3h0M76.1 198.5h0M78.6 199.6h0M51.3 190h0M53.8 191.2h0M56.3 192.3h0M58.8 193.4h0M61.3 194.5h0M63.8 195.6h0M66.3 196.7h0M68.8 197.8h0M71.3 199h0M73.8 200.1h0M76.3 201.2h0M78.8 202.3h0M51.6 192.8h0M54.1 193.9h0M56.6 195h0M59.1 196.1h0M61.6 197.2h0M64.1 198.3h0M66.6 199.5h0M69.1 200.6h0M71.6 201.7h0M74.1 202.8h0M76.6 203.9h0M51.9 195.5h0M54.4 196.6h0M56.9 197.7h0M59.4 198.8h0M61.9 200h0M64.4 201.1h0M66.9 202.2h0M69.4 203.3h0M71.9 204.4h0M74.4 205.5h0M54.7 199.3h0M57.2 200.4h0M59.7 201.6h0M62.2 202.7h0M64.7 203.8h0M67.2 204.9h0M69.7 206h0M72.2 207.1h0M55 202.1h0M57.5 203.2h0M60 204.3h0M62.5 205.4h0M65 206.5h0M67.5 207.6h0M70 208.7h0M57.7 205.9h0M60.3 207h0M62.8 208.1h0M65.3 209.2h0M90.9 57.9h0" stroke="#faec18" stroke-width="1.68" stroke-linecap="round" fill="none"/>
<g clip-path="url(#trap)"><polygon points="28.1,11.1 141.35,11.1 113.04,237.6 56.41,237.6" fill="none" stroke="#a8cc4c" stroke-width="2"/></g></g>
<g transform="translate(0,274.5)">
<text x="24.2" y="242.1" text-anchor="end" class="t">-300</text>
<text x="24.2" y="204.35" text-anchor="end" class="t">-200</text>
<text x="24.2" y="166.6" text-anchor="end" class="t">-100</text>
<text x="24.2" y="128.85" text-anchor="end" class="t">0</text>
<text x="24.2" y="91.1" text-anchor="end" class="t">100</text>
<text x="24.2" y="53.35" text-anchor="end" class="t">200</text>
<text x="24.2" y="15.6" text-anchor="end" class="t">300</text>
<text x="46.98" y="252.1" text-anchor="middle" class="t">-100</text>
<text x="84.72" y="252.1" text-anchor="middle" class="t">0</text>
<text x="122.47" y="252.1" text-anchor="middle" class="t">100</text>
<rect x="148.2" y="11.1" width="12" height="226.4" fill="url(#cbg)" stroke="#8c8c8c" stroke-width="0.9"/>
<path d="M160.2 11.1h-2.2" stroke="#444" stroke-width="0.8"/>
<text x="163.9" y="15.4" class="t">1</text>
<path d="M160.2 56.38h-2.2" stroke="#444" stroke-width="0.8"/>
<text x="163.9" y="60.68" class="t d">0.5</text>
<path d="M160.2 101.66h-2.2" stroke="#444" stroke-width="0.8"/>
<text x="163.9" y="105.96" class="t">0</text>
<path d="M160.2 146.94h-2.2" stroke="#444" stroke-width="0.8"/>
<text x="163.6" y="151.24" class="t d">-0.5</text>
<path d="M160.2 192.22h-2.2" stroke="#444" stroke-width="0.8"/>
<text x="163.6" y="196.52" class="t">-1</text>
<path d="M160.2 237.5h-2.2" stroke="#444" stroke-width="0.8"/>
<text x="163.6" y="241.8" class="t d">-1.5</text>
<text x="91.4" y="271" text-anchor="middle" class="cap">(c)</text>
</g>
<g transform="translate(238.1,274.5)">
<path d="M28.1 237.6h2.3M141.4 237.6h-2.3M28.1 199.85h2.3M141.4 199.85h-2.3M28.1 162.1h2.3M141.4 162.1h-2.3M28.1 124.35h2.3M141.4 124.35h-2.3M28.1 86.6h2.3M141.4 86.6h-2.3M28.1 48.85h2.3M141.4 48.85h-2.3M28.1 11.1h2.3M141.4 11.1h-2.3M46.98 237.5v-2.3M46.98 11.1v2.3M84.72 237.5v-2.3M84.72 11.1v2.3M122.47 237.5v-2.3M122.47 11.1v2.3" stroke="#8c8c8c" stroke-width="0.8" fill="none"/>
<rect x="28.1" y="11.1" width="113.3" height="226.4" fill="none" stroke="#8c8c8c" stroke-width="0.9"/>
</g>
<g transform="translate(238.1,274.5)"><polygon points="28.1,11.1 141.35,11.1 113.04,237.6 56.41,237.6" fill="#2f78e6"/>
<path d="M114.9 38.8h0M119.1 42.3h0M112.3 39.7h0M118.6 45h0M120.7 46.7h0M109.8 40.6h0M111.9 42.4h0M114 44.1h0M116.1 45.9h0M118.2 47.7h0M122.4 51.2h0M124.5 53h0M103 38h0M105.1 39.8h0M109.3 43.3h0M111.4 45.1h0M113.5 46.8h0M115.6 48.6h0M117.7 50.4h0M121.9 53.9h0M124 55.7h0M100.4 39h0M102.5 40.7h0M104.6 42.5h0M106.7 44.3h0M108.8 46h0M110.9 47.8h0M113 49.5h0M115.1 51.3h0M117.2 53.1h0M119.3 54.8h0M121.4 56.6h0M123.5 58.4h0M125.6 60.1h0M99.9 41.7h0M102 43.4h0M104.1 45.2h0M106.2 47h0M108.3 48.7h0M110.4 50.5h0M112.5 52.2h0M114.6 54h0M116.7 55.8h0M118.8 57.5h0M120.9 59.3h0M123 61h0M125.1 62.8h0M97.4 42.6h0M99.5 44.4h0M101.6 46.1h0M103.7 47.9h0M105.8 49.7h0M107.9 51.4h0M110 53.2h0M112.1 54.9h0M114.2 56.7h0M116.3 58.5h0M118.4 60.2h0M120.5 62h0M122.6 63.7h0M124.7 65.5h0M96.9 45.3h0M99 47.1h0M101.1 48.8h0M103.2 50.6h0M105.3 52.4h0M107.4 54.1h0M109.5 55.9h0M111.6 57.6h0M113.7 59.4h0M115.8 61.2h0M120 64.7h0M122.1 66.4h0M94.3 46.2h0M96.4 48h0M98.5 49.8h0M100.6 51.5h0M102.7 53.3h0M104.8 55.1h0M106.9 56.8h0M109 58.6h0M111.1 60.3h0M113.2 62.1h0M115.3 63.9h0M119.5 67.4h0M121.6 69.1h0M123.7 70.9h0M93.8 48.9h0M95.9 50.7h0M98 52.5h0M100.1 54.2h0M102.2 56h0M104.3 57.8h0M106.4 59.5h0M108.5 61.3h0M110.6 63h0M116.9 68.3h0M123.2 73.6h0M93.4 51.6h0M95.5 53.4h0M97.6 55.2h0M99.7 56.9h0M101.8 58.7h0M103.9 60.5h0M106 62.2h0M108.1 64h0M110.2 65.7h0M112.3 67.5h0M114.4 69.3h0M120.7 74.5h0M122.8 76.3h0M90.8 52.6h0M92.9 54.3h0M95 56.1h0M97.1 57.9h0M99.2 59.6h0M101.3 61.4h0M103.4 63.2h0M105.5 64.9h0M107.6 66.7h0M109.7 68.4h0M111.8 70.2h0M113.9 72h0M120.2 77.2h0M122.3 79h0M90.3 55.3h0M94.5 58.8h0M96.6 60.6h0M98.7 62.3h0M100.8 64.1h0M102.9 65.8h0M105 67.6h0M107.1 69.4h0M109.2 71.1h0M111.3 72.9h0M113.4 74.7h0M115.5 76.4h0M117.6 78.2h0M119.7 79.9h0M89.8 58h0M96.1 63.3h0M98.2 65h0M100.3 66.8h0M102.4 68.5h0M104.5 70.3h0M106.6 72.1h0M108.7 73.8h0M110.8 75.6h0M112.9 77.4h0M115 79.1h0M117.1 80.9h0M119.2 82.6h0M95.7 66h0M97.8 67.7h0M99.9 69.5h0M102 71.2h0M104.1 73h0M106.2 74.8h0M108.3 76.5h0M110.4 78.3h0M112.5 80.1h0M114.6 81.8h0M116.7 83.6h0M88.9 63.4h0M95.2 68.7h0M97.3 70.4h0M99.4 72.2h0M101.5 73.9h0M103.6 75.7h0M105.7 77.5h0M107.8 79.2h0M109.9 81h0M112 82.7h0M114.1 84.5h0M116.2 86.3h0M92.6 69.6h0M94.7 71.4h0M96.8 73.1h0M98.9 74.9h0M105.2 80.2h0M107.3 81.9h0M109.4 83.7h0M111.5 85.4h0M113.6 87.2h0M90 70.5h0M96.3 75.8h0M102.6 81.1h0M104.7 82.9h0M106.8 84.6h0M108.9 86.4h0M111 88.1h0M95.9 78.5h0M98 80.3h0M100.1 82h0M102.2 83.8h0M104.3 85.6h0M106.4 87.3h0M108.5 89.1h0M93.3 79.5h0M95.4 81.2h0M97.5 83h0M99.6 84.7h0M101.7 86.5h0M103.8 88.3h0M105.9 90h0M97 85.7h0M99.1 87.4h0M70.9 155.8h0M73.1 157.5h0M75.3 159.2h0M66.2 155.1h0M68.4 156.8h0M70.6 158.5h0M72.7 160.2h0M74.9 161.9h0M77 163.6h0M63.7 156.2h0M65.9 157.9h0M68 159.5h0M70.2 161.2h0M72.3 162.9h0M74.5 164.6h0M76.7 166.3h0M65.5 160.6h0M72 165.6h0M67.3 165h0M71.6 168.3h0M75.9 171.7h0M78.1 173.4h0M80.2 175.1h0M58.2 160.9h0M60.4 162.6h0M66.9 167.7h0M69 169.4h0M71.2 171.1h0M73.4 172.7h0M75.5 174.4h0M77.7 176.1h0M79.8 177.8h0M60 165.3h0M62.2 167h0M64.3 168.7h0M66.5 170.4h0M68.7 172.1h0M70.8 173.8h0M73 175.5h0M75.1 177.1h0M77.3 178.8h0M79.5 180.5h0M81.6 182.2h0M55.3 164.7h0M59.6 168h0M61.8 169.7h0M64 171.4h0M66.1 173.1h0M70.4 176.5h0M72.6 178.2h0M74.8 179.9h0M76.9 181.5h0M79.1 183.2h0M81.2 184.9h0M54.9 167.4h0M57.1 169.1h0M59.3 170.8h0M61.4 172.4h0M63.6 174.1h0M65.7 175.8h0M70.1 179.2h0M72.2 180.9h0M74.4 182.6h0M76.5 184.3h0M78.7 185.9h0M80.9 187.6h0M56.7 171.8h0M58.9 173.5h0M61 175.2h0M63.2 176.8h0M67.5 180.2h0M69.7 181.9h0M71.8 183.6h0M76.2 187h0M78.3 188.7h0M80.5 190.3h0M54.2 172.8h0M58.5 176.2h0M60.7 177.9h0M62.8 179.6h0M65 181.2h0M67.1 182.9h0M69.3 184.6h0M77.9 191.4h0M80.1 193.1h0M60.3 180.6h0M62.4 182.3h0M64.6 184h0M66.8 185.6h0M68.9 187.3h0M71.1 189h0M73.2 190.7h0M75.4 192.4h0M77.6 194.1h0M53.4 178.2h0M57.7 181.6h0M62.1 185h0M64.2 186.7h0M66.4 188.4h0M68.5 190h0M70.7 191.7h0M72.9 193.4h0M75 195.1h0M53 181h0M55.2 182.6h0M63.8 189.4h0M66 191.1h0M68.2 192.8h0M70.3 194.4h0M72.5 196.1h0M74.6 197.8h0M76.8 199.5h0M52.7 183.7h0M54.8 185.4h0M57 187h0M63.5 192.1h0M65.6 193.8h0M67.8 195.5h0M69.9 197.2h0M72.1 198.8h0M74.2 200.5h0M76.4 202.2h0M52.3 186.4h0M58.8 191.4h0M60.9 193.1h0M69.5 199.9h0M71.7 201.6h0M73.9 203.3h0M54.1 190.8h0M56.2 192.5h0M58.4 194.2h0M62.7 197.5h0M64.8 199.2h0M69.2 202.6h0M53.7 193.5h0M55.8 195.2h0M58 196.9h0M64.5 201.9h0M66.6 203.6h0M55.4 197.9h0M57.6 199.6h0M59.8 201.3h0M64.1 204.6h0M66.2 206.3h0M61.5 205.7h0M63.7 207.4h0" stroke="#38b8b0" stroke-opacity="0.6" stroke-width="2.5" stroke-linecap="round" fill="none"/>
<path d="M114.9 38.8h0M119.1 42.3h0M112.3 39.7h0M118.6 45h0M120.7 46.7h0M109.8 40.6h0M111.9 42.4h0M114 44.1h0M116.1 45.9h0M118.2 47.7h0M122.4 51.2h0M124.5 53h0M103 38h0M105.1 39.8h0M109.3 43.3h0M111.4 45.1h0M113.5 46.8h0M115.6 48.6h0M117.7 50.4h0M121.9 53.9h0M124 55.7h0M100.4 39h0M102.5 40.7h0M104.6 42.5h0M106.7 44.3h0M108.8 46h0M110.9 47.8h0M113 49.5h0M115.1 51.3h0M117.2 53.1h0M119.3 54.8h0M121.4 56.6h0M123.5 58.4h0M125.6 60.1h0M99.9 41.7h0M102 43.4h0M104.1 45.2h0M106.2 47h0M108.3 48.7h0M110.4 50.5h0M112.5 52.2h0M114.6 54h0M116.7 55.8h0M118.8 57.5h0M120.9 59.3h0M123 61h0M125.1 62.8h0M97.4 42.6h0M99.5 44.4h0M101.6 46.1h0M103.7 47.9h0M105.8 49.7h0M107.9 51.4h0M110 53.2h0M112.1 54.9h0M114.2 56.7h0M116.3 58.5h0M118.4 60.2h0M120.5 62h0M122.6 63.7h0M124.7 65.5h0M96.9 45.3h0M99 47.1h0M101.1 48.8h0M103.2 50.6h0M105.3 52.4h0M107.4 54.1h0M109.5 55.9h0M111.6 57.6h0M113.7 59.4h0M115.8 61.2h0M120 64.7h0M122.1 66.4h0M94.3 46.2h0M96.4 48h0M98.5 49.8h0M100.6 51.5h0M102.7 53.3h0M104.8 55.1h0M106.9 56.8h0M109 58.6h0M111.1 60.3h0M113.2 62.1h0M115.3 63.9h0M119.5 67.4h0M121.6 69.1h0M123.7 70.9h0M93.8 48.9h0M95.9 50.7h0M98 52.5h0M100.1 54.2h0M102.2 56h0M104.3 57.8h0M106.4 59.5h0M108.5 61.3h0M110.6 63h0M116.9 68.3h0M123.2 73.6h0M93.4 51.6h0M95.5 53.4h0M97.6 55.2h0M99.7 56.9h0M101.8 58.7h0M103.9 60.5h0M106 62.2h0M108.1 64h0M110.2 65.7h0M112.3 67.5h0M114.4 69.3h0M120.7 74.5h0M122.8 76.3h0M90.8 52.6h0M92.9 54.3h0M95 56.1h0M97.1 57.9h0M99.2 59.6h0M101.3 61.4h0M103.4 63.2h0M105.5 64.9h0M107.6 66.7h0M109.7 68.4h0M111.8 70.2h0M113.9 72h0M120.2 77.2h0M122.3 79h0M90.3 55.3h0M94.5 58.8h0M96.6 60.6h0M98.7 62.3h0M100.8 64.1h0M102.9 65.8h0M105 67.6h0M107.1 69.4h0M109.2 71.1h0M111.3 72.9h0M113.4 74.7h0M115.5 76.4h0M117.6 78.2h0M119.7 79.9h0M89.8 58h0M96.1 63.3h0M98.2 65h0M100.3 66.8h0M102.4 68.5h0M104.5 70.3h0M106.6 72.1h0M108.7 73.8h0M110.8 75.6h0M112.9 77.4h0M115 79.1h0M117.1 80.9h0M119.2 82.6h0M95.7 66h0M97.8 67.7h0M99.9 69.5h0M102 71.2h0M104.1 73h0M106.2 74.8h0M108.3 76.5h0M110.4 78.3h0M112.5 80.1h0M114.6 81.8h0M116.7 83.6h0M88.9 63.4h0M95.2 68.7h0M97.3 70.4h0M99.4 72.2h0M101.5 73.9h0M103.6 75.7h0M105.7 77.5h0M107.8 79.2h0M109.9 81h0M112 82.7h0M114.1 84.5h0M116.2 86.3h0M92.6 69.6h0M94.7 71.4h0M96.8 73.1h0M98.9 74.9h0M105.2 80.2h0M107.3 81.9h0M109.4 83.7h0M111.5 85.4h0M113.6 87.2h0M90 70.5h0M96.3 75.8h0M102.6 81.1h0M104.7 82.9h0M106.8 84.6h0M108.9 86.4h0M111 88.1h0M95.9 78.5h0M98 80.3h0M100.1 82h0M102.2 83.8h0M104.3 85.6h0M106.4 87.3h0M108.5 89.1h0M93.3 79.5h0M95.4 81.2h0M97.5 83h0M99.6 84.7h0M101.7 86.5h0M103.8 88.3h0M105.9 90h0M97 85.7h0M99.1 87.4h0M70.9 155.8h0M73.1 157.5h0M75.3 159.2h0M66.2 155.1h0M68.4 156.8h0M70.6 158.5h0M72.7 160.2h0M74.9 161.9h0M77 163.6h0M63.7 156.2h0M65.9 157.9h0M68 159.5h0M70.2 161.2h0M72.3 162.9h0M74.5 164.6h0M76.7 166.3h0M65.5 160.6h0M72 165.6h0M67.3 165h0M71.6 168.3h0M75.9 171.7h0M78.1 173.4h0M80.2 175.1h0M58.2 160.9h0M60.4 162.6h0M66.9 167.7h0M69 169.4h0M71.2 171.1h0M73.4 172.7h0M75.5 174.4h0M77.7 176.1h0M79.8 177.8h0M60 165.3h0M62.2 167h0M64.3 168.7h0M66.5 170.4h0M68.7 172.1h0M70.8 173.8h0M73 175.5h0M75.1 177.1h0M77.3 178.8h0M79.5 180.5h0M81.6 182.2h0M55.3 164.7h0M59.6 168h0M61.8 169.7h0M64 171.4h0M66.1 173.1h0M70.4 176.5h0M72.6 178.2h0M74.8 179.9h0M76.9 181.5h0M79.1 183.2h0M81.2 184.9h0M54.9 167.4h0M57.1 169.1h0M59.3 170.8h0M61.4 172.4h0M63.6 174.1h0M65.7 175.8h0M70.1 179.2h0M72.2 180.9h0M74.4 182.6h0M76.5 184.3h0M78.7 185.9h0M80.9 187.6h0M56.7 171.8h0M58.9 173.5h0M61 175.2h0M63.2 176.8h0M67.5 180.2h0M69.7 181.9h0M71.8 183.6h0M76.2 187h0M78.3 188.7h0M80.5 190.3h0M54.2 172.8h0M58.5 176.2h0M60.7 177.9h0M62.8 179.6h0M65 181.2h0M67.1 182.9h0M69.3 184.6h0M77.9 191.4h0M80.1 193.1h0M60.3 180.6h0M62.4 182.3h0M64.6 184h0M66.8 185.6h0M68.9 187.3h0M71.1 189h0M73.2 190.7h0M75.4 192.4h0M77.6 194.1h0M53.4 178.2h0M57.7 181.6h0M62.1 185h0M64.2 186.7h0M66.4 188.4h0M68.5 190h0M70.7 191.7h0M72.9 193.4h0M75 195.1h0M53 181h0M55.2 182.6h0M63.8 189.4h0M66 191.1h0M68.2 192.8h0M70.3 194.4h0M72.5 196.1h0M74.6 197.8h0M76.8 199.5h0M52.7 183.7h0M54.8 185.4h0M57 187h0M63.5 192.1h0M65.6 193.8h0M67.8 195.5h0M69.9 197.2h0M72.1 198.8h0M74.2 200.5h0M76.4 202.2h0M52.3 186.4h0M58.8 191.4h0M60.9 193.1h0M69.5 199.9h0M71.7 201.6h0M73.9 203.3h0M54.1 190.8h0M56.2 192.5h0M58.4 194.2h0M62.7 197.5h0M64.8 199.2h0M69.2 202.6h0M53.7 193.5h0M55.8 195.2h0M58 196.9h0M64.5 201.9h0M66.6 203.6h0M55.4 197.9h0M57.6 199.6h0M59.8 201.3h0M64.1 204.6h0M66.2 206.3h0M61.5 205.7h0M63.7 207.4h0" stroke="#faec18" stroke-width="1.5" stroke-linecap="round" fill="none"/>
<path d="M135 12.7h0M137.7 13.2h0M122.5 12.9h0M125.2 13.4h0M127.9 13.8h0M130.6 14.3h0M133.3 14.8h0M136 15.3h0M138.7 15.7h0M107.2 12.6h0M109.9 13.1h0M112.6 13.6h0M115.3 14h0M118 14.5h0M120.7 15h0M123.4 15.5h0M126.1 15.9h0M128.8 16.4h0M131.5 16.9h0M134.2 17.4h0M136.9 17.8h0M94.7 12.8h0M97.4 13.3h0M100.1 13.8h0M102.8 14.2h0M105.5 14.7h0M108.2 15.2h0M121.7 17.6h0M132.4 19.5h0M135.1 19.9h0M137.8 20.4h0M82.1 13h0M84.8 13.5h0M87.5 13.9h0M90.2 14.4h0M92.9 14.9h0M95.6 15.4h0M98.3 15.9h0M101 16.3h0M103.7 16.8h0M106.4 17.3h0M109.1 17.8h0M119.9 19.7h0M122.6 20.1h0M130.7 21.6h0M133.4 22h0M136.1 22.5h0M66.9 12.7h0M69.6 13.2h0M72.3 13.7h0M75 14.1h0M77.7 14.6h0M80.4 15.1h0M83.1 15.6h0M85.8 16h0M88.5 16.5h0M91.1 17h0M93.8 17.5h0M96.5 18h0M101.9 18.9h0M104.6 19.4h0M107.3 19.9h0M110 20.3h0M112.7 20.8h0M115.4 21.3h0M118.1 21.8h0M120.8 22.2h0M123.5 22.7h0M128.9 23.7h0M131.6 24.1h0M134.3 24.6h0M137 25.1h0M54.3 12.9h0M57 13.4h0M59.7 13.9h0M67.8 15.3h0M70.5 15.8h0M73.2 16.2h0M81.3 17.7h0M86.7 18.6h0M89.4 19.1h0M92.1 19.6h0M94.8 20.1h0M97.5 20.5h0M102.9 21.5h0M105.6 22h0M108.3 22.4h0M111 22.9h0M113.7 23.4h0M116.4 23.9h0M119.1 24.3h0M121.8 24.8h0M124.5 25.3h0M127.2 25.8h0M129.9 26.2h0M132.6 26.7h0M39.1 12.6h0M41.8 13.1h0M44.5 13.6h0M47.2 14.1h0M49.8 14.5h0M52.5 15h0M55.2 15.5h0M57.9 16h0M66 17.4h0M68.7 17.9h0M79.5 19.8h0M90.3 21.7h0M93 22.1h0M95.7 22.6h0M98.4 23.1h0M101.1 23.6h0M103.8 24.1h0M106.5 24.5h0M109.2 25h0M111.9 25.5h0M114.6 26h0M117.3 26.4h0M120 26.9h0M122.7 27.4h0M125.4 27.9h0M128.1 28.3h0M130.8 28.8h0M31.9 13.8h0M34.6 14.3h0M37.3 14.7h0M40 15.2h0M42.7 15.7h0M45.4 16.2h0M48.1 16.6h0M50.8 17.1h0M53.5 17.6h0M56.2 18.1h0M58.9 18.5h0M61.6 19h0M64.3 19.5h0M67 20h0M69.7 20.4h0M72.4 20.9h0M75.1 21.4h0M77.8 21.9h0M80.5 22.3h0M83.2 22.8h0M88.6 23.8h0M91.3 24.2h0M99.4 25.7h0M102.1 26.2h0M104.8 26.6h0M107.5 27.1h0M110.2 27.6h0M112.8 28.1h0M115.5 28.5h0M118.2 29h0M120.9 29.5h0M123.6 30h0M126.3 30.4h0M129 30.9h0M32.8 16.4h0M35.5 16.8h0M38.2 17.3h0M40.9 17.8h0M43.6 18.3h0M46.3 18.7h0M49 19.2h0M51.7 19.7h0M54.4 20.2h0M57.1 20.6h0M59.8 21.1h0M62.5 21.6h0M65.2 22.1h0M67.9 22.5h0M70.6 23h0M73.3 23.5h0M76 24h0M78.7 24.4h0M81.4 24.9h0M84.1 25.4h0M86.8 25.9h0M89.5 26.3h0M92.2 26.8h0M97.6 27.8h0M100.3 28.3h0M103 28.7h0M105.7 29.2h0M108.4 29.7h0M111.1 30.2h0M113.8 30.6h0M116.5 31.1h0M119.2 31.6h0M121.9 32.1h0M124.6 32.5h0M127.3 33h0M130 33.5h0M31.1 18.5h0M33.8 18.9h0M36.5 19.4h0M39.2 19.9h0M44.6 20.8h0M47.3 21.3h0M50 21.8h0M52.7 22.3h0M55.4 22.7h0M60.8 23.7h0M63.5 24.2h0M66.2 24.6h0M68.9 25.1h0M71.5 25.6h0M74.2 26.1h0M76.9 26.5h0M79.6 27h0M82.3 27.5h0M85 28h0M87.7 28.4h0M90.4 28.9h0M93.1 29.4h0M95.8 29.9h0M98.5 30.3h0M101.2 30.8h0M103.9 31.3h0M106.6 31.8h0M109.3 32.3h0M112 32.7h0M114.7 33.2h0M117.4 33.7h0M120.1 34.2h0M122.8 34.6h0M125.5 35.1h0M128.2 35.6h0M130.9 36.1h0M133.6 36.5h0M32 21h0M34.7 21.5h0M37.4 22h0M42.8 22.9h0M56.3 25.3h0M61.7 26.3h0M64.4 26.7h0M67.1 27.2h0M69.8 27.7h0M72.5 28.2h0M75.2 28.6h0M77.9 29.1h0M80.6 29.6h0M83.3 30.1h0M86 30.5h0M88.7 31h0M91.4 31.5h0M94.1 32h0M96.8 32.4h0M99.5 32.9h0M102.2 33.4h0M104.9 33.9h0M107.6 34.4h0M110.3 34.8h0M113 35.3h0M115.7 35.8h0M118.4 36.3h0M121.1 36.7h0M123.8 37.2h0M126.5 37.7h0M129.2 38.2h0M131.9 38.6h0M32.9 23.6h0M35.6 24.1h0M38.3 24.6h0M41 25h0M43.7 25.5h0M57.2 27.9h0M59.9 28.4h0M62.6 28.8h0M65.3 29.3h0M68 29.8h0M70.7 30.3h0M73.4 30.7h0M76.1 31.2h0M78.8 31.7h0M81.5 32.2h0M84.2 32.6h0M86.9 33.1h0M92.3 34.1h0M95 34.5h0M97.7 35h0M100.4 35.5h0M103.1 36h0M113.9 37.9h0M116.6 38.4h0M119.3 38.8h0M122 39.3h0M124.7 39.8h0M127.4 40.3h0M130.1 40.7h0M132.8 41.2h0M135.5 41.7h0M33.9 26.2h0M36.6 26.7h0M39.3 27.1h0M44.7 28.1h0M52.8 29.5h0M55.5 30h0M58.2 30.5h0M60.9 30.9h0M63.6 31.4h0M66.3 31.9h0M69 32.4h0M71.7 32.8h0M74.4 33.3h0M77.1 33.8h0M79.8 34.3h0M82.5 34.7h0M85.2 35.2h0M87.9 35.7h0M90.6 36.2h0M93.2 36.6h0M95.9 37.1h0M98.6 37.6h0M120.2 41.4h0M122.9 41.9h0M125.6 42.4h0M128.3 42.8h0M131 43.3h0M133.7 43.8h0M32.1 28.3h0M34.8 28.8h0M37.5 29.2h0M40.2 29.7h0M42.9 30.2h0M45.6 30.7h0M48.3 31.1h0M51 31.6h0M53.7 32.1h0M56.4 32.6h0M59.1 33h0M61.8 33.5h0M64.5 34h0M67.2 34.5h0M69.9 34.9h0M72.6 35.4h0M75.3 35.9h0M78 36.4h0M80.7 36.8h0M83.4 37.3h0M86.1 37.8h0M88.8 38.3h0M96.9 39.7h0M121.2 44h0M123.9 44.5h0M126.6 44.9h0M129.3 45.4h0M132 45.9h0M134.7 46.4h0M33.1 30.9h0M35.8 31.3h0M38.5 31.8h0M41.2 32.3h0M43.9 32.8h0M46.6 33.2h0M49.3 33.7h0M52 34.2h0M54.6 34.7h0M57.3 35.1h0M60 35.6h0M62.7 36.1h0M65.4 36.6h0M68.1 37h0M70.8 37.5h0M73.5 38h0M76.2 38.5h0M78.9 38.9h0M81.6 39.4h0M84.3 39.9h0M87 40.4h0M124.8 47h0M127.5 47.5h0M130.2 48h0M132.9 48.5h0M34 33.4h0M36.7 33.9h0M39.4 34.4h0M42.1 34.9h0M44.8 35.3h0M47.5 35.8h0M50.2 36.3h0M52.9 36.8h0M55.6 37.2h0M58.3 37.7h0M61 38.2h0M63.7 38.7h0M66.4 39.1h0M69.1 39.6h0M71.8 40.1h0M74.5 40.6h0M77.2 41h0M79.9 41.5h0M82.6 42h0M85.3 42.5h0M88 42.9h0M125.7 49.6h0M128.4 50.1h0M131.1 50.6h0M133.8 51h0M34.9 36h0M37.6 36.5h0M40.3 37h0M43 37.4h0M45.7 37.9h0M48.4 38.4h0M51.1 38.9h0M53.8 39.3h0M56.5 39.8h0M59.2 40.3h0M61.9 40.8h0M64.6 41.2h0M67.3 41.7h0M70 42.2h0M72.7 42.7h0M75.4 43.1h0M78.1 43.6h0M80.8 44.1h0M83.5 44.6h0M86.2 45h0M91.6 46h0M132.1 53.1h0M33.2 38.1h0M38.6 39.1h0M41.3 39.5h0M44 40h0M46.7 40.5h0M49.4 41h0M52.1 41.4h0M54.8 41.9h0M57.5 42.4h0M60.2 42.9h0M62.9 43.3h0M65.6 43.8h0M68.3 44.3h0M71 44.8h0M73.7 45.2h0M76.3 45.7h0M79 46.2h0M81.7 46.7h0M84.4 47.1h0M87.1 47.6h0M133 55.7h0M34.1 40.7h0M36.8 41.2h0M39.5 41.6h0M42.2 42.1h0M44.9 42.6h0M47.6 43.1h0M50.3 43.5h0M53 44h0M55.7 44.5h0M58.4 45h0M61.1 45.4h0M63.8 45.9h0M66.5 46.4h0M69.2 46.9h0M71.9 47.3h0M74.6 47.8h0M77.3 48.3h0M80 48.8h0M82.7 49.2h0M85.4 49.7h0M88.1 50.2h0M125.9 56.9h0M128.6 57.3h0M131.3 57.8h0M134 58.3h0M35 43.3h0M37.7 43.7h0M40.4 44.2h0M43.1 44.7h0M45.8 45.2h0M48.5 45.6h0M51.2 46.1h0M53.9 46.6h0M56.6 47.1h0M59.3 47.5h0M62 48h0M64.7 48.5h0M67.4 49h0M70.1 49.4h0M72.8 49.9h0M75.5 50.4h0M78.2 50.9h0M80.9 51.3h0M83.6 51.8h0M86.3 52.3h0M89 52.8h0M126.8 59.4h0M129.5 59.9h0M132.2 60.4h0M36 45.8h0M38.7 46.3h0M41.4 46.8h0M44.1 47.3h0M46.8 47.7h0M49.5 48.2h0M52.2 48.7h0M54.9 49.2h0M57.6 49.6h0M60.3 50.1h0M63 50.6h0M65.7 51.1h0M68.4 51.5h0M71.1 52h0M73.8 52.5h0M76.5 53h0M79.2 53.4h0M81.9 53.9h0M84.6 54.4h0M87.3 54.9h0M127.7 62h0M130.4 62.5h0M133.1 63h0M34.2 47.9h0M36.9 48.4h0M39.6 48.9h0M42.3 49.4h0M45 49.8h0M47.7 50.3h0M50.4 50.8h0M53.1 51.3h0M55.8 51.7h0M58.5 52.2h0M61.2 52.7h0M63.9 53.2h0M66.6 53.6h0M69.3 54.1h0M72 54.6h0M74.7 55.1h0M77.4 55.5h0M80.1 56h0M82.8 56.5h0M85.5 57h0M88.2 57.4h0M128.7 64.6h0M131.4 65.1h0M35.2 50.5h0M37.9 51h0M40.6 51.5h0M43.3 51.9h0M46 52.4h0M48.7 52.9h0M51.4 53.4h0M54.1 53.8h0M56.7 54.3h0M59.4 54.8h0M62.1 55.3h0M64.8 55.7h0M67.5 56.2h0M70.2 56.7h0M72.9 57.2h0M75.6 57.6h0M78.3 58.1h0M81 58.6h0M83.7 59.1h0M86.4 59.5h0M126.9 66.7h0M129.6 67.2h0M132.3 67.6h0M36.1 53.1h0M38.8 53.5h0M41.5 54h0M44.2 54.5h0M46.9 55h0M49.6 55.5h0M52.3 55.9h0M55 56.4h0M57.7 56.9h0M60.4 57.4h0M63.1 57.8h0M65.8 58.3h0M68.5 58.8h0M71.2 59.3h0M73.9 59.7h0M76.6 60.2h0M79.3 60.7h0M82 61.2h0M84.7 61.6h0M87.4 62.1h0M130.5 69.7h0M37 55.6h0M39.7 56.1h0M42.4 56.6h0M45.1 57.1h0M47.8 57.6h0M50.5 58h0M53.2 58.5h0M55.9 59h0M58.6 59.5h0M61.3 59.9h0M64 60.4h0M66.7 60.9h0M69.4 61.4h0M72.1 61.8h0M74.8 62.3h0M77.5 62.8h0M80.2 63.3h0M82.9 63.7h0M85.6 64.2h0M88.3 64.7h0M131.5 72.3h0M38 58.2h0M40.7 58.7h0M43.4 59.2h0M46.1 59.7h0M48.8 60.1h0M51.5 60.6h0M54.2 61.1h0M56.9 61.6h0M59.6 62h0M62.3 62.5h0M65 63h0M67.7 63.5h0M70.4 63.9h0M73.1 64.4h0M75.8 64.9h0M78.4 65.4h0M81.1 65.8h0M83.8 66.3h0M86.5 66.8h0M127 73.9h0M129.7 74.4h0M36.2 60.3h0M38.9 60.8h0M41.6 61.3h0M44.3 61.7h0M47 62.2h0M49.7 62.7h0M52.4 63.2h0M55.1 63.7h0M57.8 64.1h0M60.5 64.6h0M63.2 65.1h0M65.9 65.6h0M68.6 66h0M71.3 66.5h0M74 67h0M76.7 67.5h0M79.4 67.9h0M82.1 68.4h0M84.8 68.9h0M87.5 69.4h0M125.3 76h0M128 76.5h0M130.7 77h0M37.1 62.9h0M42.5 63.8h0M50.6 65.3h0M53.3 65.8h0M56 66.2h0M58.7 66.7h0M61.4 67.2h0M64.1 67.7h0M66.8 68.1h0M69.5 68.6h0M72.2 69.1h0M74.9 69.6h0M77.6 70h0M80.3 70.5h0M83 71h0M85.7 71.5h0M123.5 78.1h0M126.2 78.6h0M128.9 79.1h0M48.9 67.4h0M51.6 67.9h0M54.3 68.3h0M57 68.8h0M59.7 69.3h0M62.4 69.8h0M65.1 70.2h0M67.8 70.7h0M70.5 71.2h0M73.2 71.7h0M75.9 72.1h0M78.6 72.6h0M81.3 73.1h0M84 73.6h0M86.7 74h0M124.4 80.7h0M127.1 81.2h0M129.8 81.6h0M41.7 68.5h0M44.4 69h0M49.8 70h0M52.5 70.4h0M55.2 70.9h0M57.9 71.4h0M60.6 71.9h0M63.3 72.3h0M66 72.8h0M68.7 73.3h0M71.4 73.8h0M74.1 74.2h0M76.8 74.7h0M79.5 75.2h0M82.2 75.7h0M84.9 76.1h0M87.6 76.6h0M90.3 77.1h0M122.7 82.8h0M125.4 83.3h0M128.1 83.7h0M37.3 70.1h0M40 70.6h0M42.7 71.1h0M50.8 72.5h0M53.5 73h0M56.2 73.5h0M58.8 74h0M61.5 74.4h0M64.2 74.9h0M66.9 75.4h0M69.6 75.9h0M72.3 76.3h0M75 76.8h0M77.7 77.3h0M80.4 77.8h0M83.1 78.2h0M85.8 78.7h0M88.5 79.2h0M91.2 79.7h0M120.9 84.9h0M123.6 85.4h0M126.3 85.8h0M129 86.3h0M38.2 72.7h0M40.9 73.2h0M43.6 73.7h0M49 74.6h0M51.7 75.1h0M54.4 75.6h0M57.1 76.1h0M59.8 76.5h0M62.5 77h0M65.2 77.5h0M67.9 78h0M70.6 78.4h0M73.3 78.9h0M76 79.4h0M78.7 79.9h0M81.4 80.3h0M84.1 80.8h0M86.8 81.3h0M89.5 81.8h0M119.2 87h0M121.8 87.5h0M124.5 87.9h0M127.2 88.4h0M129.9 88.9h0M39.1 75.3h0M41.8 75.8h0M44.5 76.2h0M47.2 76.7h0M49.9 77.2h0M52.6 77.7h0M55.3 78.2h0M58 78.6h0M60.7 79.1h0M63.4 79.6h0M66.1 80.1h0M68.8 80.5h0M71.5 81h0M74.2 81.5h0M76.9 82h0M79.6 82.4h0M82.3 82.9h0M85 83.4h0M87.7 83.9h0M93.1 84.8h0M95.8 85.3h0M114.7 88.6h0M117.4 89.1h0M120.1 89.6h0M122.8 90h0M125.5 90.5h0M128.2 91h0M40.1 77.9h0M42.8 78.3h0M45.5 78.8h0M48.2 79.3h0M50.9 79.8h0M53.6 80.2h0M56.3 80.7h0M59 81.2h0M61.7 81.7h0M64.4 82.2h0M67.1 82.6h0M69.8 83.1h0M72.5 83.6h0M75.2 84.1h0M77.9 84.5h0M80.5 85h0M83.2 85.5h0M85.9 86h0M121 92.1h0M123.7 92.6h0M126.4 93.1h0M129.1 93.6h0M38.3 80h0M41 80.4h0M51.8 82.3h0M54.5 82.8h0M57.2 83.3h0M59.9 83.8h0M62.6 84.3h0M65.3 84.7h0M68 85.2h0M70.7 85.7h0M73.4 86.2h0M76.1 86.6h0M78.8 87.1h0M81.5 87.6h0M92.3 89.5h0M103.1 91.4h0M105.8 91.9h0M116.6 93.8h0M119.3 94.2h0M122 94.7h0M127.4 95.7h0M39.2 82.5h0M41.9 83h0M50 84.4h0M52.7 84.9h0M55.4 85.4h0M58.1 85.9h0M60.8 86.4h0M63.5 86.8h0M66.2 87.3h0M68.9 87.8h0M71.6 88.3h0M74.3 88.7h0M77 89.2h0M79.7 89.7h0M82.4 90.2h0M93.2 92.1h0M98.6 93h0M101.3 93.5h0M104 94h0M106.7 94.4h0M109.4 94.9h0M112.1 95.4h0M114.8 95.9h0M117.5 96.3h0M122.9 97.3h0M128.3 98.2h0M40.2 85.1h0M42.9 85.6h0M45.6 86.1h0M48.3 86.5h0M51 87h0M53.7 87.5h0M56.4 88h0M59.1 88.4h0M61.8 88.9h0M64.5 89.4h0M67.2 89.9h0M80.7 92.3h0M83.4 92.7h0M86.1 93.2h0M88.8 93.7h0M91.5 94.2h0M94.2 94.6h0M96.9 95.1h0M99.6 95.6h0M102.2 96.1h0M104.9 96.5h0M107.6 97h0M110.3 97.5h0M113 98h0M115.7 98.4h0M118.4 98.9h0M126.5 100.3h0M41.1 87.7h0M43.8 88.2h0M46.5 88.6h0M49.2 89.1h0M51.9 89.6h0M54.6 90.1h0M57.3 90.5h0M60 91h0M62.7 91.5h0M70.8 92.9h0M76.2 93.9h0M81.6 94.8h0M84.3 95.3h0M87 95.8h0M89.7 96.3h0M92.4 96.7h0M95.1 97.2h0M97.8 97.7h0M100.5 98.2h0M103.2 98.6h0M105.9 99.1h0M108.6 99.6h0M111.3 100.1h0M114 100.5h0M116.7 101h0M119.4 101.5h0M122.1 102h0M124.8 102.4h0M127.5 102.9h0M42.1 90.3h0M44.8 90.7h0M47.5 91.2h0M50.2 91.7h0M52.9 92.2h0M55.6 92.6h0M58.3 93.1h0M60.9 93.6h0M66.3 94.6h0M69 95h0M71.7 95.5h0M74.4 96h0M77.1 96.5h0M79.8 96.9h0M82.5 97.4h0M85.2 97.9h0M87.9 98.4h0M90.6 98.8h0M96 99.8h0M98.7 100.3h0M101.4 100.7h0M104.1 101.2h0M106.8 101.7h0M109.5 102.2h0M112.2 102.6h0M114.9 103.1h0M125.7 105h0M40.3 92.4h0M43 92.8h0M45.7 93.3h0M48.4 93.8h0M59.2 95.7h0M61.9 96.2h0M64.6 96.6h0M67.3 97.1h0M70 97.6h0M72.7 98.1h0M75.4 98.6h0M80.8 99.5h0M86.2 100.5h0M88.9 100.9h0M91.6 101.4h0M94.3 101.9h0M97 102.4h0M99.7 102.8h0M102.4 103.3h0M105.1 103.8h0M107.8 104.3h0M110.5 104.7h0M113.2 105.2h0M126.6 107.6h0M41.2 94.9h0M43.9 95.4h0M46.6 95.9h0M54.7 97.3h0M57.4 97.8h0M60.1 98.3h0M62.8 98.7h0M65.5 99.2h0M68.2 99.7h0M70.9 100.2h0M73.6 100.7h0M76.3 101.1h0M79 101.6h0M87.1 103h0M95.2 104.5h0M97.9 104.9h0M100.6 105.4h0M103.3 105.9h0M106 106.4h0M108.7 106.8h0M111.4 107.3h0M114.1 107.8h0M116.8 108.3h0M119.5 108.7h0M122.2 109.2h0M124.9 109.7h0M42.2 97.5h0M44.9 98h0M47.6 98.5h0M50.3 98.9h0M53 99.4h0M55.7 99.9h0M58.4 100.4h0M61.1 100.8h0M63.8 101.3h0M66.5 101.8h0M69.2 102.3h0M71.9 102.8h0M74.6 103.2h0M77.3 103.7h0M80 104.2h0M82.6 104.7h0M90.7 106.1h0M93.4 106.6h0M96.1 107h0M98.8 107.5h0M101.5 108h0M104.2 108.5h0M106.9 108.9h0M109.6 109.4h0M112.3 109.9h0M115 110.4h0M117.7 110.8h0M120.4 111.3h0M123.1 111.8h0M125.8 112.3h0M43.1 100.1h0M45.8 100.6h0M48.5 101h0M51.2 101.5h0M53.9 102h0M56.6 102.5h0M59.3 102.9h0M62 103.4h0M64.7 103.9h0M67.4 104.4h0M70.1 104.8h0M72.8 105.3h0M75.5 105.8h0M78.2 106.3h0M80.9 106.8h0M83.6 107.2h0M86.3 107.7h0M89 108.2h0M91.7 108.7h0M94.4 109.1h0M97.1 109.6h0M99.8 110.1h0M102.5 110.6h0M105.2 111h0M107.9 111.5h0M110.6 112h0M113.3 112.5h0M116 112.9h0M118.7 113.4h0M121.4 113.9h0M124.1 114.4h0M126.8 114.8h0M41.3 102.2h0M44 102.7h0M46.7 103.1h0M49.4 103.6h0M52.1 104.1h0M54.8 104.6h0M57.5 105h0M60.2 105.5h0M62.9 106h0M65.6 106.5h0M68.3 106.9h0M71 107.4h0M73.7 107.9h0M76.4 108.4h0M79.1 108.9h0M81.8 109.3h0M84.5 109.8h0M87.2 110.3h0M92.6 111.2h0M95.3 111.7h0M98 112.2h0M100.7 112.7h0M103.4 113.1h0M106.1 113.6h0M108.8 114.1h0M111.5 114.6h0M114.2 115h0M116.9 115.5h0M119.6 116h0M122.3 116.5h0M125 116.9h0M42.3 104.8h0M45 105.2h0M47.7 105.7h0M50.4 106.2h0M53.1 106.7h0M55.8 107.1h0M58.5 107.6h0M61.2 108.1h0M63.9 108.6h0M66.6 109h0M69.3 109.5h0M72 110h0M74.7 110.5h0M77.4 111h0M80.1 111.4h0M82.8 111.9h0M85.5 112.4h0M93.6 113.8h0M96.3 114.3h0M99 114.8h0M101.7 115.2h0M104.3 115.7h0M107 116.2h0M109.7 116.7h0M112.4 117.1h0M115.1 117.6h0M117.8 118.1h0M120.5 118.6h0M123.2 119h0M125.9 119.5h0M43.2 107.3h0M45.9 107.8h0M51.3 108.8h0M54 109.2h0M56.7 109.7h0M59.4 110.2h0M62.1 110.7h0M64.8 111.1h0M67.5 111.6h0M70.2 112.1h0M72.9 112.6h0M75.6 113h0M78.3 113.5h0M86.4 115h0M89.1 115.4h0M91.8 115.9h0M94.5 116.4h0M97.2 116.9h0M99.9 117.3h0M102.6 117.8h0M105.3 118.3h0M108 118.8h0M110.7 119.2h0M113.4 119.7h0M116.1 120.2h0M118.8 120.7h0M121.5 121.1h0M124.2 121.6h0M46.9 110.4h0M49.6 110.9h0M52.3 111.3h0M55 111.8h0M57.7 112.3h0M60.4 112.8h0M63 113.2h0M65.7 113.7h0M68.4 114.2h0M71.1 114.7h0M73.8 115.1h0M76.5 115.6h0M79.2 116.1h0M92.7 118.5h0M95.4 119h0M98.1 119.4h0M100.8 119.9h0M103.5 120.4h0M106.2 120.9h0M108.9 121.3h0M111.6 121.8h0M114.3 122.3h0M117 122.8h0M119.7 123.2h0M122.4 123.7h0M125.1 124.2h0M45.1 112.5h0M53.2 113.9h0M55.9 114.4h0M58.6 114.9h0M61.3 115.3h0M64 115.8h0M66.7 116.3h0M69.4 116.8h0M72.1 117.2h0M74.8 117.7h0M77.5 118.2h0M80.2 118.7h0M82.9 119.2h0M85.6 119.6h0M91 120.6h0M93.7 121.1h0M96.4 121.5h0M99.1 122h0M101.8 122.5h0M104.5 123h0M107.2 123.4h0M109.9 123.9h0M112.6 124.4h0M115.3 124.9h0M118 125.3h0M120.7 125.8h0M123.4 126.3h0M43.3 114.6h0M46 115.1h0M51.4 116h0M54.1 116.5h0M56.8 117h0M59.5 117.4h0M62.2 117.9h0M64.9 118.4h0M67.6 118.9h0M70.3 119.3h0M73 119.8h0M75.7 120.3h0M78.4 120.8h0M81.1 121.2h0M83.8 121.7h0M86.5 122.2h0M94.6 123.6h0M97.3 124.1h0M100 124.6h0M102.7 125.1h0M105.4 125.5h0M108.1 126h0M110.8 126.5h0M113.5 127h0M116.2 127.4h0M118.9 127.9h0M121.6 128.4h0M124.3 128.9h0M44.3 117.2h0M47 117.6h0M49.7 118.1h0M52.4 118.6h0M55.1 119.1h0M57.8 119.5h0M60.5 120h0M63.2 120.5h0M65.9 121h0M68.6 121.4h0M71.3 121.9h0M74 122.4h0M76.7 122.9h0M79.4 123.3h0M82.1 123.8h0M84.8 124.3h0M95.5 126.2h0M98.2 126.7h0M100.9 127.2h0M103.6 127.6h0M106.3 128.1h0M109 128.6h0M111.7 129.1h0M114.4 129.5h0M117.1 130h0M119.8 130.5h0M122.5 131h0M45.2 119.7h0M47.9 120.2h0M50.6 120.7h0M53.3 121.2h0M56 121.6h0M58.7 122.1h0M61.4 122.6h0M64.1 123.1h0M66.8 123.5h0M69.5 124h0M72.2 124.5h0M74.9 125h0M77.6 125.4h0M80.3 125.9h0M83 126.4h0M85.7 126.9h0M93.8 128.3h0M96.5 128.8h0M99.2 129.3h0M101.9 129.7h0M104.6 130.2h0M107.3 130.7h0M110 131.2h0M112.7 131.6h0M115.4 132.1h0M118.1 132.6h0M120.8 133.1h0M123.5 133.5h0M43.5 121.8h0M46.1 122.3h0M48.8 122.8h0M51.5 123.3h0M54.2 123.7h0M56.9 124.2h0M59.6 124.7h0M62.3 125.2h0M65 125.6h0M67.7 126.1h0M70.4 126.6h0M73.1 127.1h0M75.8 127.5h0M78.5 128h0M81.2 128.5h0M83.9 129h0M86.6 129.4h0M89.3 129.9h0M92 130.4h0M94.7 130.9h0M97.4 131.4h0M100.1 131.8h0M102.8 132.3h0M105.5 132.8h0M108.2 133.3h0M110.9 133.7h0M113.6 134.2h0M116.3 134.7h0M119 135.2h0M121.7 135.6h0M44.4 124.4h0M47.1 124.9h0M49.8 125.4h0M52.5 125.8h0M55.2 126.3h0M57.9 126.8h0M60.6 127.3h0M63.3 127.7h0M66 128.2h0M68.7 128.7h0M71.4 129.2h0M74.1 129.6h0M76.8 130.1h0M79.5 130.6h0M82.2 131.1h0M84.9 131.5h0M87.6 132h0M90.3 132.5h0M93 133h0M95.7 133.5h0M98.4 133.9h0M101.1 134.4h0M103.8 134.9h0M106.5 135.4h0M109.1 135.8h0M111.8 136.3h0M114.5 136.8h0M117.2 137.3h0M119.9 137.7h0M122.6 138.2h0M45.3 127h0M48 127.5h0M50.7 127.9h0M53.4 128.4h0M56.1 128.9h0M58.8 129.4h0M61.5 129.8h0M64.2 130.3h0M66.9 130.8h0M69.6 131.3h0M72.3 131.7h0M75 132.2h0M77.7 132.7h0M80.4 133.2h0M83.1 133.6h0M85.8 134.1h0M93.9 135.6h0M96.6 136h0M99.3 136.5h0M102 137h0M104.7 137.5h0M107.4 137.9h0M110.1 138.4h0M112.8 138.9h0M115.5 139.4h0M118.2 139.8h0M120.9 140.3h0M123.6 140.8h0M46.3 129.6h0M49 130h0M51.7 130.5h0M54.4 131h0M57.1 131.5h0M59.8 131.9h0M62.5 132.4h0M65.2 132.9h0M67.8 133.4h0M70.5 133.8h0M73.2 134.3h0M75.9 134.8h0M78.6 135.3h0M81.3 135.7h0M84 136.2h0M89.4 137.2h0M94.8 138.1h0M97.5 138.6h0M100.2 139.1h0M102.9 139.6h0M105.6 140h0M108.3 140.5h0M111 141h0M113.7 141.5h0M116.4 141.9h0M119.1 142.4h0M121.8 142.9h0M47.2 132.1h0M49.9 132.6h0M52.6 133.1h0M55.3 133.6h0M58 134h0M60.7 134.5h0M63.4 135h0M66.1 135.5h0M68.8 135.9h0M71.5 136.4h0M74.2 136.9h0M76.9 137.4h0M79.6 137.8h0M82.3 138.3h0M85 138.8h0M93.1 140.2h0M95.8 140.7h0M98.5 141.2h0M101.2 141.7h0M103.9 142.1h0M106.6 142.6h0M109.3 143.1h0M112 143.6h0M114.7 144h0M117.4 144.5h0M120.1 145h0M122.8 145.5h0M50.8 135.2h0M53.5 135.7h0M56.2 136.1h0M58.9 136.6h0M61.6 137.1h0M64.3 137.6h0M67 138h0M69.7 138.5h0M72.4 139h0M75.1 139.5h0M77.8 139.9h0M80.5 140.4h0M83.2 140.9h0M85.9 141.4h0M91.3 142.3h0M94 142.8h0M96.7 143.3h0M99.4 143.8h0M102.1 144.2h0M104.8 144.7h0M112.9 146.1h0M115.6 146.6h0M118.3 147.1h0M121 147.6h0M46.4 136.8h0M49.1 137.3h0M51.8 137.8h0M54.5 138.2h0M57.2 138.7h0M59.9 139.2h0M62.6 139.7h0M65.3 140.1h0M68 140.6h0M70.7 141.1h0M73.4 141.6h0M76.1 142h0M78.8 142.5h0M81.5 143h0M84.2 143.5h0M86.9 143.9h0M89.5 144.4h0M97.6 145.8h0M103 146.8h0M113.8 148.7h0M116.5 149.2h0M119.2 149.7h0M121.9 150.1h0M47.3 139.4h0M50 139.9h0M52.7 140.3h0M55.4 140.8h0M58.1 141.3h0M60.8 141.8h0M63.5 142.2h0M66.2 142.7h0M68.9 143.2h0M71.6 143.7h0M74.3 144.1h0M77 144.6h0M79.7 145.1h0M82.4 145.6h0M85.1 146h0M87.8 146.5h0M90.5 147h0M104 149.4h0M106.7 149.9h0M112.1 150.8h0M114.8 151.3h0M117.5 151.8h0M120.2 152.2h0M48.2 142h0M50.9 142.4h0M53.6 142.9h0M56.3 143.4h0M59 143.9h0M61.7 144.3h0M64.4 144.8h0M67.1 145.3h0M69.8 145.8h0M72.5 146.2h0M75.2 146.7h0M77.9 147.2h0M80.6 147.7h0M83.3 148.1h0M86 148.6h0M91.4 149.6h0M94.1 150h0M102.2 151.5h0M104.9 152h0M107.6 152.4h0M110.3 152.9h0M113 153.4h0M115.7 153.9h0M118.4 154.3h0M121.1 154.8h0M46.5 144.1h0M49.2 144.5h0M51.9 145h0M54.6 145.5h0M57.3 146h0M60 146.4h0M62.7 146.9h0M65.4 147.4h0M68.1 147.9h0M70.8 148.3h0M73.5 148.8h0M76.2 149.3h0M78.9 149.8h0M81.6 150.2h0M84.3 150.7h0M89.7 151.7h0M95.1 152.6h0M97.8 153.1h0M100.5 153.6h0M103.2 154h0M105.9 154.5h0M108.6 155h0M111.2 155.5h0M113.9 156h0M116.6 156.4h0M119.3 156.9h0M47.4 146.6h0M50.1 147.1h0M52.8 147.6h0M55.5 148.1h0M58.2 148.5h0M60.9 149h0M63.6 149.5h0M66.3 150h0M69 150.4h0M71.7 150.9h0M74.4 151.4h0M77.1 151.9h0M79.8 152.3h0M82.5 152.8h0M90.6 154.2h0M93.3 154.7h0M96 155.2h0M98.7 155.7h0M101.4 156.1h0M104.1 156.6h0M106.8 157.1h0M109.5 157.6h0M112.2 158.1h0M114.9 158.5h0M117.6 159h0M120.3 159.5h0M48.4 149.2h0M51.1 149.7h0M53.8 150.2h0M56.5 150.6h0M59.2 151.1h0M61.9 151.6h0M64.6 152.1h0M67.3 152.5h0M69.9 153h0M72.6 153.5h0M75.3 154h0M78 154.4h0M86.1 155.9h0M91.5 156.8h0M94.2 157.3h0M96.9 157.8h0M99.6 158.2h0M102.3 158.7h0M105 159.2h0M107.7 159.7h0M110.4 160.2h0M113.1 160.6h0M115.8 161.1h0M118.5 161.6h0M49.3 151.8h0M52 152.3h0M54.7 152.7h0M57.4 153.2h0M60.1 153.7h0M62.8 154.2h0M65.5 154.6h0M73.6 156.1h0M76.3 156.5h0M79 157h0M81.7 157.5h0M84.4 158h0M87.1 158.4h0M89.8 158.9h0M92.5 159.4h0M95.2 159.9h0M97.9 160.3h0M100.6 160.8h0M103.3 161.3h0M106 161.8h0M108.7 162.2h0M111.4 162.7h0M114.1 163.2h0M116.8 163.7h0M119.5 164.2h0M47.5 153.9h0M52.9 154.8h0M55.6 155.3h0M58.3 155.8h0M61 156.3h0M77.2 159.1h0M79.9 159.6h0M82.6 160.1h0M85.3 160.5h0M88 161h0M90.7 161.5h0M93.4 162h0M96.1 162.4h0M98.8 162.9h0M101.5 163.4h0M104.2 163.9h0M106.9 164.3h0M109.6 164.8h0M112.3 165.3h0M115 165.8h0M117.7 166.3h0M120.4 166.7h0M51.2 156.9h0M53.9 157.4h0M56.6 157.9h0M59.3 158.4h0M78.2 161.7h0M80.9 162.2h0M89 163.6h0M91.6 164.1h0M94.3 164.5h0M97 165h0M99.7 165.5h0M102.4 166h0M105.1 166.4h0M107.8 166.9h0M110.5 167.4h0M113.2 167.9h0M115.9 168.4h0M118.6 168.8h0M54.8 160h0M57.5 160.5h0M79.1 164.3h0M81.8 164.7h0M89.9 166.2h0M92.6 166.6h0M95.3 167.1h0M98 167.6h0M100.7 168.1h0M103.4 168.5h0M106.1 169h0M108.8 169.5h0M111.5 170h0M114.2 170.4h0M116.9 170.9h0M119.6 171.4h0M53 162.1h0M55.7 162.6h0M85.4 167.8h0M88.1 168.3h0M90.8 168.7h0M93.5 169.2h0M96.2 169.7h0M98.9 170.2h0M101.6 170.6h0M104.3 171.1h0M107 171.6h0M109.7 172.1h0M112.4 172.5h0M115.1 173h0M117.8 173.5h0M81 169.4h0M83.7 169.9h0M86.4 170.4h0M89.1 170.8h0M91.8 171.3h0M94.5 171.8h0M97.2 172.3h0M99.9 172.7h0M102.6 173.2h0M105.3 173.7h0M108 174.2h0M110.7 174.6h0M113.3 175.1h0M116 175.6h0M118.7 176.1h0M52.2 166.8h0M84.6 172.5h0M87.3 172.9h0M90 173.4h0M92.7 173.9h0M95.4 174.4h0M98.1 174.8h0M100.8 175.3h0M103.5 175.8h0M106.2 176.3h0M108.9 176.7h0M111.6 177.2h0M114.3 177.7h0M117 178.2h0M53.2 169.3h0M82.8 174.6h0M85.5 175h0M88.2 175.5h0M90.9 176h0M93.6 176.5h0M96.3 176.9h0M99 177.4h0M101.7 177.9h0M104.4 178.4h0M107.1 178.8h0M109.8 179.3h0M112.5 179.8h0M115.2 180.3h0M117.9 180.7h0M51.4 171.4h0M83.8 177.1h0M86.5 177.6h0M89.2 178.1h0M91.9 178.6h0M94.6 179h0M97.3 179.5h0M100 180h0M102.7 180.5h0M105.4 180.9h0M108.1 181.4h0M110.8 181.9h0M113.5 182.4h0M116.2 182.8h0M52.3 174h0M82 179.2h0M84.7 179.7h0M87.4 180.2h0M90.1 180.7h0M92.8 181.1h0M95.5 181.6h0M98.2 182.1h0M100.9 182.6h0M103.6 183h0M106.3 183.5h0M109 184h0M111.7 184.5h0M117.1 185.4h0M50.6 176.1h0M83 181.8h0M85.7 182.3h0M88.4 182.8h0M91.1 183.2h0M93.7 183.7h0M96.4 184.2h0M99.1 184.7h0M101.8 185.1h0M104.5 185.6h0M107.2 186.1h0M51.5 178.7h0M83.9 184.4h0M86.6 184.9h0M89.3 185.3h0M92 185.8h0M94.7 186.3h0M97.4 186.8h0M100.1 187.2h0M102.8 187.7h0M105.5 188.2h0M108.2 188.7h0M116.3 190.1h0M82.1 186.5h0M84.8 187h0M87.5 187.4h0M90.2 187.9h0M92.9 188.4h0M95.6 188.9h0M98.3 189.3h0M101 189.8h0M103.7 190.3h0M106.4 190.8h0M109.1 191.2h0M111.8 191.7h0M114.5 192.2h0M83.1 189.1h0M85.8 189.5h0M88.5 190h0M91.2 190.5h0M93.9 191h0M96.6 191.4h0M99.3 191.9h0M102 192.4h0M104.7 192.9h0M110.1 193.8h0M112.8 194.3h0M115.4 194.8h0M51.6 185.9h0M81.3 191.2h0M84 191.6h0M86.7 192.1h0M89.4 192.6h0M92.1 193.1h0M94.8 193.5h0M97.5 194h0M100.2 194.5h0M111 196.4h0M113.7 196.9h0M116.4 197.3h0M82.2 193.7h0M84.9 194.2h0M87.6 194.7h0M90.3 195.2h0M93 195.6h0M95.7 196.1h0M98.4 196.6h0M101.1 197.1h0M111.9 199h0M114.6 199.4h0M83.2 196.3h0M85.9 196.8h0M88.6 197.3h0M91.3 197.7h0M94 198.2h0M96.7 198.7h0M99.4 199.2h0M102.1 199.6h0M104.8 200.1h0M107.5 200.6h0M110.2 201.1h0M112.9 201.5h0M115.6 202h0M81.4 198.4h0M86.8 199.4h0M89.5 199.8h0M92.2 200.3h0M94.9 200.8h0M97.6 201.3h0M100.3 201.7h0M103 202.2h0M105.7 202.7h0M108.4 203.2h0M111.1 203.6h0M113.8 204.1h0M82.4 201h0M85.1 201.5h0M87.8 201.9h0M90.5 202.4h0M93.2 202.9h0M95.8 203.4h0M101.2 204.3h0M103.9 204.8h0M106.6 205.3h0M109.3 205.7h0M112 206.2h0M114.7 206.7h0M53.6 198.3h0M77.9 202.6h0M80.6 203.1h0M83.3 203.6h0M86 204h0M88.7 204.5h0M91.4 205h0M94.1 205.5h0M104.9 207.4h0M107.6 207.8h0M110.3 208.3h0M113 208.8h0M54.6 200.9h0M76.1 204.7h0M78.8 205.2h0M81.5 205.7h0M84.2 206.1h0M86.9 206.6h0M89.6 207.1h0M92.3 207.6h0M95 208h0M97.7 208.5h0M100.4 209h0M103.1 209.5h0M105.8 209.9h0M108.5 210.4h0M111.2 210.9h0M113.9 211.4h0M55.5 203.5h0M77.1 207.3h0M79.8 207.8h0M82.5 208.2h0M85.2 208.7h0M87.9 209.2h0M90.6 209.7h0M93.3 210.1h0M96 210.6h0M98.7 211.1h0M101.4 211.6h0M104.1 212h0M106.8 212.5h0M109.5 213h0M112.2 213.5h0M56.4 206h0M75.3 209.4h0M78 209.9h0M80.7 210.3h0M83.4 210.8h0M88.8 211.8h0M91.5 212.2h0M94.2 212.7h0M96.9 213.2h0M99.6 213.7h0M102.3 214.1h0M105 214.6h0M107.7 215.1h0M110.4 215.6h0M113.1 216h0M54.7 208.1h0M62.8 209.6h0M65.5 210.1h0M68.2 210.5h0M70.9 211h0M73.6 211.5h0M76.3 212h0M78.9 212.4h0M81.6 212.9h0M84.3 213.4h0M89.7 214.3h0M92.4 214.8h0M95.1 215.3h0M97.8 215.8h0M100.5 216.2h0M103.2 216.7h0M105.9 217.2h0M108.6 217.7h0M111.3 218.1h0M55.6 210.7h0M58.3 211.2h0M61 211.7h0M63.7 212.1h0M66.4 212.6h0M69.1 213.1h0M71.8 213.6h0M74.5 214.1h0M77.2 214.5h0M79.9 215h0M82.6 215.5h0M88 216.4h0M90.7 216.9h0M93.4 217.4h0M96.1 217.9h0M98.8 218.3h0M101.5 218.8h0M104.2 219.3h0M106.9 219.8h0M109.6 220.2h0M56.5 213.3h0M59.2 213.8h0M61.9 214.2h0M64.6 214.7h0M67.3 215.2h0M70 215.7h0M72.7 216.2h0M75.4 216.6h0M78.1 217.1h0M80.8 217.6h0M83.5 218.1h0M86.2 218.5h0M88.9 219h0M91.6 219.5h0M94.3 220h0M97 220.4h0M99.7 220.9h0M102.4 221.4h0M105.1 221.9h0M107.8 222.3h0M110.5 222.8h0M57.5 215.9h0M60.2 216.3h0M62.9 216.8h0M65.6 217.3h0M68.3 217.8h0M71 218.3h0M73.7 218.7h0M76.4 219.2h0M79.1 219.7h0M81.8 220.2h0M84.5 220.6h0M87.2 221.1h0M89.9 221.6h0M92.6 222.1h0M95.3 222.5h0M98 223h0M100.6 223.5h0M103.3 224h0M106 224.4h0M55.7 218h0M58.4 218.4h0M61.1 218.9h0M63.8 219.4h0M66.5 219.9h0M71.9 220.8h0M74.6 221.3h0M77.3 221.8h0M80 222.3h0M82.7 222.7h0M85.4 223.2h0M88.1 223.7h0M90.8 224.2h0M93.5 224.6h0M96.2 225.1h0M98.9 225.6h0M101.6 226.1h0M104.3 226.5h0M107 227h0M109.7 227.5h0M112.4 228h0M56.7 220.5h0M59.3 221h0M62 221.5h0M72.8 223.4h0M75.5 223.9h0M78.2 224.4h0M80.9 224.8h0M83.6 225.3h0M86.3 225.8h0M89 226.3h0M91.7 226.7h0M94.4 227.2h0M97.1 227.7h0M99.8 228.2h0M102.5 228.6h0M105.2 229.1h0M107.9 229.6h0M110.6 230.1h0M57.6 223.1h0M60.3 223.6h0M63 224.1h0M73.8 226h0M76.5 226.5h0M79.2 226.9h0M81.9 227.4h0M84.6 227.9h0M87.3 228.4h0M90 228.8h0M92.7 229.3h0M95.4 229.8h0M98.1 230.3h0M100.8 230.7h0M103.5 231.2h0M106.2 231.7h0M108.9 232.2h0M58.5 225.7h0M61.2 226.2h0M63.9 226.6h0M66.6 227.1h0M69.3 227.6h0M72 228.1h0M74.7 228.5h0M77.4 229h0M80.1 229.5h0M82.8 230h0M85.5 230.5h0M88.2 230.9h0M90.9 231.4h0M93.6 231.9h0M96.3 232.4h0M99 232.8h0M101.7 233.3h0M104.4 233.8h0M107.1 234.3h0M109.8 234.7h0M56.8 227.8h0M59.5 228.3h0M62.2 228.7h0M64.9 229.2h0M67.6 229.7h0M75.7 231.1h0M78.4 231.6h0M81 232.1h0M83.7 232.6h0M86.4 233h0M89.1 233.5h0M91.8 234h0M94.5 234.5h0M97.2 234.9h0M99.9 235.4h0M102.6 235.9h0M57.7 230.4h0M60.4 230.8h0M63.1 231.3h0M65.8 231.8h0M68.5 232.3h0M76.6 233.7h0M79.3 234.2h0M82 234.7h0M84.7 235.1h0M87.4 235.6h0M58.6 232.9h0M61.3 233.4h0M64 233.9h0M66.7 234.4h0M72.1 235.3h0M74.8 235.8h0M59.6 235.5h0M62.3 236h0M51.9 189.1h0M110.9 15.7h0M113.6 16.1h0M116.3 16.6h0M119 17.1h0M124.4 18h0M127.1 18.5h0M129.8 19h0M111.8 18.2h0M114.5 18.7h0M117.2 19.2h0M125.3 20.6h0M128 21.1h0M99.2 18.4h0M126.2 23.2h0M62.4 14.3h0M65.1 14.8h0M75.9 16.7h0M78.6 17.2h0M84 18.1h0M100.2 21h0M135.3 27.2h0M60.6 16.4h0M63.3 16.9h0M71.4 18.3h0M74.1 18.8h0M76.8 19.3h0M82.2 20.2h0M84.9 20.7h0M87.6 21.2h0M133.5 29.3h0M136.2 29.8h0M85.9 23.3h0M94 24.7h0M96.7 25.2h0M131.7 31.4h0M134.4 31.9h0M137.1 32.3h0M94.9 27.3h0M132.7 34h0M135.4 34.4h0M41.9 20.4h0M58.1 23.2h0M136.3 37h0M40.1 22.5h0M45.5 23.4h0M48.2 23.9h0M50.9 24.4h0M53.6 24.8h0M59 25.8h0M134.5 39.1h0M46.4 26h0M49.1 26.5h0M51.8 26.9h0M54.5 27.4h0M89.6 33.6h0M105.8 36.5h0M42 27.6h0M47.4 28.6h0M50.1 29h0M91.5 38.7h0M94.2 39.2h0M89.7 40.8h0M92.4 41.3h0M95.1 41.8h0M90.7 43.4h0M93.4 43.9h0M88.9 45.5h0M126.7 52.2h0M129.4 52.7h0M35.9 38.6h0M89.8 48.1h0M127.6 54.8h0M130.3 55.2h0M127.8 69.3h0M126.1 71.4h0M128.8 71.8h0M39.8 63.4h0M45.2 64.3h0M47.9 64.8h0M88.4 71.9h0M38.1 65.5h0M40.8 65.9h0M43.5 66.4h0M46.2 66.9h0M89.4 74.5h0M39 68h0M47.1 69.5h0M45.4 71.6h0M48.1 72h0M46.3 74.1h0M92.2 82.2h0M90.4 84.3h0M88.6 86.4h0M91.3 86.9h0M94 87.4h0M96.7 87.9h0M99.4 88.3h0M110.2 90.2h0M112.9 90.7h0M115.6 91.2h0M118.3 91.7h0M43.7 80.9h0M46.4 81.4h0M49.1 81.9h0M84.2 88.1h0M86.9 88.5h0M89.6 89h0M95 90h0M97.7 90.4h0M100.4 90.9h0M108.5 92.3h0M111.2 92.8h0M113.9 93.3h0M124.7 95.2h0M44.6 83.5h0M47.3 84h0M85.1 90.6h0M87.8 91.1h0M90.5 91.6h0M95.9 92.5h0M120.2 96.8h0M125.6 97.8h0M69.9 90.4h0M72.6 90.8h0M75.3 91.3h0M78 91.8h0M121.1 99.4h0M123.8 99.9h0M65.4 92h0M68.1 92.5h0M73.5 93.4h0M78.9 94.4h0M63.6 94.1h0M93.3 99.3h0M117.6 103.6h0M120.3 104.1h0M123 104.5h0M51.1 94.3h0M53.8 94.7h0M56.5 95.2h0M78.1 99h0M83.5 100h0M115.9 105.7h0M118.6 106.2h0M121.3 106.6h0M123.9 107.1h0M49.3 96.4h0M52 96.8h0M81.7 102.1h0M84.4 102.6h0M89.8 103.5h0M92.5 104h0M85.3 105.1h0M88 105.6h0M89.9 110.8h0M88.2 112.9h0M90.9 113.3h0M48.6 108.3h0M81 114h0M83.7 114.5h0M44.2 109.9h0M81.9 116.6h0M84.6 117.1h0M87.3 117.5h0M90 118h0M42.4 112h0M47.8 113h0M50.5 113.4h0M88.3 120.1h0M48.7 115.5h0M89.2 122.7h0M91.9 123.2h0M87.4 124.8h0M90.1 125.3h0M92.8 125.7h0M88.4 127.4h0M91.1 127.8h0M88.5 134.6h0M91.2 135.1h0M86.7 136.7h0M92.1 137.6h0M87.7 139.3h0M90.4 139.7h0M45.4 134.2h0M48.1 134.7h0M88.6 141.8h0M107.5 145.2h0M110.2 145.7h0M92.2 144.9h0M94.9 145.4h0M100.3 146.3h0M105.7 147.3h0M108.4 147.8h0M111.1 148.2h0M93.2 147.5h0M95.9 147.9h0M98.6 148.4h0M101.3 148.9h0M109.4 150.3h0M88.7 149.1h0M96.8 150.5h0M99.5 151h0M87 151.2h0M92.4 152.1h0M85.2 153.3h0M87.9 153.8h0M80.7 154.9h0M83.4 155.4h0M88.8 156.3h0M50.2 154.4h0M48.5 156.5h0M83.6 162.6h0M86.3 163.1h0M49.4 159h0M52.1 159.5h0M84.5 165.2h0M87.2 165.7h0M50.3 161.6h0M80 166.8h0M82.7 167.3h0M51.3 164.2h0M54 164.7h0M49.5 166.3h0M81.9 172h0M50.5 168.9h0M114.4 184.9h0M109.9 186.6h0M112.6 187h0M115.3 187.5h0M110.9 189.1h0M113.6 189.6h0M107.4 193.3h0M102.9 195h0M105.6 195.4h0M108.3 195.9h0M103.8 197.5h0M106.5 198h0M109.2 198.5h0M80.5 195.8h0M84.1 198.9h0M79.7 200.5h0M98.5 203.8h0M96.8 205.9h0M99.5 206.4h0M102.2 206.9h0M58.2 203.9h0M74.4 206.8h0M59.1 206.5h0M61.8 207h0M69.9 208.4h0M72.6 208.9h0M86.1 211.3h0M57.4 208.6h0M60.1 209.1h0M87 213.9h0M85.3 216h0M112.3 220.7h0M113.2 223.3h0M108.7 224.9h0M111.4 225.4h0M69.2 220.3h0M64.7 222h0M67.4 222.4h0M70.1 222.9h0M65.7 224.5h0M68.4 225h0M71.1 225.5h0M111.6 232.6h0M70.3 230.2h0M73 230.6h0M71.2 232.7h0M73.9 233.2h0M69.4 234.8h0M117 40.5h0M110.2 37.9h0M114.4 41.5h0M116.5 43.2h0M122.8 48.5h0M105.6 37.1h0M107.7 38.9h0M120.3 49.4h0M107.2 41.6h0M119.8 52.1h0M94.8 43.6h0M117.9 62.9h0M124.2 68.2h0M117.4 65.6h0M112.7 64.8h0M114.8 66.6h0M119 70.1h0M121.1 71.8h0M91.3 49.9h0M116.5 71h0M118.6 72.8h0M116 73.7h0M118.1 75.5h0M92.4 57h0M91.9 59.7h0M94 61.5h0M89.4 60.7h0M91.5 62.4h0M93.6 64.2h0M91 65.1h0M93.1 66.9h0M90.5 67.8h0M101 76.6h0M103.1 78.4h0M92.1 72.3h0M94.2 74.1h0M98.4 77.6h0M100.5 79.3h0M91.7 75h0M93.8 76.8h0M78.8 168h0M61.2 157.2h0M63.3 158.9h0M67.6 162.3h0M69.8 163.9h0M74.1 167.3h0M76.3 169h0M78.4 170.7h0M80.6 172.4h0M60.8 159.9h0M62.9 161.6h0M65.1 163.3h0M69.4 166.7h0M73.7 170h0M62.6 164.3h0M64.7 166h0M57.9 163.6h0M57.5 166.4h0M68.3 174.8h0M67.9 177.5h0M54.6 170.1h0M65.4 178.5h0M74 185.3h0M56.3 174.5h0M71.5 186.3h0M73.6 188h0M75.8 189.7h0M53.8 175.5h0M56 177.2h0M58.1 178.9h0M79.7 195.8h0M55.6 179.9h0M59.9 183.3h0M77.2 196.8h0M57.4 184.3h0M59.5 186h0M61.7 187.7h0M59.1 188.7h0M61.3 190.4h0M54.4 188.1h0M56.6 189.8h0M63.1 194.8h0M65.2 196.5h0M67.4 198.2h0M60.5 195.8h0M67 200.9h0M71.3 204.3h0M60.1 198.6h0M62.3 200.2h0M68.8 205.3h0M70.9 207h0M61.9 203h0M68.4 208h0M59.4 204h0M108 36.7h0M29 12h0M31.7 12h0M34.5 12h0M37.2 12h0M40 12h0M42.7 12h0M45.4 12h0M48.2 12h0M50.9 12h0M53.7 12h0M56.4 12h0M59.1 12h0M61.9 12h0M64.6 12h0M67.4 12h0M70.1 12h0M72.8 12h0M75.6 12h0M78.3 12h0M81.1 12h0M83.8 12h0M86.5 12h0M89.3 12h0M92 12h0M94.8 12h0M97.5 12h0M100.2 12h0M103 12h0M105.7 12h0M108.5 12h0M111.2 12h0M113.9 12h0M116.7 12h0M119.4 12h0M122.2 12h0M124.9 12h0M127.6 12h0M130.4 12h0M133.1 12h0M135.9 12h0M138.6 12h0M58.1 236.6h0M60.9 236.6h0M63.6 236.6h0M66.3 236.6h0M69.1 236.6h0M71.8 236.6h0M74.6 236.6h0M77.3 236.6h0M80 236.6h0M82.8 236.6h0M85.5 236.6h0M88.3 236.6h0M91 236.6h0M93.7 236.6h0M96.5 236.6h0M99.2 236.6h0M102 236.6h0M104.7 236.6h0M107.4 236.6h0M110.2 236.6h0M29.3 13.8h0M29.7 16.5h0M30 19.3h0M30.4 22h0M30.7 24.7h0M31 27.4h0M31.4 30.1h0M31.7 32.9h0M32.1 35.6h0M32.4 38.3h0M32.7 41h0M33.1 43.7h0M33.4 46.4h0M33.8 49.2h0M34.1 51.9h0M34.4 54.6h0M34.8 57.3h0M35.1 60h0M35.5 62.8h0M35.8 65.5h0M36.1 68.2h0M36.5 70.9h0M36.8 73.6h0M37.2 76.4h0M37.5 79.1h0M37.8 81.8h0M38.2 84.5h0M38.5 87.2h0M38.9 89.9h0M39.2 92.7h0M39.5 95.4h0M39.9 98.1h0M40.2 100.8h0M40.6 103.5h0M40.9 106.3h0M41.2 109h0M41.6 111.7h0M41.9 114.4h0M42.3 117.1h0M42.6 119.9h0M42.9 122.6h0M43.3 125.3h0M43.6 128h0M44 130.7h0M44.3 133.4h0M44.6 136.2h0M45 138.9h0M45.3 141.6h0M45.7 144.3h0M46 147h0M46.3 149.8h0M46.7 152.5h0M47 155.2h0M47.4 157.9h0M47.7 160.6h0M48 163.4h0M48.4 166.1h0M48.7 168.8h0M49.1 171.5h0M49.4 174.2h0M49.7 176.9h0M50.1 179.7h0M50.4 182.4h0M50.8 185.1h0M51.1 187.8h0M51.4 190.5h0M51.8 193.3h0M52.1 196h0M52.5 198.7h0M52.8 201.4h0M53.1 204.1h0M53.5 206.9h0M53.8 209.6h0M54.1 212.3h0M54.5 215h0M54.8 217.7h0M55.2 220.5h0M55.5 223.2h0M55.8 225.9h0M56.2 228.6h0M56.5 231.3h0M56.9 234h0M140.1 13.8h0M139.8 16.5h0M139.4 19.3h0M139.1 22h0M138.8 24.7h0M138.4 27.4h0M138.1 30.1h0M137.7 32.9h0M137.4 35.6h0M137.1 38.3h0M136.7 41h0M136.4 43.7h0M136 46.4h0M135.7 49.2h0M135.4 51.9h0M135 54.6h0M134.7 57.3h0M134.3 60h0M134 62.8h0M133.7 65.5h0M133.3 68.2h0M133 70.9h0M132.6 73.6h0M132.3 76.4h0M132 79.1h0M131.6 81.8h0M131.3 84.5h0M130.9 87.2h0M130.6 89.9h0M130.3 92.7h0M129.9 95.4h0M129.6 98.1h0M129.2 100.8h0M128.9 103.5h0M128.6 106.3h0M128.2 109h0M127.9 111.7h0M127.5 114.4h0M127.2 117.1h0M126.9 119.9h0M126.5 122.6h0M126.2 125.3h0M125.8 128h0M125.5 130.7h0M125.2 133.4h0M124.8 136.2h0M124.5 138.9h0M124.1 141.6h0M123.8 144.3h0M123.5 147h0M123.1 149.8h0M122.8 152.5h0M122.4 155.2h0M122.1 157.9h0M121.8 160.6h0M121.4 163.4h0M121.1 166.1h0M120.7 168.8h0M120.4 171.5h0M120.1 174.2h0M119.7 176.9h0M119.4 179.7h0M119 182.4h0M118.7 185.1h0M118.4 187.8h0M118 190.5h0M117.7 193.3h0M117.3 196h0M117 198.7h0M116.7 201.4h0M116.3 204.1h0M116 206.9h0M115.6 209.6h0M115.3 212.3h0M115 215h0M114.6 217.7h0M114.3 220.5h0M113.9 223.2h0M113.6 225.9h0M113.3 228.6h0M112.9 231.3h0M112.6 234h0" stroke="#20b4cc" stroke-opacity="0.3" stroke-width="2.3" stroke-linecap="round" fill="none"/>
<path d="M135 12.7h0M137.7 13.2h0M122.5 12.9h0M125.2 13.4h0M127.9 13.8h0M130.6 14.3h0M133.3 14.8h0M136 15.3h0M138.7 15.7h0M107.2 12.6h0M109.9 13.1h0M112.6 13.6h0M115.3 14h0M118 14.5h0M120.7 15h0M123.4 15.5h0M126.1 15.9h0M128.8 16.4h0M131.5 16.9h0M134.2 17.4h0M136.9 17.8h0M94.7 12.8h0M97.4 13.3h0M100.1 13.8h0M102.8 14.2h0M105.5 14.7h0M108.2 15.2h0M121.7 17.6h0M132.4 19.5h0M135.1 19.9h0M137.8 20.4h0M82.1 13h0M84.8 13.5h0M87.5 13.9h0M90.2 14.4h0M92.9 14.9h0M95.6 15.4h0M98.3 15.9h0M101 16.3h0M103.7 16.8h0M106.4 17.3h0M109.1 17.8h0M119.9 19.7h0M122.6 20.1h0M130.7 21.6h0M133.4 22h0M136.1 22.5h0M66.9 12.7h0M69.6 13.2h0M72.3 13.7h0M75 14.1h0M77.7 14.6h0M80.4 15.1h0M83.1 15.6h0M85.8 16h0M88.5 16.5h0M91.1 17h0M93.8 17.5h0M96.5 18h0M101.9 18.9h0M104.6 19.4h0M107.3 19.9h0M110 20.3h0M112.7 20.8h0M115.4 21.3h0M118.1 21.8h0M120.8 22.2h0M123.5 22.7h0M128.9 23.7h0M131.6 24.1h0M134.3 24.6h0M137 25.1h0M54.3 12.9h0M57 13.4h0M59.7 13.9h0M67.8 15.3h0M70.5 15.8h0M73.2 16.2h0M81.3 17.7h0M86.7 18.6h0M89.4 19.1h0M92.1 19.6h0M94.8 20.1h0M97.5 20.5h0M102.9 21.5h0M105.6 22h0M108.3 22.4h0M111 22.9h0M113.7 23.4h0M116.4 23.9h0M119.1 24.3h0M121.8 24.8h0M124.5 25.3h0M127.2 25.8h0M129.9 26.2h0M132.6 26.7h0M39.1 12.6h0M41.8 13.1h0M44.5 13.6h0M47.2 14.1h0M49.8 14.5h0M52.5 15h0M55.2 15.5h0M57.9 16h0M66 17.4h0M68.7 17.9h0M79.5 19.8h0M90.3 21.7h0M93 22.1h0M95.7 22.6h0M98.4 23.1h0M101.1 23.6h0M103.8 24.1h0M106.5 24.5h0M109.2 25h0M111.9 25.5h0M114.6 26h0M117.3 26.4h0M120 26.9h0M122.7 27.4h0M125.4 27.9h0M128.1 28.3h0M130.8 28.8h0M31.9 13.8h0M34.6 14.3h0M37.3 14.7h0M40 15.2h0M42.7 15.7h0M45.4 16.2h0M48.1 16.6h0M50.8 17.1h0M53.5 17.6h0M56.2 18.1h0M58.9 18.5h0M61.6 19h0M64.3 19.5h0M67 20h0M69.7 20.4h0M72.4 20.9h0M75.1 21.4h0M77.8 21.9h0M80.5 22.3h0M83.2 22.8h0M88.6 23.8h0M91.3 24.2h0M99.4 25.7h0M102.1 26.2h0M104.8 26.6h0M107.5 27.1h0M110.2 27.6h0M112.8 28.1h0M115.5 28.5h0M118.2 29h0M120.9 29.5h0M123.6 30h0M126.3 30.4h0M129 30.9h0M32.8 16.4h0M35.5 16.8h0M38.2 17.3h0M40.9 17.8h0M43.6 18.3h0M46.3 18.7h0M49 19.2h0M51.7 19.7h0M54.4 20.2h0M57.1 20.6h0M59.8 21.1h0M62.5 21.6h0M65.2 22.1h0M67.9 22.5h0M70.6 23h0M73.3 23.5h0M76 24h0M78.7 24.4h0M81.4 24.9h0M84.1 25.4h0M86.8 25.9h0M89.5 26.3h0M92.2 26.8h0M97.6 27.8h0M100.3 28.3h0M103 28.7h0M105.7 29.2h0M108.4 29.7h0M111.1 30.2h0M113.8 30.6h0M116.5 31.1h0M119.2 31.6h0M121.9 32.1h0M124.6 32.5h0M127.3 33h0M130 33.5h0M31.1 18.5h0M33.8 18.9h0M36.5 19.4h0M39.2 19.9h0M44.6 20.8h0M47.3 21.3h0M50 21.8h0M52.7 22.3h0M55.4 22.7h0M60.8 23.7h0M63.5 24.2h0M66.2 24.6h0M68.9 25.1h0M71.5 25.6h0M74.2 26.1h0M76.9 26.5h0M79.6 27h0M82.3 27.5h0M85 28h0M87.7 28.4h0M90.4 28.9h0M93.1 29.4h0M95.8 29.9h0M98.5 30.3h0M101.2 30.8h0M103.9 31.3h0M106.6 31.8h0M109.3 32.3h0M112 32.7h0M114.7 33.2h0M117.4 33.7h0M120.1 34.2h0M122.8 34.6h0M125.5 35.1h0M128.2 35.6h0M130.9 36.1h0M133.6 36.5h0M32 21h0M34.7 21.5h0M37.4 22h0M42.8 22.9h0M56.3 25.3h0M61.7 26.3h0M64.4 26.7h0M67.1 27.2h0M69.8 27.7h0M72.5 28.2h0M75.2 28.6h0M77.9 29.1h0M80.6 29.6h0M83.3 30.1h0M86 30.5h0M88.7 31h0M91.4 31.5h0M94.1 32h0M96.8 32.4h0M99.5 32.9h0M102.2 33.4h0M104.9 33.9h0M107.6 34.4h0M110.3 34.8h0M113 35.3h0M115.7 35.8h0M118.4 36.3h0M121.1 36.7h0M123.8 37.2h0M126.5 37.7h0M129.2 38.2h0M131.9 38.6h0M32.9 23.6h0M35.6 24.1h0M38.3 24.6h0M41 25h0M43.7 25.5h0M57.2 27.9h0M59.9 28.4h0M62.6 28.8h0M65.3 29.3h0M68 29.8h0M70.7 30.3h0M73.4 30.7h0M76.1 31.2h0M78.8 31.7h0M81.5 32.2h0M84.2 32.6h0M86.9 33.1h0M92.3 34.1h0M95 34.5h0M97.7 35h0M100.4 35.5h0M103.1 36h0M113.9 37.9h0M116.6 38.4h0M119.3 38.8h0M122 39.3h0M124.7 39.8h0M127.4 40.3h0M130.1 40.7h0M132.8 41.2h0M135.5 41.7h0M33.9 26.2h0M36.6 26.7h0M39.3 27.1h0M44.7 28.1h0M52.8 29.5h0M55.5 30h0M58.2 30.5h0M60.9 30.9h0M63.6 31.4h0M66.3 31.9h0M69 32.4h0M71.7 32.8h0M74.4 33.3h0M77.1 33.8h0M79.8 34.3h0M82.5 34.7h0M85.2 35.2h0M87.9 35.7h0M90.6 36.2h0M93.2 36.6h0M95.9 37.1h0M98.6 37.6h0M120.2 41.4h0M122.9 41.9h0M125.6 42.4h0M128.3 42.8h0M131 43.3h0M133.7 43.8h0M32.1 28.3h0M34.8 28.8h0M37.5 29.2h0M40.2 29.7h0M42.9 30.2h0M45.6 30.7h0M48.3 31.1h0M51 31.6h0M53.7 32.1h0M56.4 32.6h0M59.1 33h0M61.8 33.5h0M64.5 34h0M67.2 34.5h0M69.9 34.9h0M72.6 35.4h0M75.3 35.9h0M78 36.4h0M80.7 36.8h0M83.4 37.3h0M86.1 37.8h0M88.8 38.3h0M96.9 39.7h0M121.2 44h0M123.9 44.5h0M126.6 44.9h0M129.3 45.4h0M132 45.9h0M134.7 46.4h0M33.1 30.9h0M35.8 31.3h0M38.5 31.8h0M41.2 32.3h0M43.9 32.8h0M46.6 33.2h0M49.3 33.7h0M52 34.2h0M54.6 34.7h0M57.3 35.1h0M60 35.6h0M62.7 36.1h0M65.4 36.6h0M68.1 37h0M70.8 37.5h0M73.5 38h0M76.2 38.5h0M78.9 38.9h0M81.6 39.4h0M84.3 39.9h0M87 40.4h0M124.8 47h0M127.5 47.5h0M130.2 48h0M132.9 48.5h0M34 33.4h0M36.7 33.9h0M39.4 34.4h0M42.1 34.9h0M44.8 35.3h0M47.5 35.8h0M50.2 36.3h0M52.9 36.8h0M55.6 37.2h0M58.3 37.7h0M61 38.2h0M63.7 38.7h0M66.4 39.1h0M69.1 39.6h0M71.8 40.1h0M74.5 40.6h0M77.2 41h0M79.9 41.5h0M82.6 42h0M85.3 42.5h0M88 42.9h0M125.7 49.6h0M128.4 50.1h0M131.1 50.6h0M133.8 51h0M34.9 36h0M37.6 36.5h0M40.3 37h0M43 37.4h0M45.7 37.9h0M48.4 38.4h0M51.1 38.9h0M53.8 39.3h0M56.5 39.8h0M59.2 40.3h0M61.9 40.8h0M64.6 41.2h0M67.3 41.7h0M70 42.2h0M72.7 42.7h0M75.4 43.1h0M78.1 43.6h0M80.8 44.1h0M83.5 44.6h0M86.2 45h0M91.6 46h0M132.1 53.1h0M33.2 38.1h0M38.6 39.1h0M41.3 39.5h0M44 40h0M46.7 40.5h0M49.4 41h0M52.1 41.4h0M54.8 41.9h0M57.5 42.4h0M60.2 42.9h0M62.9 43.3h0M65.6 43.8h0M68.3 44.3h0M71 44.8h0M73.7 45.2h0M76.3 45.7h0M79 46.2h0M81.7 46.7h0M84.4 47.1h0M87.1 47.6h0M133 55.7h0M34.1 40.7h0M36.8 41.2h0M39.5 41.6h0M42.2 42.1h0M44.9 42.6h0M47.6 43.1h0M50.3 43.5h0M53 44h0M55.7 44.5h0M58.4 45h0M61.1 45.4h0M63.8 45.9h0M66.5 46.4h0M69.2 46.9h0M71.9 47.3h0M74.6 47.8h0M77.3 48.3h0M80 48.8h0M82.7 49.2h0M85.4 49.7h0M88.1 50.2h0M125.9 56.9h0M128.6 57.3h0M131.3 57.8h0M134 58.3h0M35 43.3h0M37.7 43.7h0M40.4 44.2h0M43.1 44.7h0M45.8 45.2h0M48.5 45.6h0M51.2 46.1h0M53.9 46.6h0M56.6 47.1h0M59.3 47.5h0M62 48h0M64.7 48.5h0M67.4 49h0M70.1 49.4h0M72.8 49.9h0M75.5 50.4h0M78.2 50.9h0M80.9 51.3h0M83.6 51.8h0M86.3 52.3h0M89 52.8h0M126.8 59.4h0M129.5 59.9h0M132.2 60.4h0M36 45.8h0M38.7 46.3h0M41.4 46.8h0M44.1 47.3h0M46.8 47.7h0M49.5 48.2h0M52.2 48.7h0M54.9 49.2h0M57.6 49.6h0M60.3 50.1h0M63 50.6h0M65.7 51.1h0M68.4 51.5h0M71.1 52h0M73.8 52.5h0M76.5 53h0M79.2 53.4h0M81.9 53.9h0M84.6 54.4h0M87.3 54.9h0M127.7 62h0M130.4 62.5h0M133.1 63h0M34.2 47.9h0M36.9 48.4h0M39.6 48.9h0M42.3 49.4h0M45 49.8h0M47.7 50.3h0M50.4 50.8h0M53.1 51.3h0M55.8 51.7h0M58.5 52.2h0M61.2 52.7h0M63.9 53.2h0M66.6 53.6h0M69.3 54.1h0M72 54.6h0M74.7 55.1h0M77.4 55.5h0M80.1 56h0M82.8 56.5h0M85.5 57h0M88.2 57.4h0M128.7 64.6h0M131.4 65.1h0M35.2 50.5h0M37.9 51h0M40.6 51.5h0M43.3 51.9h0M46 52.4h0M48.7 52.9h0M51.4 53.4h0M54.1 53.8h0M56.7 54.3h0M59.4 54.8h0M62.1 55.3h0M64.8 55.7h0M67.5 56.2h0M70.2 56.7h0M72.9 57.2h0M75.6 57.6h0M78.3 58.1h0M81 58.6h0M83.7 59.1h0M86.4 59.5h0M126.9 66.7h0M129.6 67.2h0M132.3 67.6h0M36.1 53.1h0M38.8 53.5h0M41.5 54h0M44.2 54.5h0M46.9 55h0M49.6 55.5h0M52.3 55.9h0M55 56.4h0M57.7 56.9h0M60.4 57.4h0M63.1 57.8h0M65.8 58.3h0M68.5 58.8h0M71.2 59.3h0M73.9 59.7h0M76.6 60.2h0M79.3 60.7h0M82 61.2h0M84.7 61.6h0M87.4 62.1h0M130.5 69.7h0M37 55.6h0M39.7 56.1h0M42.4 56.6h0M45.1 57.1h0M47.8 57.6h0M50.5 58h0M53.2 58.5h0M55.9 59h0M58.6 59.5h0M61.3 59.9h0M64 60.4h0M66.7 60.9h0M69.4 61.4h0M72.1 61.8h0M74.8 62.3h0M77.5 62.8h0M80.2 63.3h0M82.9 63.7h0M85.6 64.2h0M88.3 64.7h0M131.5 72.3h0M38 58.2h0M40.7 58.7h0M43.4 59.2h0M46.1 59.7h0M48.8 60.1h0M51.5 60.6h0M54.2 61.1h0M56.9 61.6h0M59.6 62h0M62.3 62.5h0M65 63h0M67.7 63.5h0M70.4 63.9h0M73.1 64.4h0M75.8 64.9h0M78.4 65.4h0M81.1 65.8h0M83.8 66.3h0M86.5 66.8h0M127 73.9h0M129.7 74.4h0M36.2 60.3h0M38.9 60.8h0M41.6 61.3h0M44.3 61.7h0M47 62.2h0M49.7 62.7h0M52.4 63.2h0M55.1 63.7h0M57.8 64.1h0M60.5 64.6h0M63.2 65.1h0M65.9 65.6h0M68.6 66h0M71.3 66.5h0M74 67h0M76.7 67.5h0M79.4 67.9h0M82.1 68.4h0M84.8 68.9h0M87.5 69.4h0M125.3 76h0M128 76.5h0M130.7 77h0M37.1 62.9h0M42.5 63.8h0M50.6 65.3h0M53.3 65.8h0M56 66.2h0M58.7 66.7h0M61.4 67.2h0M64.1 67.7h0M66.8 68.1h0M69.5 68.6h0M72.2 69.1h0M74.9 69.6h0M77.6 70h0M80.3 70.5h0M83 71h0M85.7 71.5h0M123.5 78.1h0M126.2 78.6h0M128.9 79.1h0M48.9 67.4h0M51.6 67.9h0M54.3 68.3h0M57 68.8h0M59.7 69.3h0M62.4 69.8h0M65.1 70.2h0M67.8 70.7h0M70.5 71.2h0M73.2 71.7h0M75.9 72.1h0M78.6 72.6h0M81.3 73.1h0M84 73.6h0M86.7 74h0M124.4 80.7h0M127.1 81.2h0M129.8 81.6h0M41.7 68.5h0M44.4 69h0M49.8 70h0M52.5 70.4h0M55.2 70.9h0M57.9 71.4h0M60.6 71.9h0M63.3 72.3h0M66 72.8h0M68.7 73.3h0M71.4 73.8h0M74.1 74.2h0M76.8 74.7h0M79.5 75.2h0M82.2 75.7h0M84.9 76.1h0M87.6 76.6h0M90.3 77.1h0M122.7 82.8h0M125.4 83.3h0M128.1 83.7h0M37.3 70.1h0M40 70.6h0M42.7 71.1h0M50.8 72.5h0M53.5 73h0M56.2 73.5h0M58.8 74h0M61.5 74.4h0M64.2 74.9h0M66.9 75.4h0M69.6 75.9h0M72.3 76.3h0M75 76.8h0M77.7 77.3h0M80.4 77.8h0M83.1 78.2h0M85.8 78.7h0M88.5 79.2h0M91.2 79.7h0M120.9 84.9h0M123.6 85.4h0M126.3 85.8h0M129 86.3h0M38.2 72.7h0M40.9 73.2h0M43.6 73.7h0M49 74.6h0M51.7 75.1h0M54.4 75.6h0M57.1 76.1h0M59.8 76.5h0M62.5 77h0M65.2 77.5h0M67.9 78h0M70.6 78.4h0M73.3 78.9h0M76 79.4h0M78.7 79.9h0M81.4 80.3h0M84.1 80.8h0M86.8 81.3h0M89.5 81.8h0M119.2 87h0M121.8 87.5h0M124.5 87.9h0M127.2 88.4h0M129.9 88.9h0M39.1 75.3h0M41.8 75.8h0M44.5 76.2h0M47.2 76.7h0M49.9 77.2h0M52.6 77.7h0M55.3 78.2h0M58 78.6h0M60.7 79.1h0M63.4 79.6h0M66.1 80.1h0M68.8 80.5h0M71.5 81h0M74.2 81.5h0M76.9 82h0M79.6 82.4h0M82.3 82.9h0M85 83.4h0M87.7 83.9h0M93.1 84.8h0M95.8 85.3h0M114.7 88.6h0M117.4 89.1h0M120.1 89.6h0M122.8 90h0M125.5 90.5h0M128.2 91h0M40.1 77.9h0M42.8 78.3h0M45.5 78.8h0M48.2 79.3h0M50.9 79.8h0M53.6 80.2h0M56.3 80.7h0M59 81.2h0M61.7 81.7h0M64.4 82.2h0M67.1 82.6h0M69.8 83.1h0M72.5 83.6h0M75.2 84.1h0M77.9 84.5h0M80.5 85h0M83.2 85.5h0M85.9 86h0M121 92.1h0M123.7 92.6h0M126.4 93.1h0M129.1 93.6h0M38.3 80h0M41 80.4h0M51.8 82.3h0M54.5 82.8h0M57.2 83.3h0M59.9 83.8h0M62.6 84.3h0M65.3 84.7h0M68 85.2h0M70.7 85.7h0M73.4 86.2h0M76.1 86.6h0M78.8 87.1h0M81.5 87.6h0M92.3 89.5h0M103.1 91.4h0M105.8 91.9h0M116.6 93.8h0M119.3 94.2h0M122 94.7h0M127.4 95.7h0M39.2 82.5h0M41.9 83h0M50 84.4h0M52.7 84.9h0M55.4 85.4h0M58.1 85.9h0M60.8 86.4h0M63.5 86.8h0M66.2 87.3h0M68.9 87.8h0M71.6 88.3h0M74.3 88.7h0M77 89.2h0M79.7 89.7h0M82.4 90.2h0M93.2 92.1h0M98.6 93h0M101.3 93.5h0M104 94h0M106.7 94.4h0M109.4 94.9h0M112.1 95.4h0M114.8 95.9h0M117.5 96.3h0M122.9 97.3h0M128.3 98.2h0M40.2 85.1h0M42.9 85.6h0M45.6 86.1h0M48.3 86.5h0M51 87h0M53.7 87.5h0M56.4 88h0M59.1 88.4h0M61.8 88.9h0M64.5 89.4h0M67.2 89.9h0M80.7 92.3h0M83.4 92.7h0M86.1 93.2h0M88.8 93.7h0M91.5 94.2h0M94.2 94.6h0M96.9 95.1h0M99.6 95.6h0M102.2 96.1h0M104.9 96.5h0M107.6 97h0M110.3 97.5h0M113 98h0M115.7 98.4h0M118.4 98.9h0M126.5 100.3h0M41.1 87.7h0M43.8 88.2h0M46.5 88.6h0M49.2 89.1h0M51.9 89.6h0M54.6 90.1h0M57.3 90.5h0M60 91h0M62.7 91.5h0M70.8 92.9h0M76.2 93.9h0M81.6 94.8h0M84.3 95.3h0M87 95.8h0M89.7 96.3h0M92.4 96.7h0M95.1 97.2h0M97.8 97.7h0M100.5 98.2h0M103.2 98.6h0M105.9 99.1h0M108.6 99.6h0M111.3 100.1h0M114 100.5h0M116.7 101h0M119.4 101.5h0M122.1 102h0M124.8 102.4h0M127.5 102.9h0M42.1 90.3h0M44.8 90.7h0M47.5 91.2h0M50.2 91.7h0M52.9 92.2h0M55.6 92.6h0M58.3 93.1h0M60.9 93.6h0M66.3 94.6h0M69 95h0M71.7 95.5h0M74.4 96h0M77.1 96.5h0M79.8 96.9h0M82.5 97.4h0M85.2 97.9h0M87.9 98.4h0M90.6 98.8h0M96 99.8h0M98.7 100.3h0M101.4 100.7h0M104.1 101.2h0M106.8 101.7h0M109.5 102.2h0M112.2 102.6h0M114.9 103.1h0M125.7 105h0M40.3 92.4h0M43 92.8h0M45.7 93.3h0M48.4 93.8h0M59.2 95.7h0M61.9 96.2h0M64.6 96.6h0M67.3 97.1h0M70 97.6h0M72.7 98.1h0M75.4 98.6h0M80.8 99.5h0M86.2 100.5h0M88.9 100.9h0M91.6 101.4h0M94.3 101.9h0M97 102.4h0M99.7 102.8h0M102.4 103.3h0M105.1 103.8h0M107.8 104.3h0M110.5 104.7h0M113.2 105.2h0M126.6 107.6h0M41.2 94.9h0M43.9 95.4h0M46.6 95.9h0M54.7 97.3h0M57.4 97.8h0M60.1 98.3h0M62.8 98.7h0M65.5 99.2h0M68.2 99.7h0M70.9 100.2h0M73.6 100.7h0M76.3 101.1h0M79 101.6h0M87.1 103h0M95.2 104.5h0M97.9 104.9h0M100.6 105.4h0M103.3 105.9h0M106 106.4h0M108.7 106.8h0M111.4 107.3h0M114.1 107.8h0M116.8 108.3h0M119.5 108.7h0M122.2 109.2h0M124.9 109.7h0M42.2 97.5h0M44.9 98h0M47.6 98.5h0M50.3 98.9h0M53 99.4h0M55.7 99.9h0M58.4 100.4h0M61.1 100.8h0M63.8 101.3h0M66.5 101.8h0M69.2 102.3h0M71.9 102.8h0M74.6 103.2h0M77.3 103.7h0M80 104.2h0M82.6 104.7h0M90.7 106.1h0M93.4 106.6h0M96.1 107h0M98.8 107.5h0M101.5 108h0M104.2 108.5h0M106.9 108.9h0M109.6 109.4h0M112.3 109.9h0M115 110.4h0M117.7 110.8h0M120.4 111.3h0M123.1 111.8h0M125.8 112.3h0M43.1 100.1h0M45.8 100.6h0M48.5 101h0M51.2 101.5h0M53.9 102h0M56.6 102.5h0M59.3 102.9h0M62 103.4h0M64.7 103.9h0M67.4 104.4h0M70.1 104.8h0M72.8 105.3h0M75.5 105.8h0M78.2 106.3h0M80.9 106.8h0M83.6 107.2h0M86.3 107.7h0M89 108.2h0M91.7 108.7h0M94.4 109.1h0M97.1 109.6h0M99.8 110.1h0M102.5 110.6h0M105.2 111h0M107.9 111.5h0M110.6 112h0M113.3 112.5h0M116 112.9h0M118.7 113.4h0M121.4 113.9h0M124.1 114.4h0M126.8 114.8h0M41.3 102.2h0M44 102.7h0M46.7 103.1h0M49.4 103.6h0M52.1 104.1h0M54.8 104.6h0M57.5 105h0M60.2 105.5h0M62.9 106h0M65.6 106.5h0M68.3 106.9h0M71 107.4h0M73.7 107.9h0M76.4 108.4h0M79.1 108.9h0M81.8 109.3h0M84.5 109.8h0M87.2 110.3h0M92.6 111.2h0M95.3 111.7h0M98 112.2h0M100.7 112.7h0M103.4 113.1h0M106.1 113.6h0M108.8 114.1h0M111.5 114.6h0M114.2 115h0M116.9 115.5h0M119.6 116h0M122.3 116.5h0M125 116.9h0M42.3 104.8h0M45 105.2h0M47.7 105.7h0M50.4 106.2h0M53.1 106.7h0M55.8 107.1h0M58.5 107.6h0M61.2 108.1h0M63.9 108.6h0M66.6 109h0M69.3 109.5h0M72 110h0M74.7 110.5h0M77.4 111h0M80.1 111.4h0M82.8 111.9h0M85.5 112.4h0M93.6 113.8h0M96.3 114.3h0M99 114.8h0M101.7 115.2h0M104.3 115.7h0M107 116.2h0M109.7 116.7h0M112.4 117.1h0M115.1 117.6h0M117.8 118.1h0M120.5 118.6h0M123.2 119h0M125.9 119.5h0M43.2 107.3h0M45.9 107.8h0M51.3 108.8h0M54 109.2h0M56.7 109.7h0M59.4 110.2h0M62.1 110.7h0M64.8 111.1h0M67.5 111.6h0M70.2 112.1h0M72.9 112.6h0M75.6 113h0M78.3 113.5h0M86.4 115h0M89.1 115.4h0M91.8 115.9h0M94.5 116.4h0M97.2 116.9h0M99.9 117.3h0M102.6 117.8h0M105.3 118.3h0M108 118.8h0M110.7 119.2h0M113.4 119.7h0M116.1 120.2h0M118.8 120.7h0M121.5 121.1h0M124.2 121.6h0M46.9 110.4h0M49.6 110.9h0M52.3 111.3h0M55 111.8h0M57.7 112.3h0M60.4 112.8h0M63 113.2h0M65.7 113.7h0M68.4 114.2h0M71.1 114.7h0M73.8 115.1h0M76.5 115.6h0M79.2 116.1h0M92.7 118.5h0M95.4 119h0M98.1 119.4h0M100.8 119.9h0M103.5 120.4h0M106.2 120.9h0M108.9 121.3h0M111.6 121.8h0M114.3 122.3h0M117 122.8h0M119.7 123.2h0M122.4 123.7h0M125.1 124.2h0M45.1 112.5h0M53.2 113.9h0M55.9 114.4h0M58.6 114.9h0M61.3 115.3h0M64 115.8h0M66.7 116.3h0M69.4 116.8h0M72.1 117.2h0M74.8 117.7h0M77.5 118.2h0M80.2 118.7h0M82.9 119.2h0M85.6 119.6h0M91 120.6h0M93.7 121.1h0M96.4 121.5h0M99.1 122h0M101.8 122.5h0M104.5 123h0M107.2 123.4h0M109.9 123.9h0M112.6 124.4h0M115.3 124.9h0M118 125.3h0M120.7 125.8h0M123.4 126.3h0M43.3 114.6h0M46 115.1h0M51.4 116h0M54.1 116.5h0M56.8 117h0M59.5 117.4h0M62.2 117.9h0M64.9 118.4h0M67.6 118.9h0M70.3 119.3h0M73 119.8h0M75.7 120.3h0M78.4 120.8h0M81.1 121.2h0M83.8 121.7h0M86.5 122.2h0M94.6 123.6h0M97.3 124.1h0M100 124.6h0M102.7 125.1h0M105.4 125.5h0M108.1 126h0M110.8 126.5h0M113.5 127h0M116.2 127.4h0M118.9 127.9h0M121.6 128.4h0M124.3 128.9h0M44.3 117.2h0M47 117.6h0M49.7 118.1h0M52.4 118.6h0M55.1 119.1h0M57.8 119.5h0M60.5 120h0M63.2 120.5h0M65.9 121h0M68.6 121.4h0M71.3 121.9h0M74 122.4h0M76.7 122.9h0M79.4 123.3h0M82.1 123.8h0M84.8 124.3h0M95.5 126.2h0M98.2 126.7h0M100.9 127.2h0M103.6 127.6h0M106.3 128.1h0M109 128.6h0M111.7 129.1h0M114.4 129.5h0M117.1 130h0M119.8 130.5h0M122.5 131h0M45.2 119.7h0M47.9 120.2h0M50.6 120.7h0M53.3 121.2h0M56 121.6h0M58.7 122.1h0M61.4 122.6h0M64.1 123.1h0M66.8 123.5h0M69.5 124h0M72.2 124.5h0M74.9 125h0M77.6 125.4h0M80.3 125.9h0M83 126.4h0M85.7 126.9h0M93.8 128.3h0M96.5 128.8h0M99.2 129.3h0M101.9 129.7h0M104.6 130.2h0M107.3 130.7h0M110 131.2h0M112.7 131.6h0M115.4 132.1h0M118.1 132.6h0M120.8 133.1h0M123.5 133.5h0M43.5 121.8h0M46.1 122.3h0M48.8 122.8h0M51.5 123.3h0M54.2 123.7h0M56.9 124.2h0M59.6 124.7h0M62.3 125.2h0M65 125.6h0M67.7 126.1h0M70.4 126.6h0M73.1 127.1h0M75.8 127.5h0M78.5 128h0M81.2 128.5h0M83.9 129h0M86.6 129.4h0M89.3 129.9h0M92 130.4h0M94.7 130.9h0M97.4 131.4h0M100.1 131.8h0M102.8 132.3h0M105.5 132.8h0M108.2 133.3h0M110.9 133.7h0M113.6 134.2h0M116.3 134.7h0M119 135.2h0M121.7 135.6h0M44.4 124.4h0M47.1 124.9h0M49.8 125.4h0M52.5 125.8h0M55.2 126.3h0M57.9 126.8h0M60.6 127.3h0M63.3 127.7h0M66 128.2h0M68.7 128.7h0M71.4 129.2h0M74.1 129.6h0M76.8 130.1h0M79.5 130.6h0M82.2 131.1h0M84.9 131.5h0M87.6 132h0M90.3 132.5h0M93 133h0M95.7 133.5h0M98.4 133.9h0M101.1 134.4h0M103.8 134.9h0M106.5 135.4h0M109.1 135.8h0M111.8 136.3h0M114.5 136.8h0M117.2 137.3h0M119.9 137.7h0M122.6 138.2h0M45.3 127h0M48 127.5h0M50.7 127.9h0M53.4 128.4h0M56.1 128.9h0M58.8 129.4h0M61.5 129.8h0M64.2 130.3h0M66.9 130.8h0M69.6 131.3h0M72.3 131.7h0M75 132.2h0M77.7 132.7h0M80.4 133.2h0M83.1 133.6h0M85.8 134.1h0M93.9 135.6h0M96.6 136h0M99.3 136.5h0M102 137h0M104.7 137.5h0M107.4 137.9h0M110.1 138.4h0M112.8 138.9h0M115.5 139.4h0M118.2 139.8h0M120.9 140.3h0M123.6 140.8h0M46.3 129.6h0M49 130h0M51.7 130.5h0M54.4 131h0M57.1 131.5h0M59.8 131.9h0M62.5 132.4h0M65.2 132.9h0M67.8 133.4h0M70.5 133.8h0M73.2 134.3h0M75.9 134.8h0M78.6 135.3h0M81.3 135.7h0M84 136.2h0M89.4 137.2h0M94.8 138.1h0M97.5 138.6h0M100.2 139.1h0M102.9 139.6h0M105.6 140h0M108.3 140.5h0M111 141h0M113.7 141.5h0M116.4 141.9h0M119.1 142.4h0M121.8 142.9h0M47.2 132.1h0M49.9 132.6h0M52.6 133.1h0M55.3 133.6h0M58 134h0M60.7 134.5h0M63.4 135h0M66.1 135.5h0M68.8 135.9h0M71.5 136.4h0M74.2 136.9h0M76.9 137.4h0M79.6 137.8h0M82.3 138.3h0M85 138.8h0M93.1 140.2h0M95.8 140.7h0M98.5 141.2h0M101.2 141.7h0M103.9 142.1h0M106.6 142.6h0M109.3 143.1h0M112 143.6h0M114.7 144h0M117.4 144.5h0M120.1 145h0M122.8 145.5h0M50.8 135.2h0M53.5 135.7h0M56.2 136.1h0M58.9 136.6h0M61.6 137.1h0M64.3 137.6h0M67 138h0M69.7 138.5h0M72.4 139h0M75.1 139.5h0M77.8 139.9h0M80.5 140.4h0M83.2 140.9h0M85.9 141.4h0M91.3 142.3h0M94 142.8h0M96.7 143.3h0M99.4 143.8h0M102.1 144.2h0M104.8 144.7h0M112.9 146.1h0M115.6 146.6h0M118.3 147.1h0M121 147.6h0M46.4 136.8h0M49.1 137.3h0M51.8 137.8h0M54.5 138.2h0M57.2 138.7h0M59.9 139.2h0M62.6 139.7h0M65.3 140.1h0M68 140.6h0M70.7 141.1h0M73.4 141.6h0M76.1 142h0M78.8 142.5h0M81.5 143h0M84.2 143.5h0M86.9 143.9h0M89.5 144.4h0M97.6 145.8h0M103 146.8h0M113.8 148.7h0M116.5 149.2h0M119.2 149.7h0M121.9 150.1h0M47.3 139.4h0M50 139.9h0M52.7 140.3h0M55.4 140.8h0M58.1 141.3h0M60.8 141.8h0M63.5 142.2h0M66.2 142.7h0M68.9 143.2h0M71.6 143.7h0M74.3 144.1h0M77 144.6h0M79.7 145.1h0M82.4 145.6h0M85.1 146h0M87.8 146.5h0M90.5 147h0M104 149.4h0M106.7 149.9h0M112.1 150.8h0M114.8 151.3h0M117.5 151.8h0M120.2 152.2h0M48.2 142h0M50.9 142.4h0M53.6 142.9h0M56.3 143.4h0M59 143.9h0M61.7 144.3h0M64.4 144.8h0M67.1 145.3h0M69.8 145.8h0M72.5 146.2h0M75.2 146.7h0M77.9 147.2h0M80.6 147.7h0M83.3 148.1h0M86 148.6h0M91.4 149.6h0M94.1 150h0M102.2 151.5h0M104.9 152h0M107.6 152.4h0M110.3 152.9h0M113 153.4h0M115.7 153.9h0M118.4 154.3h0M121.1 154.8h0M46.5 144.1h0M49.2 144.5h0M51.9 145h0M54.6 145.5h0M57.3 146h0M60 146.4h0M62.7 146.9h0M65.4 147.4h0M68.1 147.9h0M70.8 148.3h0M73.5 148.8h0M76.2 149.3h0M78.9 149.8h0M81.6 150.2h0M84.3 150.7h0M89.7 151.7h0M95.1 152.6h0M97.8 153.1h0M100.5 153.6h0M103.2 154h0M105.9 154.5h0M108.6 155h0M111.2 155.5h0M113.9 156h0M116.6 156.4h0M119.3 156.9h0M47.4 146.6h0M50.1 147.1h0M52.8 147.6h0M55.5 148.1h0M58.2 148.5h0M60.9 149h0M63.6 149.5h0M66.3 150h0M69 150.4h0M71.7 150.9h0M74.4 151.4h0M77.1 151.9h0M79.8 152.3h0M82.5 152.8h0M90.6 154.2h0M93.3 154.7h0M96 155.2h0M98.7 155.7h0M101.4 156.1h0M104.1 156.6h0M106.8 157.1h0M109.5 157.6h0M112.2 158.1h0M114.9 158.5h0M117.6 159h0M120.3 159.5h0M48.4 149.2h0M51.1 149.7h0M53.8 150.2h0M56.5 150.6h0M59.2 151.1h0M61.9 151.6h0M64.6 152.1h0M67.3 152.5h0M69.9 153h0M72.6 153.5h0M75.3 154h0M78 154.4h0M86.1 155.9h0M91.5 156.8h0M94.2 157.3h0M96.9 157.8h0M99.6 158.2h0M102.3 158.7h0M105 159.2h0M107.7 159.7h0M110.4 160.2h0M113.1 160.6h0M115.8 161.1h0M118.5 161.6h0M49.3 151.8h0M52 152.3h0M54.7 152.7h0M57.4 153.2h0M60.1 153.7h0M62.8 154.2h0M65.5 154.6h0M73.6 156.1h0M76.3 156.5h0M79 157h0M81.7 157.5h0M84.4 158h0M87.1 158.4h0M89.8 158.9h0M92.5 159.4h0M95.2 159.9h0M97.9 160.3h0M100.6 160.8h0M103.3 161.3h0M106 161.8h0M108.7 162.2h0M111.4 162.7h0M114.1 163.2h0M116.8 163.7h0M119.5 164.2h0M47.5 153.9h0M52.9 154.8h0M55.6 155.3h0M58.3 155.8h0M61 156.3h0M77.2 159.1h0M79.9 159.6h0M82.6 160.1h0M85.3 160.5h0M88 161h0M90.7 161.5h0M93.4 162h0M96.1 162.4h0M98.8 162.9h0M101.5 163.4h0M104.2 163.9h0M106.9 164.3h0M109.6 164.8h0M112.3 165.3h0M115 165.8h0M117.7 166.3h0M120.4 166.7h0M51.2 156.9h0M53.9 157.4h0M56.6 157.9h0M59.3 158.4h0M78.2 161.7h0M80.9 162.2h0M89 163.6h0M91.6 164.1h0M94.3 164.5h0M97 165h0M99.7 165.5h0M102.4 166h0M105.1 166.4h0M107.8 166.9h0M110.5 167.4h0M113.2 167.9h0M115.9 168.4h0M118.6 168.8h0M54.8 160h0M57.5 160.5h0M79.1 164.3h0M81.8 164.7h0M89.9 166.2h0M92.6 166.6h0M95.3 167.1h0M98 167.6h0M100.7 168.1h0M103.4 168.5h0M106.1 169h0M108.8 169.5h0M111.5 170h0M114.2 170.4h0M116.9 170.9h0M119.6 171.4h0M53 162.1h0M55.7 162.6h0M85.4 167.8h0M88.1 168.3h0M90.8 168.7h0M93.5 169.2h0M96.2 169.7h0M98.9 170.2h0M101.6 170.6h0M104.3 171.1h0M107 171.6h0M109.7 172.1h0M112.4 172.5h0M115.1 173h0M117.8 173.5h0M81 169.4h0M83.7 169.9h0M86.4 170.4h0M89.1 170.8h0M91.8 171.3h0M94.5 171.8h0M97.2 172.3h0M99.9 172.7h0M102.6 173.2h0M105.3 173.7h0M108 174.2h0M110.7 174.6h0M113.3 175.1h0M116 175.6h0M118.7 176.1h0M52.2 166.8h0M84.6 172.5h0M87.3 172.9h0M90 173.4h0M92.7 173.9h0M95.4 174.4h0M98.1 174.8h0M100.8 175.3h0M103.5 175.8h0M106.2 176.3h0M108.9 176.7h0M111.6 177.2h0M114.3 177.7h0M117 178.2h0M53.2 169.3h0M82.8 174.6h0M85.5 175h0M88.2 175.5h0M90.9 176h0M93.6 176.5h0M96.3 176.9h0M99 177.4h0M101.7 177.9h0M104.4 178.4h0M107.1 178.8h0M109.8 179.3h0M112.5 179.8h0M115.2 180.3h0M117.9 180.7h0M51.4 171.4h0M83.8 177.1h0M86.5 177.6h0M89.2 178.1h0M91.9 178.6h0M94.6 179h0M97.3 179.5h0M100 180h0M102.7 180.5h0M105.4 180.9h0M108.1 181.4h0M110.8 181.9h0M113.5 182.4h0M116.2 182.8h0M52.3 174h0M82 179.2h0M84.7 179.7h0M87.4 180.2h0M90.1 180.7h0M92.8 181.1h0M95.5 181.6h0M98.2 182.1h0M100.9 182.6h0M103.6 183h0M106.3 183.5h0M109 184h0M111.7 184.5h0M117.1 185.4h0M50.6 176.1h0M83 181.8h0M85.7 182.3h0M88.4 182.8h0M91.1 183.2h0M93.7 183.7h0M96.4 184.2h0M99.1 184.7h0M101.8 185.1h0M104.5 185.6h0M107.2 186.1h0M51.5 178.7h0M83.9 184.4h0M86.6 184.9h0M89.3 185.3h0M92 185.8h0M94.7 186.3h0M97.4 186.8h0M100.1 187.2h0M102.8 187.7h0M105.5 188.2h0M108.2 188.7h0M116.3 190.1h0M82.1 186.5h0M84.8 187h0M87.5 187.4h0M90.2 187.9h0M92.9 188.4h0M95.6 188.9h0M98.3 189.3h0M101 189.8h0M103.7 190.3h0M106.4 190.8h0M109.1 191.2h0M111.8 191.7h0M114.5 192.2h0M83.1 189.1h0M85.8 189.5h0M88.5 190h0M91.2 190.5h0M93.9 191h0M96.6 191.4h0M99.3 191.9h0M102 192.4h0M104.7 192.9h0M110.1 193.8h0M112.8 194.3h0M115.4 194.8h0M51.6 185.9h0M81.3 191.2h0M84 191.6h0M86.7 192.1h0M89.4 192.6h0M92.1 193.1h0M94.8 193.5h0M97.5 194h0M100.2 194.5h0M111 196.4h0M113.7 196.9h0M116.4 197.3h0M82.2 193.7h0M84.9 194.2h0M87.6 194.7h0M90.3 195.2h0M93 195.6h0M95.7 196.1h0M98.4 196.6h0M101.1 197.1h0M111.9 199h0M114.6 199.4h0M83.2 196.3h0M85.9 196.8h0M88.6 197.3h0M91.3 197.7h0M94 198.2h0M96.7 198.7h0M99.4 199.2h0M102.1 199.6h0M104.8 200.1h0M107.5 200.6h0M110.2 201.1h0M112.9 201.5h0M115.6 202h0M81.4 198.4h0M86.8 199.4h0M89.5 199.8h0M92.2 200.3h0M94.9 200.8h0M97.6 201.3h0M100.3 201.7h0M103 202.2h0M105.7 202.7h0M108.4 203.2h0M111.1 203.6h0M113.8 204.1h0M82.4 201h0M85.1 201.5h0M87.8 201.9h0M90.5 202.4h0M93.2 202.9h0M95.8 203.4h0M101.2 204.3h0M103.9 204.8h0M106.6 205.3h0M109.3 205.7h0M112 206.2h0M114.7 206.7h0M53.6 198.3h0M77.9 202.6h0M80.6 203.1h0M83.3 203.6h0M86 204h0M88.7 204.5h0M91.4 205h0M94.1 205.5h0M104.9 207.4h0M107.6 207.8h0M110.3 208.3h0M113 208.8h0M54.6 200.9h0M76.1 204.7h0M78.8 205.2h0M81.5 205.7h0M84.2 206.1h0M86.9 206.6h0M89.6 207.1h0M92.3 207.6h0M95 208h0M97.7 208.5h0M100.4 209h0M103.1 209.5h0M105.8 209.9h0M108.5 210.4h0M111.2 210.9h0M113.9 211.4h0M55.5 203.5h0M77.1 207.3h0M79.8 207.8h0M82.5 208.2h0M85.2 208.7h0M87.9 209.2h0M90.6 209.7h0M93.3 210.1h0M96 210.6h0M98.7 211.1h0M101.4 211.6h0M104.1 212h0M106.8 212.5h0M109.5 213h0M112.2 213.5h0M56.4 206h0M75.3 209.4h0M78 209.9h0M80.7 210.3h0M83.4 210.8h0M88.8 211.8h0M91.5 212.2h0M94.2 212.7h0M96.9 213.2h0M99.6 213.7h0M102.3 214.1h0M105 214.6h0M107.7 215.1h0M110.4 215.6h0M113.1 216h0M54.7 208.1h0M62.8 209.6h0M65.5 210.1h0M68.2 210.5h0M70.9 211h0M73.6 211.5h0M76.3 212h0M78.9 212.4h0M81.6 212.9h0M84.3 213.4h0M89.7 214.3h0M92.4 214.8h0M95.1 215.3h0M97.8 215.8h0M100.5 216.2h0M103.2 216.7h0M105.9 217.2h0M108.6 217.7h0M111.3 218.1h0M55.6 210.7h0M58.3 211.2h0M61 211.7h0M63.7 212.1h0M66.4 212.6h0M69.1 213.1h0M71.8 213.6h0M74.5 214.1h0M77.2 214.5h0M79.9 215h0M82.6 215.5h0M88 216.4h0M90.7 216.9h0M93.4 217.4h0M96.1 217.9h0M98.8 218.3h0M101.5 218.8h0M104.2 219.3h0M106.9 219.8h0M109.6 220.2h0M56.5 213.3h0M59.2 213.8h0M61.9 214.2h0M64.6 214.7h0M67.3 215.2h0M70 215.7h0M72.7 216.2h0M75.4 216.6h0M78.1 217.1h0M80.8 217.6h0M83.5 218.1h0M86.2 218.5h0M88.9 219h0M91.6 219.5h0M94.3 220h0M97 220.4h0M99.7 220.9h0M102.4 221.4h0M105.1 221.9h0M107.8 222.3h0M110.5 222.8h0M57.5 215.9h0M60.2 216.3h0M62.9 216.8h0M65.6 217.3h0M68.3 217.8h0M71 218.3h0M73.7 218.7h0M76.4 219.2h0M79.1 219.7h0M81.8 220.2h0M84.5 220.6h0M87.2 221.1h0M89.9 221.6h0M92.6 222.1h0M95.3 222.5h0M98 223h0M100.6 223.5h0M103.3 224h0M106 224.4h0M55.7 218h0M58.4 218.4h0M61.1 218.9h0M63.8 219.4h0M66.5 219.9h0M71.9 220.8h0M74.6 221.3h0M77.3 221.8h0M80 222.3h0M82.7 222.7h0M85.4 223.2h0M88.1 223.7h0M90.8 224.2h0M93.5 224.6h0M96.2 225.1h0M98.9 225.6h0M101.6 226.1h0M104.3 226.5h0M107 227h0M109.7 227.5h0M112.4 228h0M56.7 220.5h0M59.3 221h0M62 221.5h0M72.8 223.4h0M75.5 223.9h0M78.2 224.4h0M80.9 224.8h0M83.6 225.3h0M86.3 225.8h0M89 226.3h0M91.7 226.7h0M94.4 227.2h0M97.1 227.7h0M99.8 228.2h0M102.5 228.6h0M105.2 229.1h0M107.9 229.6h0M110.6 230.1h0M57.6 223.1h0M60.3 223.6h0M63 224.1h0M73.8 226h0M76.5 226.5h0M79.2 226.9h0M81.9 227.4h0M84.6 227.9h0M87.3 228.4h0M90 228.8h0M92.7 229.3h0M95.4 229.8h0M98.1 230.3h0M100.8 230.7h0M103.5 231.2h0M106.2 231.7h0M108.9 232.2h0M58.5 225.7h0M61.2 226.2h0M63.9 226.6h0M66.6 227.1h0M69.3 227.6h0M72 228.1h0M74.7 228.5h0M77.4 229h0M80.1 229.5h0M82.8 230h0M85.5 230.5h0M88.2 230.9h0M90.9 231.4h0M93.6 231.9h0M96.3 232.4h0M99 232.8h0M101.7 233.3h0M104.4 233.8h0M107.1 234.3h0M109.8 234.7h0M56.8 227.8h0M59.5 228.3h0M62.2 228.7h0M64.9 229.2h0M67.6 229.7h0M75.7 231.1h0M78.4 231.6h0M81 232.1h0M83.7 232.6h0M86.4 233h0M89.1 233.5h0M91.8 234h0M94.5 234.5h0M97.2 234.9h0M99.9 235.4h0M102.6 235.9h0M57.7 230.4h0M60.4 230.8h0M63.1 231.3h0M65.8 231.8h0M68.5 232.3h0M76.6 233.7h0M79.3 234.2h0M82 234.7h0M84.7 235.1h0M87.4 235.6h0M58.6 232.9h0M61.3 233.4h0M64 233.9h0M66.7 234.4h0M72.1 235.3h0M74.8 235.8h0M59.6 235.5h0M62.3 236h0M51.9 189.1h0" stroke="#faec18" stroke-width="1.75" stroke-linecap="round" fill="none"/>
<path d="M110.9 15.7h0M113.6 16.1h0M116.3 16.6h0M119 17.1h0M124.4 18h0M127.1 18.5h0M129.8 19h0M111.8 18.2h0M114.5 18.7h0M117.2 19.2h0M125.3 20.6h0M128 21.1h0M99.2 18.4h0M126.2 23.2h0M62.4 14.3h0M65.1 14.8h0M75.9 16.7h0M78.6 17.2h0M84 18.1h0M100.2 21h0M135.3 27.2h0M60.6 16.4h0M63.3 16.9h0M71.4 18.3h0M74.1 18.8h0M76.8 19.3h0M82.2 20.2h0M84.9 20.7h0M87.6 21.2h0M133.5 29.3h0M136.2 29.8h0M85.9 23.3h0M94 24.7h0M96.7 25.2h0M131.7 31.4h0M134.4 31.9h0M137.1 32.3h0M94.9 27.3h0M132.7 34h0M135.4 34.4h0M41.9 20.4h0M58.1 23.2h0M136.3 37h0M40.1 22.5h0M45.5 23.4h0M48.2 23.9h0M50.9 24.4h0M53.6 24.8h0M59 25.8h0M134.5 39.1h0M46.4 26h0M49.1 26.5h0M51.8 26.9h0M54.5 27.4h0M89.6 33.6h0M105.8 36.5h0M42 27.6h0M47.4 28.6h0M50.1 29h0M91.5 38.7h0M94.2 39.2h0M89.7 40.8h0M92.4 41.3h0M95.1 41.8h0M90.7 43.4h0M93.4 43.9h0M88.9 45.5h0M126.7 52.2h0M129.4 52.7h0M35.9 38.6h0M89.8 48.1h0M127.6 54.8h0M130.3 55.2h0M127.8 69.3h0M126.1 71.4h0M128.8 71.8h0M39.8 63.4h0M45.2 64.3h0M47.9 64.8h0M88.4 71.9h0M38.1 65.5h0M40.8 65.9h0M43.5 66.4h0M46.2 66.9h0M89.4 74.5h0M39 68h0M47.1 69.5h0M45.4 71.6h0M48.1 72h0M46.3 74.1h0M92.2 82.2h0M90.4 84.3h0M88.6 86.4h0M91.3 86.9h0M94 87.4h0M96.7 87.9h0M99.4 88.3h0M110.2 90.2h0M112.9 90.7h0M115.6 91.2h0M118.3 91.7h0M43.7 80.9h0M46.4 81.4h0M49.1 81.9h0M84.2 88.1h0M86.9 88.5h0M89.6 89h0M95 90h0M97.7 90.4h0M100.4 90.9h0M108.5 92.3h0M111.2 92.8h0M113.9 93.3h0M124.7 95.2h0M44.6 83.5h0M47.3 84h0M85.1 90.6h0M87.8 91.1h0M90.5 91.6h0M95.9 92.5h0M120.2 96.8h0M125.6 97.8h0M69.9 90.4h0M72.6 90.8h0M75.3 91.3h0M78 91.8h0M121.1 99.4h0M123.8 99.9h0M65.4 92h0M68.1 92.5h0M73.5 93.4h0M78.9 94.4h0M63.6 94.1h0M93.3 99.3h0M117.6 103.6h0M120.3 104.1h0M123 104.5h0M51.1 94.3h0M53.8 94.7h0M56.5 95.2h0M78.1 99h0M83.5 100h0M115.9 105.7h0M118.6 106.2h0M121.3 106.6h0M123.9 107.1h0M49.3 96.4h0M52 96.8h0M81.7 102.1h0M84.4 102.6h0M89.8 103.5h0M92.5 104h0M85.3 105.1h0M88 105.6h0M89.9 110.8h0M88.2 112.9h0M90.9 113.3h0M48.6 108.3h0M81 114h0M83.7 114.5h0M44.2 109.9h0M81.9 116.6h0M84.6 117.1h0M87.3 117.5h0M90 118h0M42.4 112h0M47.8 113h0M50.5 113.4h0M88.3 120.1h0M48.7 115.5h0M89.2 122.7h0M91.9 123.2h0M87.4 124.8h0M90.1 125.3h0M92.8 125.7h0M88.4 127.4h0M91.1 127.8h0M88.5 134.6h0M91.2 135.1h0M86.7 136.7h0M92.1 137.6h0M87.7 139.3h0M90.4 139.7h0M45.4 134.2h0M48.1 134.7h0M88.6 141.8h0M107.5 145.2h0M110.2 145.7h0M92.2 144.9h0M94.9 145.4h0M100.3 146.3h0M105.7 147.3h0M108.4 147.8h0M111.1 148.2h0M93.2 147.5h0M95.9 147.9h0M98.6 148.4h0M101.3 148.9h0M109.4 150.3h0M88.7 149.1h0M96.8 150.5h0M99.5 151h0M87 151.2h0M92.4 152.1h0M85.2 153.3h0M87.9 153.8h0M80.7 154.9h0M83.4 155.4h0M88.8 156.3h0M50.2 154.4h0M48.5 156.5h0M83.6 162.6h0M86.3 163.1h0M49.4 159h0M52.1 159.5h0M84.5 165.2h0M87.2 165.7h0M50.3 161.6h0M80 166.8h0M82.7 167.3h0M51.3 164.2h0M54 164.7h0M49.5 166.3h0M81.9 172h0M50.5 168.9h0M114.4 184.9h0M109.9 186.6h0M112.6 187h0M115.3 187.5h0M110.9 189.1h0M113.6 189.6h0M107.4 193.3h0M102.9 195h0M105.6 195.4h0M108.3 195.9h0M103.8 197.5h0M106.5 198h0M109.2 198.5h0M80.5 195.8h0M84.1 198.9h0M79.7 200.5h0M98.5 203.8h0M96.8 205.9h0M99.5 206.4h0M102.2 206.9h0M58.2 203.9h0M74.4 206.8h0M59.1 206.5h0M61.8 207h0M69.9 208.4h0M72.6 208.9h0M86.1 211.3h0M57.4 208.6h0M60.1 209.1h0M87 213.9h0M85.3 216h0M112.3 220.7h0M113.2 223.3h0M108.7 224.9h0M111.4 225.4h0M69.2 220.3h0M64.7 222h0M67.4 222.4h0M70.1 222.9h0M65.7 224.5h0M68.4 225h0M71.1 225.5h0M111.6 232.6h0M70.3 230.2h0M73 230.6h0M71.2 232.7h0M73.9 233.2h0M69.4 234.8h0M117 40.5h0M110.2 37.9h0M114.4 41.5h0M116.5 43.2h0M122.8 48.5h0M105.6 37.1h0M107.7 38.9h0M120.3 49.4h0M107.2 41.6h0M119.8 52.1h0M94.8 43.6h0M117.9 62.9h0M124.2 68.2h0M117.4 65.6h0M112.7 64.8h0M114.8 66.6h0M119 70.1h0M121.1 71.8h0M91.3 49.9h0M116.5 71h0M118.6 72.8h0M116 73.7h0M118.1 75.5h0M92.4 57h0M91.9 59.7h0M94 61.5h0M89.4 60.7h0M91.5 62.4h0M93.6 64.2h0M91 65.1h0M93.1 66.9h0M90.5 67.8h0M101 76.6h0M103.1 78.4h0M92.1 72.3h0M94.2 74.1h0M98.4 77.6h0M100.5 79.3h0M91.7 75h0M93.8 76.8h0M78.8 168h0M61.2 157.2h0M63.3 158.9h0M67.6 162.3h0M69.8 163.9h0M74.1 167.3h0M76.3 169h0M78.4 170.7h0M80.6 172.4h0M60.8 159.9h0M62.9 161.6h0M65.1 163.3h0M69.4 166.7h0M73.7 170h0M62.6 164.3h0M64.7 166h0M57.9 163.6h0M57.5 166.4h0M68.3 174.8h0M67.9 177.5h0M54.6 170.1h0M65.4 178.5h0M74 185.3h0M56.3 174.5h0M71.5 186.3h0M73.6 188h0M75.8 189.7h0M53.8 175.5h0M56 177.2h0M58.1 178.9h0M79.7 195.8h0M55.6 179.9h0M59.9 183.3h0M77.2 196.8h0M57.4 184.3h0M59.5 186h0M61.7 187.7h0M59.1 188.7h0M61.3 190.4h0M54.4 188.1h0M56.6 189.8h0M63.1 194.8h0M65.2 196.5h0M67.4 198.2h0M60.5 195.8h0M67 200.9h0M71.3 204.3h0M60.1 198.6h0M62.3 200.2h0M68.8 205.3h0M70.9 207h0M61.9 203h0M68.4 208h0M59.4 204h0M108 36.7h0M29 12h0M31.7 12h0M34.5 12h0M37.2 12h0M40 12h0M42.7 12h0M45.4 12h0M48.2 12h0M50.9 12h0M53.7 12h0M56.4 12h0M59.1 12h0M61.9 12h0M64.6 12h0M67.4 12h0M70.1 12h0M72.8 12h0M75.6 12h0M78.3 12h0M81.1 12h0M83.8 12h0M86.5 12h0M89.3 12h0M92 12h0M94.8 12h0M97.5 12h0M100.2 12h0M103 12h0M105.7 12h0M108.5 12h0M111.2 12h0M113.9 12h0M116.7 12h0M119.4 12h0M122.2 12h0M124.9 12h0M127.6 12h0M130.4 12h0M133.1 12h0M135.9 12h0M138.6 12h0M58.1 236.6h0M60.9 236.6h0M63.6 236.6h0M66.3 236.6h0M69.1 236.6h0M71.8 236.6h0M74.6 236.6h0M77.3 236.6h0M80 236.6h0M82.8 236.6h0M85.5 236.6h0M88.3 236.6h0M91 236.6h0M93.7 236.6h0M96.5 236.6h0M99.2 236.6h0M102 236.6h0M104.7 236.6h0M107.4 236.6h0M110.2 236.6h0M29.3 13.8h0M29.7 16.5h0M30 19.3h0M30.4 22h0M30.7 24.7h0M31 27.4h0M31.4 30.1h0M31.7 32.9h0M32.1 35.6h0M32.4 38.3h0M32.7 41h0M33.1 43.7h0M33.4 46.4h0M33.8 49.2h0M34.1 51.9h0M34.4 54.6h0M34.8 57.3h0M35.1 60h0M35.5 62.8h0M35.8 65.5h0M36.1 68.2h0M36.5 70.9h0M36.8 73.6h0M37.2 76.4h0M37.5 79.1h0M37.8 81.8h0M38.2 84.5h0M38.5 87.2h0M38.9 89.9h0M39.2 92.7h0M39.5 95.4h0M39.9 98.1h0M40.2 100.8h0M40.6 103.5h0M40.9 106.3h0M41.2 109h0M41.6 111.7h0M41.9 114.4h0M42.3 117.1h0M42.6 119.9h0M42.9 122.6h0M43.3 125.3h0M43.6 128h0M44 130.7h0M44.3 133.4h0M44.6 136.2h0M45 138.9h0M45.3 141.6h0M45.7 144.3h0M46 147h0M46.3 149.8h0M46.7 152.5h0M47 155.2h0M47.4 157.9h0M47.7 160.6h0M48 163.4h0M48.4 166.1h0M48.7 168.8h0M49.1 171.5h0M49.4 174.2h0M49.7 176.9h0M50.1 179.7h0M50.4 182.4h0M50.8 185.1h0M51.1 187.8h0M51.4 190.5h0M51.8 193.3h0M52.1 196h0M52.5 198.7h0M52.8 201.4h0M53.1 204.1h0M53.5 206.9h0M53.8 209.6h0M54.1 212.3h0M54.5 215h0M54.8 217.7h0M55.2 220.5h0M55.5 223.2h0M55.8 225.9h0M56.2 228.6h0M56.5 231.3h0M56.9 234h0M140.1 13.8h0M139.8 16.5h0M139.4 19.3h0M139.1 22h0M138.8 24.7h0M138.4 27.4h0M138.1 30.1h0M137.7 32.9h0M137.4 35.6h0M137.1 38.3h0M136.7 41h0M136.4 43.7h0M136 46.4h0M135.7 49.2h0M135.4 51.9h0M135 54.6h0M134.7 57.3h0M134.3 60h0M134 62.8h0M133.7 65.5h0M133.3 68.2h0M133 70.9h0M132.6 73.6h0M132.3 76.4h0M132 79.1h0M131.6 81.8h0M131.3 84.5h0M130.9 87.2h0M130.6 89.9h0M130.3 92.7h0M129.9 95.4h0M129.6 98.1h0M129.2 100.8h0M128.9 103.5h0M128.6 106.3h0M128.2 109h0M127.9 111.7h0M127.5 114.4h0M127.2 117.1h0M126.9 119.9h0M126.5 122.6h0M126.2 125.3h0M125.8 128h0M125.5 130.7h0M125.2 133.4h0M124.8 136.2h0M124.5 138.9h0M124.1 141.6h0M123.8 144.3h0M123.5 147h0M123.1 149.8h0M122.8 152.5h0M122.4 155.2h0M122.1 157.9h0M121.8 160.6h0M121.4 163.4h0M121.1 166.1h0M120.7 168.8h0M120.4 171.5h0M120.1 174.2h0M119.7 176.9h0M119.4 179.7h0M119 182.4h0M118.7 185.1h0M118.4 187.8h0M118 190.5h0M117.7 193.3h0M117.3 196h0M117 198.7h0M116.7 201.4h0M116.3 204.1h0M116 206.9h0M115.6 209.6h0M115.3 212.3h0M115 215h0M114.6 217.7h0M114.3 220.5h0M113.9 223.2h0M113.6 225.9h0M113.3 228.6h0M112.9 231.3h0M112.6 234h0" stroke="#d0683a" stroke-width="1.8" stroke-linecap="round" fill="none"/>
<g clip-path="url(#trap)"><polygon points="28.1,11.1 141.35,11.1 113.04,237.6 56.41,237.6" fill="none" stroke="#c85a3c" stroke-opacity="0.55" stroke-width="1.4"/></g></g>
<g transform="translate(238.1,274.5)">
<text x="24.2" y="242.1" text-anchor="end" class="t">-300</text>
<text x="24.2" y="204.35" text-anchor="end" class="t">-200</text>
<text x="24.2" y="166.6" text-anchor="end" class="t">-100</text>
<text x="24.2" y="128.85" text-anchor="end" class="t">0</text>
<text x="24.2" y="91.1" text-anchor="end" class="t">100</text>
<text x="24.2" y="53.35" text-anchor="end" class="t">200</text>
<text x="24.2" y="15.6" text-anchor="end" class="t">300</text>
<text x="46.98" y="252.1" text-anchor="middle" class="t">-100</text>
<text x="84.72" y="252.1" text-anchor="middle" class="t">0</text>
<text x="122.47" y="252.1" text-anchor="middle" class="t">100</text>
<rect x="148.2" y="11.1" width="12" height="226.4" fill="url(#cbg)" stroke="#8c8c8c" stroke-width="0.9"/>
<path d="M160.2 11.1h-2.2" stroke="#444" stroke-width="0.8"/>
<text x="163.9" y="15.4" class="t">1</text>
<path d="M160.2 56.38h-2.2" stroke="#444" stroke-width="0.8"/>
<text x="163.9" y="60.68" class="t d">0.5</text>
<path d="M160.2 101.66h-2.2" stroke="#444" stroke-width="0.8"/>
<text x="163.9" y="105.96" class="t">0</text>
<path d="M160.2 146.94h-2.2" stroke="#444" stroke-width="0.8"/>
<text x="163.6" y="151.24" class="t d">-0.5</text>
<path d="M160.2 192.22h-2.2" stroke="#444" stroke-width="0.8"/>
<text x="163.6" y="196.52" class="t">-1</text>
<path d="M160.2 237.5h-2.2" stroke="#444" stroke-width="0.8"/>
<text x="163.6" y="241.8" class="t d">-1.5</text>
<text x="91.4" y="271" text-anchor="middle" class="cap">(d)</text>
</g></svg>
</body></html>
